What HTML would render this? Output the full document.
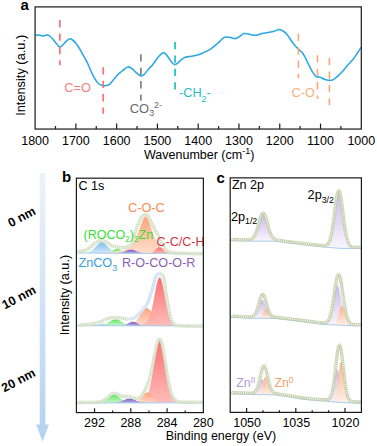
<!DOCTYPE html>
<html><head><meta charset="utf-8"><style>
html,body{margin:0;padding:0;background:#fff;}
svg{display:block;font-family:"Liberation Sans",sans-serif;}
</style></head><body>
<svg width="377" height="446" viewBox="0 0 377 446"><text x="20.6" y="10.3" font-size="15" font-weight="bold" font-family="Liberation Sans, sans-serif">a</text>
<path d="M35.8,35.4 C36.33,35.32 37.90,34.80 39.00,34.90 C40.10,35.00 41.50,35.85 42.40,36.00 C43.30,36.15 43.62,35.98 44.40,35.80 C45.18,35.62 46.20,34.87 47.10,34.90 C48.00,34.93 48.80,35.25 49.80,36.00 C50.80,36.75 51.98,38.13 53.10,39.40 C54.22,40.67 55.48,42.37 56.50,43.60 C57.52,44.83 58.30,46.43 59.20,46.80 C60.10,47.17 60.78,46.67 61.90,45.80 C63.02,44.93 64.67,42.75 65.90,41.60 C67.13,40.45 68.18,39.17 69.30,38.90 C70.42,38.63 71.37,39.10 72.60,40.00 C73.83,40.90 75.35,42.53 76.70,44.30 C78.05,46.07 79.63,48.80 80.70,50.60 C81.77,52.40 82.17,53.43 83.10,55.10 C84.03,56.77 85.25,58.55 86.30,60.60 C87.35,62.65 88.37,65.10 89.40,67.40 C90.43,69.70 91.45,72.30 92.50,74.40 C93.55,76.50 94.65,78.40 95.70,80.00 C96.75,81.60 97.63,83.07 98.80,84.00 C99.97,84.93 101.40,85.33 102.70,85.60 C104.00,85.87 105.42,85.85 106.60,85.60 C107.78,85.35 108.62,85.10 109.80,84.10 C110.98,83.10 112.40,81.13 113.70,79.60 C115.00,78.07 116.30,76.25 117.60,74.90 C118.90,73.55 120.32,72.48 121.50,71.50 C122.68,70.52 123.62,69.77 124.70,69.00 C125.78,68.23 126.77,66.97 128.00,66.90 C129.23,66.83 130.75,67.65 132.10,68.60 C133.45,69.55 134.65,71.38 136.10,72.60 C137.55,73.82 139.45,75.60 140.80,75.90 C142.15,76.20 142.97,75.48 144.20,74.40 C145.43,73.32 146.85,70.93 148.20,69.40 C149.55,67.87 150.78,67.05 152.30,65.20 C153.82,63.35 155.62,60.30 157.30,58.30 C158.98,56.30 161.05,53.98 162.40,53.20 C163.75,52.42 164.23,52.63 165.40,53.60 C166.57,54.57 168.30,57.52 169.40,59.00 C170.50,60.48 171.12,61.57 172.00,62.50 C172.88,63.43 173.68,64.55 174.70,64.60 C175.72,64.65 177.03,63.58 178.10,62.80 C179.17,62.02 179.92,60.82 181.10,59.90 C182.28,58.98 183.52,57.90 185.20,57.30 C186.88,56.70 189.18,56.67 191.20,56.30 C193.22,55.93 195.28,55.70 197.30,55.10 C199.32,54.50 201.28,53.57 203.30,52.70 C205.32,51.83 207.55,50.98 209.40,49.90 C211.25,48.82 212.72,47.58 214.40,46.20 C216.08,44.82 217.82,43.08 219.50,41.60 C221.18,40.12 222.82,38.02 224.50,37.30 C226.18,36.58 227.82,37.08 229.60,37.30 C231.38,37.52 233.65,38.67 235.20,38.60 C236.75,38.53 237.50,37.73 238.90,36.90 C240.30,36.07 242.05,34.10 243.60,33.60 C245.15,33.10 246.67,33.65 248.20,33.90 C249.73,34.15 251.25,34.90 252.80,35.10 C254.35,35.30 255.95,35.35 257.50,35.10 C259.05,34.85 260.40,34.02 262.10,33.60 C263.80,33.18 265.68,33.00 267.70,32.60 C269.72,32.20 272.35,31.70 274.20,31.20 C276.05,30.70 277.40,29.67 278.80,29.60 C280.20,29.53 281.35,30.13 282.60,30.80 C283.85,31.47 285.15,32.40 286.30,33.60 C287.45,34.80 288.30,36.32 289.50,38.00 C290.70,39.68 292.05,41.87 293.50,43.70 C294.95,45.53 296.60,47.33 298.20,49.00 C299.80,50.67 301.58,51.57 303.10,53.70 C304.62,55.83 305.88,59.03 307.30,61.80 C308.72,64.57 310.17,67.88 311.60,70.30 C313.03,72.72 314.48,75.13 315.90,76.30 C317.32,77.47 318.68,76.80 320.10,77.30 C321.52,77.80 322.98,78.80 324.40,79.30 C325.82,79.80 327.18,80.20 328.60,80.30 C330.02,80.40 331.48,80.50 332.90,79.90 C334.32,79.30 335.52,78.12 337.10,76.70 C338.68,75.28 340.62,73.35 342.40,71.40 C344.18,69.45 346.02,67.02 347.80,65.00 C349.58,62.98 351.52,61.25 353.10,59.30 C354.68,57.35 355.95,55.30 357.30,53.30 C358.65,51.30 360.55,48.30 361.20,47.30" fill="none" stroke="#2aa8e4" stroke-width="1.55" stroke-linejoin="round"/>
<line x1="59.85" y1="20.1" x2="59.85" y2="65.2" stroke="#ff7072" stroke-width="1.7" stroke-dasharray="7.3 6.1"/>
<line x1="103.2" y1="67.3" x2="103.2" y2="113.7" stroke="#ff7072" stroke-width="1.7" stroke-dasharray="7.3 6.1"/>
<line x1="140.9" y1="54.3" x2="140.9" y2="100.7" stroke="#828282" stroke-width="1.7" stroke-dasharray="7.3 6.1"/>
<line x1="175.05" y1="42.0" x2="175.05" y2="89.8" stroke="#1fbfc2" stroke-width="1.7" stroke-dasharray="7.3 6.1"/>
<line x1="298.4" y1="33.8" x2="298.4" y2="78.2" stroke="#ffa470" stroke-width="1.5" stroke-dasharray="7.3 6.1"/>
<line x1="317.5" y1="55.3" x2="317.5" y2="99.1" stroke="#ffa470" stroke-width="1.5" stroke-dasharray="7.3 6.1"/>
<line x1="329.4" y1="58.0" x2="329.4" y2="105.3" stroke="#ffa470" stroke-width="1.5" stroke-dasharray="7.3 6.1"/>
<text x="64.3" y="91.7" font-size="12.8" fill="#f47f7f" font-family="Liberation Sans, sans-serif">C=O</text>
<text x="129.8" y="112.7" font-size="12.9" fill="#6a6a6a" font-family="Liberation Sans, sans-serif">CO<tspan font-size="8.8" dy="3.4">3</tspan><tspan font-size="8.8" dy="-7.9">2-</tspan></text>
<text x="179.0" y="97.0" font-size="12.7" fill="#1fbfc2" font-family="Liberation Sans, sans-serif">-CH<tspan font-size="8.8" dy="4.6">2</tspan><tspan dy="-5">-</tspan></text>
<text x="291.5" y="97" font-size="12.7" fill="#f8b07c" font-family="Liberation Sans, sans-serif">C-O</text>
<rect x="35.1" y="6.9" width="326.2" height="122.15" fill="none" stroke="#1a1a1a" stroke-width="1.2"/>
<line x1="55.49" y1="129.05" x2="55.49" y2="126.05000000000001" stroke="#1a1a1a" stroke-width="1.2"/>
<line x1="75.88" y1="129.05" x2="75.88" y2="123.55000000000001" stroke="#1a1a1a" stroke-width="1.2"/>
<line x1="96.26" y1="129.05" x2="96.26" y2="126.05000000000001" stroke="#1a1a1a" stroke-width="1.2"/>
<line x1="116.65" y1="129.05" x2="116.65" y2="123.55000000000001" stroke="#1a1a1a" stroke-width="1.2"/>
<line x1="137.04" y1="129.05" x2="137.04" y2="126.05000000000001" stroke="#1a1a1a" stroke-width="1.2"/>
<line x1="157.43" y1="129.05" x2="157.43" y2="123.55000000000001" stroke="#1a1a1a" stroke-width="1.2"/>
<line x1="177.81" y1="129.05" x2="177.81" y2="126.05000000000001" stroke="#1a1a1a" stroke-width="1.2"/>
<line x1="198.20" y1="129.05" x2="198.20" y2="123.55000000000001" stroke="#1a1a1a" stroke-width="1.2"/>
<line x1="218.59" y1="129.05" x2="218.59" y2="126.05000000000001" stroke="#1a1a1a" stroke-width="1.2"/>
<line x1="238.97" y1="129.05" x2="238.97" y2="123.55000000000001" stroke="#1a1a1a" stroke-width="1.2"/>
<line x1="259.36" y1="129.05" x2="259.36" y2="126.05000000000001" stroke="#1a1a1a" stroke-width="1.2"/>
<line x1="279.75" y1="129.05" x2="279.75" y2="123.55000000000001" stroke="#1a1a1a" stroke-width="1.2"/>
<line x1="300.14" y1="129.05" x2="300.14" y2="126.05000000000001" stroke="#1a1a1a" stroke-width="1.2"/>
<line x1="320.53" y1="129.05" x2="320.53" y2="123.55000000000001" stroke="#1a1a1a" stroke-width="1.2"/>
<line x1="340.91" y1="129.05" x2="340.91" y2="126.05000000000001" stroke="#1a1a1a" stroke-width="1.2"/>
<text x="35.10" y="145.1" font-size="12.5" text-anchor="middle" font-family="Liberation Sans, sans-serif">1800</text>
<text x="75.88" y="145.1" font-size="12.5" text-anchor="middle" font-family="Liberation Sans, sans-serif">1700</text>
<text x="116.65" y="145.1" font-size="12.5" text-anchor="middle" font-family="Liberation Sans, sans-serif">1600</text>
<text x="157.43" y="145.1" font-size="12.5" text-anchor="middle" font-family="Liberation Sans, sans-serif">1500</text>
<text x="198.20" y="145.1" font-size="12.5" text-anchor="middle" font-family="Liberation Sans, sans-serif">1400</text>
<text x="238.97" y="145.1" font-size="12.5" text-anchor="middle" font-family="Liberation Sans, sans-serif">1300</text>
<text x="279.75" y="145.1" font-size="12.5" text-anchor="middle" font-family="Liberation Sans, sans-serif">1200</text>
<text x="320.53" y="145.1" font-size="12.5" text-anchor="middle" font-family="Liberation Sans, sans-serif">1100</text>
<text x="361.30" y="145.1" font-size="12.5" text-anchor="middle" font-family="Liberation Sans, sans-serif">1000</text>
<text x="199.2" y="158.6" font-size="12.5" text-anchor="middle" font-family="Liberation Sans, sans-serif">Wavenumber (cm<tspan font-size="9" dy="-4.6">-1</tspan><tspan dy="4.6">)</tspan></text>
<text transform="translate(24.8,75.3) rotate(-90)" font-size="12.8" text-anchor="middle" font-family="Liberation Sans, sans-serif">Intensity (a.u.)</text>
<defs><linearGradient id="ag" x1="0" y1="0" x2="0" y2="1"><stop offset="0" stop-color="#eef3fa"/><stop offset="1" stop-color="#b4d2ef"/></linearGradient>
<linearGradient id="gB" x1="0" y1="0" x2="0" y2="1"><stop offset="0" stop-color="#72b8ea"/><stop offset="1" stop-color="#cfe6f8"/></linearGradient>
<linearGradient id="gG" x1="0" y1="0" x2="0" y2="1"><stop offset="0" stop-color="#4fe64f"/><stop offset="1" stop-color="#c8f5c8"/></linearGradient>
<linearGradient id="gP" x1="0" y1="0" x2="0" y2="1"><stop offset="0" stop-color="#6e4cc0"/><stop offset="1" stop-color="#b8a8e8"/></linearGradient>
<linearGradient id="gO" x1="0" y1="0" x2="0" y2="1"><stop offset="0" stop-color="#ff9b6e"/><stop offset="1" stop-color="#ffdcc8"/></linearGradient>
<linearGradient id="gR" x1="0" y1="0" x2="0" y2="1"><stop offset="0" stop-color="#f96062"/><stop offset="1" stop-color="#ffb6b2"/></linearGradient>
<linearGradient id="gL" x1="0" y1="0" x2="0" y2="1"><stop offset="0" stop-color="#c3ace6"/><stop offset="1" stop-color="#f8f4fc"/></linearGradient>
<linearGradient id="gZ" x1="0" y1="0" x2="0" y2="1"><stop offset="0" stop-color="#ffa878"/><stop offset="1" stop-color="#fff0e6"/></linearGradient>
</defs>
<path d="M39.7,173 L45.4,173 L45.4,424.5 L49,424.5 L42.55,441.5 L36.1,424.5 L39.7,424.5 Z" fill="url(#ag)"/>
<text transform="translate(10.8,227.4) rotate(-28)" font-size="12.5" font-weight="bold" font-family="Liberation Sans, sans-serif">0 nm</text>
<text transform="translate(4.8,309.6) rotate(-28)" font-size="12.5" font-weight="bold" font-family="Liberation Sans, sans-serif">10 nm</text>
<text transform="translate(4.3,392.4) rotate(-28)" font-size="12.5" font-weight="bold" font-family="Liberation Sans, sans-serif">20 nm</text>
<text x="62.0" y="182.3" font-size="15" font-weight="bold" font-family="Liberation Sans, sans-serif">b</text>
<text x="78.5" y="190.0" font-size="12.6" font-family="Liberation Sans, sans-serif">C 1s</text>
<path d="M82.5,252.98 L83.0,252.97 L83.5,252.95 L84.0,252.93 L84.5,252.90 L85.0,252.86 L85.5,252.82 L86.0,252.76 L86.5,252.69 L87.0,252.60 L87.5,252.49 L88.0,252.37 L88.5,252.22 L89.0,252.05 L89.5,251.85 L90.0,251.62 L90.5,251.36 L91.0,251.07 L91.5,250.74 L92.0,250.38 L92.5,249.98 L93.0,249.55 L93.5,249.09 L94.0,248.60 L94.5,248.09 L95.0,247.56 L95.5,247.01 L96.0,246.46 L96.5,245.91 L97.0,245.37 L97.5,244.85 L98.0,244.36 L98.5,243.90 L99.0,243.49 L99.5,243.13 L100.0,242.84 L100.5,242.61 L101.0,242.45 L101.5,242.37 L102.0,242.36 L102.5,242.44 L103.0,242.59 L103.5,242.81 L104.0,243.10 L104.5,243.45 L105.0,243.85 L105.5,244.31 L106.0,244.80 L106.5,245.32 L107.0,245.87 L107.5,246.42 L108.0,246.98 L108.5,247.53 L109.0,248.07 L109.5,248.60 L110.0,249.10 L110.5,249.57 L111.0,250.01 L111.5,250.42 L112.0,250.80 L112.5,251.14 L113.0,251.45 L113.5,251.72 L114.0,251.96 L114.5,252.17 L115.0,252.36 L115.5,252.52 L116.0,252.65 L116.5,252.77 L117.0,252.86 L117.5,252.94 L118.0,253.01 L118.5,253.07 L119.0,253.11 L119.5,253.15 L120.0,253.18 L120.5,253.21 L121.0,253.23 L121.0,253.28 L120.5,253.28 L120.0,253.27 L119.5,253.27 L119.0,253.27 L118.5,253.26 L118.0,253.26 L117.5,253.26 L117.0,253.25 L116.5,253.25 L116.0,253.25 L115.5,253.24 L115.0,253.24 L114.5,253.24 L114.0,253.23 L113.5,253.23 L113.0,253.23 L112.5,253.23 L112.0,253.22 L111.5,253.22 L111.0,253.22 L110.5,253.21 L110.0,253.21 L109.5,253.21 L109.0,253.20 L108.5,253.20 L108.0,253.20 L107.5,253.19 L107.0,253.19 L106.5,253.19 L106.0,253.18 L105.5,253.18 L105.0,253.18 L104.5,253.17 L104.0,253.17 L103.5,253.17 L103.0,253.17 L102.5,253.16 L102.0,253.16 L101.5,253.16 L101.0,253.15 L100.5,253.15 L100.0,253.15 L99.5,253.14 L99.0,253.14 L98.5,253.14 L98.0,253.13 L97.5,253.13 L97.0,253.13 L96.5,253.12 L96.0,253.12 L95.5,253.12 L95.0,253.11 L94.5,253.11 L94.0,253.11 L93.5,253.10 L93.0,253.10 L92.5,253.10 L92.0,253.10 L91.5,253.09 L91.0,253.09 L90.5,253.09 L90.0,253.08 L89.5,253.08 L89.0,253.08 L88.5,253.07 L88.0,253.07 L87.5,253.07 L87.0,253.06 L86.5,253.06 L86.0,253.06 L85.5,253.05 L85.0,253.05 L84.5,253.05 L84.0,253.04 L83.5,253.04 L83.0,253.04 L82.5,253.03 Z" fill="url(#gB)" fill-opacity="0.9"/>
<path d="M104.0,253.15 L104.5,253.14 L105.0,253.13 L105.5,253.11 L106.0,253.08 L106.5,253.04 L107.0,252.99 L107.5,252.92 L108.0,252.83 L108.5,252.72 L109.0,252.58 L109.5,252.41 L110.0,252.21 L110.5,251.98 L111.0,251.72 L111.5,251.43 L112.0,251.12 L112.5,250.78 L113.0,250.44 L113.5,250.09 L114.0,249.76 L114.5,249.45 L115.0,249.18 L115.5,248.96 L116.0,248.79 L116.5,248.69 L117.0,248.65 L117.5,248.69 L118.0,248.80 L118.5,248.98 L119.0,249.21 L119.5,249.49 L120.0,249.80 L120.5,250.14 L121.0,250.49 L121.5,250.84 L122.0,251.18 L122.5,251.50 L123.0,251.80 L123.5,252.07 L124.0,252.30 L124.5,252.51 L125.0,252.68 L125.5,252.83 L126.0,252.95 L126.5,253.04 L127.0,253.12 L127.5,253.17 L128.0,253.22 L128.5,253.25 L129.0,253.28 L129.5,253.30 L130.0,253.31 L130.0,253.34 L129.5,253.33 L129.0,253.33 L128.5,253.33 L128.0,253.32 L127.5,253.32 L127.0,253.32 L126.5,253.31 L126.0,253.31 L125.5,253.31 L125.0,253.30 L124.5,253.30 L124.0,253.30 L123.5,253.30 L123.0,253.29 L122.5,253.29 L122.0,253.29 L121.5,253.28 L121.0,253.28 L120.5,253.28 L120.0,253.27 L119.5,253.27 L119.0,253.27 L118.5,253.26 L118.0,253.26 L117.5,253.26 L117.0,253.25 L116.5,253.25 L116.0,253.25 L115.5,253.24 L115.0,253.24 L114.5,253.24 L114.0,253.23 L113.5,253.23 L113.0,253.23 L112.5,253.23 L112.0,253.22 L111.5,253.22 L111.0,253.22 L110.5,253.21 L110.0,253.21 L109.5,253.21 L109.0,253.20 L108.5,253.20 L108.0,253.20 L107.5,253.19 L107.0,253.19 L106.5,253.19 L106.0,253.18 L105.5,253.18 L105.0,253.18 L104.5,253.17 L104.0,253.17 Z" fill="url(#gG)" fill-opacity="0.9"/>
<path d="M104.5,252.20 L105.0,252.18 L105.5,252.16 L106.0,252.14 L106.5,252.12 L107.0,252.09 L107.5,252.07 L108.0,252.04 L108.5,252.02 L109.0,251.99 L109.5,251.96 L110.0,251.93 L110.5,251.90 L111.0,251.86 L111.5,251.83 L112.0,251.79 L112.5,251.75 L113.0,251.71 L113.5,251.67 L114.0,251.63 L114.5,251.58 L115.0,251.53 L115.5,251.48 L116.0,251.43 L116.5,251.37 L117.0,251.32 L117.5,251.25 L118.0,251.19 L118.5,251.12 L119.0,251.05 L119.5,250.97 L120.0,250.89 L120.5,250.80 L121.0,250.71 L121.5,250.61 L122.0,250.50 L122.5,250.39 L123.0,250.27 L123.5,250.14 L124.0,249.99 L124.5,249.84 L125.0,249.67 L125.5,249.49 L126.0,249.30 L126.5,249.08 L127.0,248.85 L127.5,248.59 L128.0,248.31 L128.5,248.01 L129.0,247.67 L129.5,247.30 L130.0,246.90 L130.5,246.46 L131.0,245.97 L131.5,245.45 L132.0,244.87 L132.5,244.25 L133.0,243.57 L133.5,242.83 L134.0,242.03 L134.5,241.18 L135.0,240.25 L135.5,239.27 L136.0,238.21 L136.5,237.10 L137.0,235.91 L137.5,234.67 L138.0,233.36 L138.5,232.01 L139.0,230.60 L139.5,229.16 L140.0,227.70 L140.5,226.23 L141.0,224.77 L141.5,223.34 L142.0,221.98 L142.5,220.70 L143.0,219.55 L143.5,218.55 L144.0,217.73 L144.5,217.13 L145.0,216.76 L145.5,216.63 L146.0,216.76 L146.5,217.14 L147.0,217.75 L147.5,218.57 L148.0,219.58 L148.5,220.74 L149.0,222.02 L149.5,223.39 L150.0,224.83 L150.5,226.29 L151.0,227.77 L151.5,229.24 L152.0,230.69 L152.5,232.10 L153.0,233.46 L153.5,234.77 L154.0,236.02 L154.5,237.21 L155.0,238.34 L155.5,239.39 L156.0,240.39 L156.5,241.31 L157.0,242.18 L157.5,242.98 L158.0,243.72 L158.5,244.41 L159.0,245.04 L159.5,245.63 L160.0,246.16 L160.5,246.65 L161.0,247.10 L161.5,247.51 L162.0,247.88 L162.5,248.22 L163.0,248.54 L163.5,248.82 L164.0,249.08 L164.5,249.32 L165.0,249.55 L165.5,249.75 L166.0,249.93 L166.5,250.11 L167.0,250.27 L167.5,250.41 L168.0,250.55 L168.5,250.68 L169.0,250.80 L169.5,250.91 L170.0,251.02 L170.5,251.12 L171.0,251.21 L171.5,251.30 L172.0,251.38 L172.5,251.46 L173.0,251.54 L173.5,251.61 L174.0,251.68 L174.5,251.74 L175.0,251.81 L175.5,251.86 L176.0,251.92 L176.5,251.98 L177.0,252.03 L177.5,252.08 L178.0,252.13 L178.5,252.17 L179.0,252.22 L179.5,252.26 L180.0,252.30 L180.5,252.34 L181.0,252.38 L181.5,252.42 L182.0,252.45 L182.5,252.49 L183.0,252.52 L183.5,252.55 L184.0,252.58 L184.5,252.61 L185.0,252.64 L185.5,252.67 L186.0,252.70 L186.5,252.72 L186.5,253.70 L186.0,253.69 L185.5,253.69 L185.0,253.69 L184.5,253.68 L184.0,253.68 L183.5,253.68 L183.0,253.67 L182.5,253.67 L182.0,253.67 L181.5,253.66 L181.0,253.66 L180.5,253.66 L180.0,253.65 L179.5,253.65 L179.0,253.65 L178.5,253.64 L178.0,253.64 L177.5,253.64 L177.0,253.63 L176.5,253.63 L176.0,253.63 L175.5,253.63 L175.0,253.62 L174.5,253.62 L174.0,253.62 L173.5,253.61 L173.0,253.61 L172.5,253.61 L172.0,253.60 L171.5,253.60 L171.0,253.60 L170.5,253.59 L170.0,253.59 L169.5,253.59 L169.0,253.58 L168.5,253.58 L168.0,253.58 L167.5,253.57 L167.0,253.57 L166.5,253.57 L166.0,253.57 L165.5,253.56 L165.0,253.56 L164.5,253.56 L164.0,253.55 L163.5,253.55 L163.0,253.55 L162.5,253.54 L162.0,253.54 L161.5,253.54 L161.0,253.53 L160.5,253.53 L160.0,253.53 L159.5,253.52 L159.0,253.52 L158.5,253.52 L158.0,253.51 L157.5,253.51 L157.0,253.51 L156.5,253.50 L156.0,253.50 L155.5,253.50 L155.0,253.50 L154.5,253.49 L154.0,253.49 L153.5,253.49 L153.0,253.48 L152.5,253.48 L152.0,253.48 L151.5,253.47 L151.0,253.47 L150.5,253.47 L150.0,253.46 L149.5,253.46 L149.0,253.46 L148.5,253.45 L148.0,253.45 L147.5,253.45 L147.0,253.44 L146.5,253.44 L146.0,253.44 L145.5,253.43 L145.0,253.43 L144.5,253.43 L144.0,253.43 L143.5,253.42 L143.0,253.42 L142.5,253.42 L142.0,253.41 L141.5,253.41 L141.0,253.41 L140.5,253.40 L140.0,253.40 L139.5,253.40 L139.0,253.39 L138.5,253.39 L138.0,253.39 L137.5,253.38 L137.0,253.38 L136.5,253.38 L136.0,253.37 L135.5,253.37 L135.0,253.37 L134.5,253.37 L134.0,253.36 L133.5,253.36 L133.0,253.36 L132.5,253.35 L132.0,253.35 L131.5,253.35 L131.0,253.34 L130.5,253.34 L130.0,253.34 L129.5,253.33 L129.0,253.33 L128.5,253.33 L128.0,253.32 L127.5,253.32 L127.0,253.32 L126.5,253.31 L126.0,253.31 L125.5,253.31 L125.0,253.30 L124.5,253.30 L124.0,253.30 L123.5,253.30 L123.0,253.29 L122.5,253.29 L122.0,253.29 L121.5,253.28 L121.0,253.28 L120.5,253.28 L120.0,253.27 L119.5,253.27 L119.0,253.27 L118.5,253.26 L118.0,253.26 L117.5,253.26 L117.0,253.25 L116.5,253.25 L116.0,253.25 L115.5,253.24 L115.0,253.24 L114.5,253.24 L114.0,253.23 L113.5,253.23 L113.0,253.23 L112.5,253.23 L112.0,253.22 L111.5,253.22 L111.0,253.22 L110.5,253.21 L110.0,253.21 L109.5,253.21 L109.0,253.20 L108.5,253.20 L108.0,253.20 L107.5,253.19 L107.0,253.19 L106.5,253.19 L106.0,253.18 L105.5,253.18 L105.0,253.18 L104.5,253.17 Z" fill="url(#gO)" fill-opacity="0.9"/>
<path d="M147.0,253.41 L147.5,253.40 L148.0,253.38 L148.5,253.35 L149.0,253.31 L149.5,253.25 L150.0,253.17 L150.5,253.07 L151.0,252.93 L151.5,252.76 L152.0,252.55 L152.5,252.29 L153.0,251.98 L153.5,251.63 L154.0,251.23 L154.5,250.79 L155.0,250.32 L155.5,249.84 L156.0,249.35 L156.5,248.87 L157.0,248.43 L157.5,248.04 L158.0,247.72 L158.5,247.49 L159.0,247.35 L159.5,247.33 L160.0,247.40 L160.5,247.58 L161.0,247.86 L161.5,248.21 L162.0,248.63 L162.5,249.10 L163.0,249.59 L163.5,250.08 L164.0,250.57 L164.5,251.04 L165.0,251.47 L165.5,251.85 L166.0,252.19 L166.5,252.49 L167.0,252.73 L167.5,252.94 L168.0,253.10 L168.5,253.23 L169.0,253.33 L169.5,253.41 L170.0,253.46 L170.5,253.51 L171.0,253.54 L171.5,253.56 L171.5,253.60 L171.0,253.60 L170.5,253.59 L170.0,253.59 L169.5,253.59 L169.0,253.58 L168.5,253.58 L168.0,253.58 L167.5,253.57 L167.0,253.57 L166.5,253.57 L166.0,253.57 L165.5,253.56 L165.0,253.56 L164.5,253.56 L164.0,253.55 L163.5,253.55 L163.0,253.55 L162.5,253.54 L162.0,253.54 L161.5,253.54 L161.0,253.53 L160.5,253.53 L160.0,253.53 L159.5,253.52 L159.0,253.52 L158.5,253.52 L158.0,253.51 L157.5,253.51 L157.0,253.51 L156.5,253.50 L156.0,253.50 L155.5,253.50 L155.0,253.50 L154.5,253.49 L154.0,253.49 L153.5,253.49 L153.0,253.48 L152.5,253.48 L152.0,253.48 L151.5,253.47 L151.0,253.47 L150.5,253.47 L150.0,253.46 L149.5,253.46 L149.0,253.46 L148.5,253.45 L148.0,253.45 L147.5,253.45 L147.0,253.44 Z" fill="url(#gR)" fill-opacity="0.9"/>
<path d="M113.0,253.21 L113.5,253.21 L114.0,253.20 L114.5,253.20 L115.0,253.19 L115.5,253.17 L116.0,253.16 L116.5,253.14 L117.0,253.11 L117.5,253.08 L118.0,253.03 L118.5,252.98 L119.0,252.92 L119.5,252.85 L120.0,252.77 L120.5,252.68 L121.0,252.57 L121.5,252.45 L122.0,252.32 L122.5,252.17 L123.0,252.01 L123.5,251.84 L124.0,251.65 L124.5,251.46 L125.0,251.26 L125.5,251.06 L126.0,250.86 L126.5,250.67 L127.0,250.48 L127.5,250.30 L128.0,250.14 L128.5,249.99 L129.0,249.87 L129.5,249.77 L130.0,249.70 L130.5,249.65 L131.0,249.64 L131.5,249.66 L132.0,249.71 L132.5,249.79 L133.0,249.89 L133.5,250.02 L134.0,250.17 L134.5,250.34 L135.0,250.53 L135.5,250.72 L136.0,250.93 L136.5,251.13 L137.0,251.34 L137.5,251.54 L138.0,251.74 L138.5,251.93 L139.0,252.11 L139.5,252.28 L140.0,252.43 L140.5,252.57 L141.0,252.70 L141.5,252.81 L142.0,252.91 L142.5,253.00 L143.0,253.08 L143.5,253.14 L144.0,253.20 L144.5,253.25 L145.0,253.29 L145.5,253.32 L146.0,253.35 L146.5,253.37 L147.0,253.39 L147.5,253.41 L148.0,253.42 L148.5,253.43 L149.0,253.44 L149.0,253.46 L148.5,253.45 L148.0,253.45 L147.5,253.45 L147.0,253.44 L146.5,253.44 L146.0,253.44 L145.5,253.43 L145.0,253.43 L144.5,253.43 L144.0,253.43 L143.5,253.42 L143.0,253.42 L142.5,253.42 L142.0,253.41 L141.5,253.41 L141.0,253.41 L140.5,253.40 L140.0,253.40 L139.5,253.40 L139.0,253.39 L138.5,253.39 L138.0,253.39 L137.5,253.38 L137.0,253.38 L136.5,253.38 L136.0,253.37 L135.5,253.37 L135.0,253.37 L134.5,253.37 L134.0,253.36 L133.5,253.36 L133.0,253.36 L132.5,253.35 L132.0,253.35 L131.5,253.35 L131.0,253.34 L130.5,253.34 L130.0,253.34 L129.5,253.33 L129.0,253.33 L128.5,253.33 L128.0,253.32 L127.5,253.32 L127.0,253.32 L126.5,253.31 L126.0,253.31 L125.5,253.31 L125.0,253.30 L124.5,253.30 L124.0,253.30 L123.5,253.30 L123.0,253.29 L122.5,253.29 L122.0,253.29 L121.5,253.28 L121.0,253.28 L120.5,253.28 L120.0,253.27 L119.5,253.27 L119.0,253.27 L118.5,253.26 L118.0,253.26 L117.5,253.26 L117.0,253.25 L116.5,253.25 L116.0,253.25 L115.5,253.24 L115.0,253.24 L114.5,253.24 L114.0,253.23 L113.5,253.23 L113.0,253.23 Z" fill="url(#gP)" fill-opacity="0.9"/>
<path d="M77.0,253.00 L79.0,253.01 L81.0,253.03 L83.0,253.04 L85.0,253.05 L87.0,253.06 L89.0,253.08 L91.0,253.09 L93.0,253.10 L95.0,253.11 L97.0,253.13 L99.0,253.14 L101.0,253.15 L103.0,253.17 L105.0,253.18 L107.0,253.19 L109.0,253.20 L111.0,253.22 L113.0,253.23 L115.0,253.24 L117.0,253.25 L119.0,253.27 L121.0,253.28 L123.0,253.29 L125.0,253.30 L127.0,253.32 L129.0,253.33 L131.0,253.34 L133.0,253.36 L135.0,253.37 L137.0,253.38 L139.0,253.39 L141.0,253.41 L143.0,253.42 L145.0,253.43 L147.0,253.44 L149.0,253.46 L151.0,253.47 L153.0,253.48 L155.0,253.50 L157.0,253.51 L159.0,253.52 L161.0,253.53 L163.0,253.55 L165.0,253.56 L167.0,253.57 L169.0,253.58 L171.0,253.60 L173.0,253.61 L175.0,253.62 L177.0,253.63 L179.0,253.65 L181.0,253.66 L183.0,253.67 L185.0,253.69 L187.0,253.70 L189.0,253.71 L191.0,253.72 L193.0,253.74 L195.0,253.75 L197.0,253.76 L199.0,253.77 L201.0,253.79 L203.0,253.80" fill="none" stroke="#a8ccee" stroke-width="1"/>
<path d="M77.00,251.80 L77.20,251.77 L77.46,251.75 L77.75,251.72 L78.08,251.68 L78.44,251.64 L78.82,251.60 L79.22,251.55 L79.63,251.50 L80.05,251.43 L80.48,251.36 L80.89,251.29 L81.30,251.20 L81.71,251.10 L82.14,251.00 L82.59,250.89 L83.04,250.78 L83.50,250.65 L83.97,250.52 L84.43,250.39 L84.89,250.24 L85.34,250.09 L85.78,249.94 L86.20,249.77 L86.60,249.60 L86.98,249.42 L87.34,249.24 L87.68,249.05 L88.02,248.85 L88.34,248.64 L88.66,248.43 L88.98,248.21 L89.29,247.99 L89.61,247.75 L89.93,247.51 L90.26,247.26 L90.60,247.00 L90.95,246.73 L91.31,246.43 L91.67,246.12 L92.03,245.79 L92.40,245.46 L92.76,245.12 L93.13,244.79 L93.49,244.46 L93.85,244.15 L94.21,243.84 L94.56,243.56 L94.90,243.30 L95.23,243.06 L95.56,242.83 L95.89,242.60 L96.21,242.39 L96.52,242.19 L96.84,242.00 L97.15,241.82 L97.46,241.65 L97.77,241.50 L98.08,241.35 L98.39,241.22 L98.70,241.10 L99.01,240.99 L99.32,240.89 L99.62,240.81 L99.92,240.73 L100.22,240.66 L100.52,240.61 L100.82,240.57 L101.13,240.55 L101.44,240.54 L101.75,240.54 L102.07,240.56 L102.40,240.60 L102.74,240.66 L103.09,240.73 L103.45,240.83 L103.81,240.94 L104.18,241.06 L104.55,241.20 L104.92,241.35 L105.29,241.51 L105.65,241.67 L106.01,241.85 L106.36,242.02 L106.70,242.20 L107.03,242.39 L107.35,242.60 L107.67,242.83 L107.98,243.06 L108.29,243.31 L108.59,243.56 L108.90,243.80 L109.20,244.05 L109.50,244.28 L109.80,244.51 L110.10,244.71 L110.40,244.90 L110.70,245.07 L110.99,245.23 L111.28,245.37 L111.56,245.51 L111.84,245.64 L112.12,245.76 L112.41,245.88 L112.71,245.99 L113.01,246.10 L113.33,246.20 L113.65,246.30 L114.00,246.40 L114.37,246.50 L114.76,246.59 L115.17,246.68 L115.59,246.77 L116.02,246.85 L116.46,246.93 L116.89,247.01 L117.32,247.07 L117.74,247.14 L118.15,247.20 L118.54,247.25 L118.90,247.30 L119.24,247.34 L119.56,247.38 L119.87,247.41 L120.17,247.44 L120.45,247.46 L120.73,247.48 L121.01,247.49 L121.28,247.50 L121.55,247.50 L121.83,247.50 L122.11,247.50 L122.40,247.50 L122.70,247.50 L122.99,247.49 L123.29,247.48 L123.59,247.47 L123.89,247.46 L124.19,247.44 L124.49,247.41 L124.80,247.39 L125.10,247.35 L125.40,247.31 L125.70,247.26 L126.00,247.20 L126.30,247.14 L126.61,247.08 L126.92,247.01 L127.24,246.95 L127.55,246.88 L127.86,246.79 L128.17,246.70 L128.47,246.60 L128.77,246.48 L129.06,246.34 L129.34,246.18 L129.60,246.00 L129.85,245.80 L130.10,245.59 L130.34,245.37 L130.57,245.13 L130.79,244.88 L131.01,244.61 L131.22,244.32 L131.43,244.01 L131.63,243.69 L131.82,243.35 L132.01,242.98 L132.20,242.60 L132.38,242.19 L132.54,241.76 L132.69,241.31 L132.84,240.83 L132.98,240.34 L133.11,239.83 L133.25,239.31 L133.39,238.77 L133.53,238.21 L133.67,237.65 L133.83,237.08 L134.00,236.50 L134.18,235.90 L134.36,235.27 L134.55,234.62 L134.75,233.95 L134.95,233.27 L135.15,232.58 L135.36,231.89 L135.56,231.20 L135.77,230.53 L135.98,229.86 L136.19,229.22 L136.40,228.60 L136.61,228.00 L136.82,227.40 L137.04,226.81 L137.25,226.23 L137.47,225.66 L137.69,225.10 L137.91,224.55 L138.13,224.01 L138.35,223.49 L138.56,222.98 L138.78,222.48 L139.00,222.00 L139.22,221.53 L139.44,221.08 L139.65,220.64 L139.87,220.20 L140.09,219.79 L140.31,219.38 L140.53,218.99 L140.75,218.62 L140.96,218.26 L141.18,217.92 L141.39,217.60 L141.60,217.30 L141.81,217.02 L142.02,216.76 L142.23,216.52 L142.44,216.29 L142.64,216.09 L142.85,215.89 L143.05,215.72 L143.25,215.55 L143.45,215.40 L143.64,215.26 L143.82,215.12 L144.00,215.00 L144.17,214.88 L144.33,214.78 L144.49,214.69 L144.64,214.61 L144.78,214.54 L144.92,214.48 L145.07,214.44 L145.21,214.40 L145.35,214.38 L145.50,214.38 L145.64,214.38 L145.80,214.40 L145.96,214.42 L146.11,214.45 L146.27,214.48 L146.43,214.52 L146.59,214.57 L146.75,214.64 L146.91,214.73 L147.08,214.84 L147.25,214.98 L147.43,215.15 L147.61,215.35 L147.80,215.60 L148.00,215.89 L148.20,216.23 L148.40,216.61 L148.61,217.02 L148.83,217.46 L149.05,217.92 L149.27,218.40 L149.50,218.89 L149.72,219.38 L149.95,219.86 L150.17,220.34 L150.40,220.80 L150.63,221.26 L150.86,221.72 L151.10,222.20 L151.34,222.68 L151.58,223.16 L151.83,223.64 L152.07,224.12 L152.30,224.60 L152.54,225.07 L152.77,225.53 L152.99,225.97 L153.20,226.40 L153.40,226.81 L153.59,227.21 L153.77,227.59 L153.94,227.96 L154.11,228.32 L154.28,228.68 L154.45,229.04 L154.62,229.40 L154.80,229.76 L154.99,230.13 L155.19,230.51 L155.40,230.90 L155.63,231.30 L155.87,231.70 L156.12,232.10 L156.37,232.51 L156.64,232.92 L156.91,233.33 L157.18,233.75 L157.45,234.18 L157.72,234.62 L157.98,235.07 L158.25,235.53 L158.50,236.00 L158.75,236.49 L158.99,237.00 L159.24,237.53 L159.48,238.07 L159.72,238.63 L159.96,239.18 L160.19,239.74 L160.43,240.29 L160.67,240.84 L160.91,241.38 L161.16,241.90 L161.40,242.40 L161.65,242.89 L161.89,243.38 L162.14,243.87 L162.39,244.36 L162.63,244.83 L162.88,245.30 L163.13,245.76 L163.38,246.20 L163.63,246.63 L163.89,247.04 L164.14,247.43 L164.40,247.80 L164.66,248.15 L164.91,248.48 L165.17,248.79 L165.43,249.09 L165.68,249.37 L165.94,249.64 L166.21,249.89 L166.47,250.13 L166.75,250.36 L167.02,250.58 L167.31,250.80 L167.60,251.00 L167.90,251.19 L168.21,251.37 L168.54,251.54 L168.86,251.69 L169.20,251.83 L169.53,251.96 L169.87,252.09 L170.20,252.20 L170.54,252.31 L170.87,252.41 L171.19,252.51 L171.50,252.60 L171.77,252.69 L171.97,252.76 L172.13,252.82 L172.27,252.88 L172.40,252.93 L172.56,252.97 L172.75,253.01 L173.00,253.05 L173.33,253.09 L173.76,253.12 L174.31,253.16 L175.00,253.20 L175.85,253.24 L176.86,253.28 L177.99,253.32 L179.22,253.36 L180.54,253.39 L181.91,253.42 L183.31,253.46 L184.72,253.49 L186.12,253.52 L187.48,253.55 L188.78,253.57 L190.00,253.60 L191.19,253.62 L192.43,253.65 L193.70,253.67 L194.96,253.69 L196.22,253.71 L197.44,253.72 L198.61,253.74 L199.70,253.76 L200.71,253.77 L201.61,253.78 L202.38,253.79 L203.00,253.80" fill="none" stroke="#d8e6cc" stroke-width="2.6" stroke-linejoin="round" opacity="0.3"/>
<path d="M77.74,251.57a1.35,1.35 0 1,0 2.7,0a1.35,1.35 0 1,0 -2.7,0M79.81,251.23a1.35,1.35 0 1,0 2.7,0a1.35,1.35 0 1,0 -2.7,0M81.85,250.74a1.35,1.35 0 1,0 2.7,0a1.35,1.35 0 1,0 -2.7,0M83.86,250.14a1.35,1.35 0 1,0 2.7,0a1.35,1.35 0 1,0 -2.7,0M85.80,249.33a1.35,1.35 0 1,0 2.7,0a1.35,1.35 0 1,0 -2.7,0M87.59,248.24a1.35,1.35 0 1,0 2.7,0a1.35,1.35 0 1,0 -2.7,0M89.27,246.98a1.35,1.35 0 1,0 2.7,0a1.35,1.35 0 1,0 -2.7,0M90.87,245.62a1.35,1.35 0 1,0 2.7,0a1.35,1.35 0 1,0 -2.7,0M92.43,244.21a1.35,1.35 0 1,0 2.7,0a1.35,1.35 0 1,0 -2.7,0M94.08,242.92a1.35,1.35 0 1,0 2.7,0a1.35,1.35 0 1,0 -2.7,0M95.85,241.79a1.35,1.35 0 1,0 2.7,0a1.35,1.35 0 1,0 -2.7,0M97.77,240.96a1.35,1.35 0 1,0 2.7,0a1.35,1.35 0 1,0 -2.7,0M99.83,240.55a1.35,1.35 0 1,0 2.7,0a1.35,1.35 0 1,0 -2.7,0M101.91,240.78a1.35,1.35 0 1,0 2.7,0a1.35,1.35 0 1,0 -2.7,0M103.88,241.48a1.35,1.35 0 1,0 2.7,0a1.35,1.35 0 1,0 -2.7,0M105.75,242.44a1.35,1.35 0 1,0 2.7,0a1.35,1.35 0 1,0 -2.7,0M107.42,243.70a1.35,1.35 0 1,0 2.7,0a1.35,1.35 0 1,0 -2.7,0M109.12,244.94a1.35,1.35 0 1,0 2.7,0a1.35,1.35 0 1,0 -2.7,0M111.01,245.86a1.35,1.35 0 1,0 2.7,0a1.35,1.35 0 1,0 -2.7,0M113.00,246.49a1.35,1.35 0 1,0 2.7,0a1.35,1.35 0 1,0 -2.7,0M115.06,246.92a1.35,1.35 0 1,0 2.7,0a1.35,1.35 0 1,0 -2.7,0M117.13,247.24a1.35,1.35 0 1,0 2.7,0a1.35,1.35 0 1,0 -2.7,0M119.22,247.47a1.35,1.35 0 1,0 2.7,0a1.35,1.35 0 1,0 -2.7,0M121.32,247.50a1.35,1.35 0 1,0 2.7,0a1.35,1.35 0 1,0 -2.7,0M123.42,247.39a1.35,1.35 0 1,0 2.7,0a1.35,1.35 0 1,0 -2.7,0M125.49,247.03a1.35,1.35 0 1,0 2.7,0a1.35,1.35 0 1,0 -2.7,0M127.50,246.44a1.35,1.35 0 1,0 2.7,0a1.35,1.35 0 1,0 -2.7,0M129.16,245.19a1.35,1.35 0 1,0 2.7,0a1.35,1.35 0 1,0 -2.7,0M130.39,243.49a1.35,1.35 0 1,0 2.7,0a1.35,1.35 0 1,0 -2.7,0M131.25,241.58a1.35,1.35 0 1,0 2.7,0a1.35,1.35 0 1,0 -2.7,0M131.83,239.56a1.35,1.35 0 1,0 2.7,0a1.35,1.35 0 1,0 -2.7,0M132.36,237.53a1.35,1.35 0 1,0 2.7,0a1.35,1.35 0 1,0 -2.7,0M132.94,235.51a1.35,1.35 0 1,0 2.7,0a1.35,1.35 0 1,0 -2.7,0M133.53,233.49a1.35,1.35 0 1,0 2.7,0a1.35,1.35 0 1,0 -2.7,0M134.13,231.48a1.35,1.35 0 1,0 2.7,0a1.35,1.35 0 1,0 -2.7,0M134.76,229.48a1.35,1.35 0 1,0 2.7,0a1.35,1.35 0 1,0 -2.7,0M135.44,227.49a1.35,1.35 0 1,0 2.7,0a1.35,1.35 0 1,0 -2.7,0M136.17,225.52a1.35,1.35 0 1,0 2.7,0a1.35,1.35 0 1,0 -2.7,0M136.96,223.58a1.35,1.35 0 1,0 2.7,0a1.35,1.35 0 1,0 -2.7,0M137.81,221.66a1.35,1.35 0 1,0 2.7,0a1.35,1.35 0 1,0 -2.7,0M138.75,219.78a1.35,1.35 0 1,0 2.7,0a1.35,1.35 0 1,0 -2.7,0M139.80,217.96a1.35,1.35 0 1,0 2.7,0a1.35,1.35 0 1,0 -2.7,0M141.08,216.30a1.35,1.35 0 1,0 2.7,0a1.35,1.35 0 1,0 -2.7,0M142.70,214.97a1.35,1.35 0 1,0 2.7,0a1.35,1.35 0 1,0 -2.7,0M144.65,214.43a1.35,1.35 0 1,0 2.7,0a1.35,1.35 0 1,0 -2.7,0M146.38,215.51a1.35,1.35 0 1,0 2.7,0a1.35,1.35 0 1,0 -2.7,0M147.42,217.33a1.35,1.35 0 1,0 2.7,0a1.35,1.35 0 1,0 -2.7,0M148.30,219.23a1.35,1.35 0 1,0 2.7,0a1.35,1.35 0 1,0 -2.7,0M149.21,221.13a1.35,1.35 0 1,0 2.7,0a1.35,1.35 0 1,0 -2.7,0M150.15,223.00a1.35,1.35 0 1,0 2.7,0a1.35,1.35 0 1,0 -2.7,0M151.09,224.88a1.35,1.35 0 1,0 2.7,0a1.35,1.35 0 1,0 -2.7,0M152.03,226.76a1.35,1.35 0 1,0 2.7,0a1.35,1.35 0 1,0 -2.7,0M152.92,228.66a1.35,1.35 0 1,0 2.7,0a1.35,1.35 0 1,0 -2.7,0M153.86,230.54a1.35,1.35 0 1,0 2.7,0a1.35,1.35 0 1,0 -2.7,0M154.92,232.35a1.35,1.35 0 1,0 2.7,0a1.35,1.35 0 1,0 -2.7,0M156.06,234.12a1.35,1.35 0 1,0 2.7,0a1.35,1.35 0 1,0 -2.7,0M157.11,235.93a1.35,1.35 0 1,0 2.7,0a1.35,1.35 0 1,0 -2.7,0M158.02,237.83a1.35,1.35 0 1,0 2.7,0a1.35,1.35 0 1,0 -2.7,0M158.85,239.75a1.35,1.35 0 1,0 2.7,0a1.35,1.35 0 1,0 -2.7,0M159.70,241.67a1.35,1.35 0 1,0 2.7,0a1.35,1.35 0 1,0 -2.7,0M160.63,243.56a1.35,1.35 0 1,0 2.7,0a1.35,1.35 0 1,0 -2.7,0M161.60,245.42a1.35,1.35 0 1,0 2.7,0a1.35,1.35 0 1,0 -2.7,0M162.66,247.23a1.35,1.35 0 1,0 2.7,0a1.35,1.35 0 1,0 -2.7,0M163.92,248.91a1.35,1.35 0 1,0 2.7,0a1.35,1.35 0 1,0 -2.7,0M165.42,250.38a1.35,1.35 0 1,0 2.7,0a1.35,1.35 0 1,0 -2.7,0M167.17,251.53a1.35,1.35 0 1,0 2.7,0a1.35,1.35 0 1,0 -2.7,0M169.13,252.29a1.35,1.35 0 1,0 2.7,0a1.35,1.35 0 1,0 -2.7,0M171.12,252.95a1.35,1.35 0 1,0 2.7,0a1.35,1.35 0 1,0 -2.7,0M173.20,253.17a1.35,1.35 0 1,0 2.7,0a1.35,1.35 0 1,0 -2.7,0M175.30,253.27a1.35,1.35 0 1,0 2.7,0a1.35,1.35 0 1,0 -2.7,0M177.40,253.34a1.35,1.35 0 1,0 2.7,0a1.35,1.35 0 1,0 -2.7,0M179.50,253.40a1.35,1.35 0 1,0 2.7,0a1.35,1.35 0 1,0 -2.7,0M181.60,253.45a1.35,1.35 0 1,0 2.7,0a1.35,1.35 0 1,0 -2.7,0M183.70,253.50a1.35,1.35 0 1,0 2.7,0a1.35,1.35 0 1,0 -2.7,0M185.80,253.54a1.35,1.35 0 1,0 2.7,0a1.35,1.35 0 1,0 -2.7,0M187.90,253.58a1.35,1.35 0 1,0 2.7,0a1.35,1.35 0 1,0 -2.7,0M189.99,253.63a1.35,1.35 0 1,0 2.7,0a1.35,1.35 0 1,0 -2.7,0M192.09,253.66a1.35,1.35 0 1,0 2.7,0a1.35,1.35 0 1,0 -2.7,0M194.19,253.70a1.35,1.35 0 1,0 2.7,0a1.35,1.35 0 1,0 -2.7,0M196.29,253.73a1.35,1.35 0 1,0 2.7,0a1.35,1.35 0 1,0 -2.7,0M198.39,253.76a1.35,1.35 0 1,0 2.7,0a1.35,1.35 0 1,0 -2.7,0M200.49,253.78a1.35,1.35 0 1,0 2.7,0a1.35,1.35 0 1,0 -2.7,0" fill="#ffffff" fill-opacity="0.7" stroke="#c4d6b0" stroke-width="0.65" opacity="0.95"/>
<text x="83.6" y="238.6" font-size="12.5" fill="#38e038" font-family="Liberation Sans, sans-serif">(ROCO<tspan font-size="8.2" dy="3">2</tspan><tspan dy="-3">)</tspan><tspan font-size="8.2" dy="3">2</tspan><tspan dy="-3">Zn</tspan></text>
<text x="128.0" y="212.0" font-size="12.7" fill="#fb8a52" font-family="Liberation Sans, sans-serif">C-O-C</text>
<text x="156.6" y="245.7" font-size="12.5" fill="#cf3443" font-family="Liberation Sans, sans-serif">C-C/C-H</text>
<text x="78.4" y="267.4" font-size="12.7" fill="#3a9edc" font-family="Liberation Sans, sans-serif">ZnCO<tspan font-size="8.8" dy="3.3">3</tspan></text>
<text x="122.0" y="267.4" font-size="12.6" fill="#8a5cb4" font-family="Liberation Sans, sans-serif">R-O-CO-O-R</text>
<path d="M86.0,325.62 L86.5,325.62 L87.0,325.62 L87.5,325.62 L88.0,325.61 L88.5,325.61 L89.0,325.60 L89.5,325.59 L90.0,325.58 L90.5,325.56 L91.0,325.55 L91.5,325.53 L92.0,325.50 L92.5,325.47 L93.0,325.43 L93.5,325.39 L94.0,325.35 L94.5,325.30 L95.0,325.24 L95.5,325.17 L96.0,325.10 L96.5,325.03 L97.0,324.95 L97.5,324.87 L98.0,324.78 L98.5,324.70 L99.0,324.61 L99.5,324.53 L100.0,324.44 L100.5,324.37 L101.0,324.30 L101.5,324.23 L102.0,324.18 L102.5,324.14 L103.0,324.11 L103.5,324.09 L104.0,324.09 L104.5,324.09 L105.0,324.12 L105.5,324.15 L106.0,324.19 L106.5,324.25 L107.0,324.32 L107.5,324.39 L108.0,324.47 L108.5,324.56 L109.0,324.64 L109.5,324.73 L110.0,324.82 L110.5,324.91 L111.0,325.00 L111.5,325.08 L112.0,325.16 L112.5,325.23 L113.0,325.29 L113.5,325.36 L114.0,325.41 L114.5,325.46 L115.0,325.50 L115.5,325.54 L116.0,325.58 L116.5,325.60 L117.0,325.63 L117.5,325.65 L118.0,325.67 L118.5,325.68 L119.0,325.69 L119.5,325.70 L120.0,325.71 L120.5,325.72 L121.0,325.73 L121.5,325.73 L122.0,325.74 L122.0,325.74 L121.5,325.74 L121.0,325.74 L120.5,325.74 L120.0,325.74 L119.5,325.73 L119.0,325.73 L118.5,325.73 L118.0,325.73 L117.5,325.73 L117.0,325.73 L116.5,325.73 L116.0,325.72 L115.5,325.72 L115.0,325.72 L114.5,325.72 L114.0,325.72 L113.5,325.72 L113.0,325.71 L112.5,325.71 L112.0,325.71 L111.5,325.71 L111.0,325.71 L110.5,325.71 L110.0,325.70 L109.5,325.70 L109.0,325.70 L108.5,325.70 L108.0,325.70 L107.5,325.70 L107.0,325.70 L106.5,325.69 L106.0,325.69 L105.5,325.69 L105.0,325.69 L104.5,325.69 L104.0,325.69 L103.5,325.68 L103.0,325.68 L102.5,325.68 L102.0,325.68 L101.5,325.68 L101.0,325.68 L100.5,325.67 L100.0,325.67 L99.5,325.67 L99.0,325.67 L98.5,325.67 L98.0,325.67 L97.5,325.67 L97.0,325.66 L96.5,325.66 L96.0,325.66 L95.5,325.66 L95.0,325.66 L94.5,325.66 L94.0,325.65 L93.5,325.65 L93.0,325.65 L92.5,325.65 L92.0,325.65 L91.5,325.65 L91.0,325.64 L90.5,325.64 L90.0,325.64 L89.5,325.64 L89.0,325.64 L88.5,325.64 L88.0,325.63 L87.5,325.63 L87.0,325.63 L86.5,325.63 L86.0,325.63 Z" fill="url(#gB)" fill-opacity="0.9"/>
<path d="M95.0,325.63 L95.5,325.62 L96.0,325.61 L96.5,325.60 L97.0,325.58 L97.5,325.56 L98.0,325.53 L98.5,325.50 L99.0,325.47 L99.5,325.42 L100.0,325.37 L100.5,325.30 L101.0,325.23 L101.5,325.14 L102.0,325.05 L102.5,324.93 L103.0,324.80 L103.5,324.66 L104.0,324.50 L104.5,324.32 L105.0,324.12 L105.5,323.90 L106.0,323.67 L106.5,323.42 L107.0,323.16 L107.5,322.88 L108.0,322.60 L108.5,322.30 L109.0,322.00 L109.5,321.70 L110.0,321.40 L110.5,321.11 L111.0,320.83 L111.5,320.56 L112.0,320.31 L112.5,320.09 L113.0,319.89 L113.5,319.73 L114.0,319.59 L114.5,319.50 L115.0,319.44 L115.5,319.42 L116.0,319.44 L116.5,319.50 L117.0,319.60 L117.5,319.74 L118.0,319.91 L118.5,320.11 L119.0,320.33 L119.5,320.58 L120.0,320.86 L120.5,321.14 L121.0,321.44 L121.5,321.74 L122.0,322.04 L122.5,322.35 L123.0,322.64 L123.5,322.93 L124.0,323.21 L124.5,323.48 L125.0,323.73 L125.5,323.97 L126.0,324.18 L126.5,324.39 L127.0,324.57 L127.5,324.73 L128.0,324.88 L128.5,325.01 L129.0,325.13 L129.5,325.23 L130.0,325.32 L130.5,325.40 L131.0,325.47 L131.5,325.52 L132.0,325.57 L132.5,325.61 L133.0,325.64 L133.5,325.67 L134.0,325.70 L134.5,325.72 L135.0,325.73 L135.5,325.74 L136.0,325.76 L136.0,325.79 L135.5,325.79 L135.0,325.78 L134.5,325.78 L134.0,325.78 L133.5,325.78 L133.0,325.78 L132.5,325.78 L132.0,325.77 L131.5,325.77 L131.0,325.77 L130.5,325.77 L130.0,325.77 L129.5,325.77 L129.0,325.77 L128.5,325.76 L128.0,325.76 L127.5,325.76 L127.0,325.76 L126.5,325.76 L126.0,325.76 L125.5,325.75 L125.0,325.75 L124.5,325.75 L124.0,325.75 L123.5,325.75 L123.0,325.75 L122.5,325.74 L122.0,325.74 L121.5,325.74 L121.0,325.74 L120.5,325.74 L120.0,325.74 L119.5,325.73 L119.0,325.73 L118.5,325.73 L118.0,325.73 L117.5,325.73 L117.0,325.73 L116.5,325.73 L116.0,325.72 L115.5,325.72 L115.0,325.72 L114.5,325.72 L114.0,325.72 L113.5,325.72 L113.0,325.71 L112.5,325.71 L112.0,325.71 L111.5,325.71 L111.0,325.71 L110.5,325.71 L110.0,325.70 L109.5,325.70 L109.0,325.70 L108.5,325.70 L108.0,325.70 L107.5,325.70 L107.0,325.70 L106.5,325.69 L106.0,325.69 L105.5,325.69 L105.0,325.69 L104.5,325.69 L104.0,325.69 L103.5,325.68 L103.0,325.68 L102.5,325.68 L102.0,325.68 L101.5,325.68 L101.0,325.68 L100.5,325.67 L100.0,325.67 L99.5,325.67 L99.0,325.67 L98.5,325.67 L98.0,325.67 L97.5,325.67 L97.0,325.66 L96.5,325.66 L96.0,325.66 L95.5,325.66 L95.0,325.66 Z" fill="url(#gG)" fill-opacity="0.9"/>
<path d="M125.5,325.68 L126.0,325.66 L126.5,325.63 L127.0,325.60 L127.5,325.55 L128.0,325.50 L128.5,325.44 L129.0,325.36 L129.5,325.27 L130.0,325.15 L130.5,325.02 L131.0,324.86 L131.5,324.67 L132.0,324.46 L132.5,324.20 L133.0,323.92 L133.5,323.59 L134.0,323.22 L134.5,322.80 L135.0,322.34 L135.5,321.83 L136.0,321.27 L136.5,320.66 L137.0,320.01 L137.5,319.31 L138.0,318.58 L138.5,317.80 L139.0,317.00 L139.5,316.18 L140.0,315.34 L140.5,314.50 L141.0,313.66 L141.5,312.85 L142.0,312.06 L142.5,311.31 L143.0,310.61 L143.5,309.98 L144.0,309.42 L144.5,308.95 L145.0,308.56 L145.5,308.28 L146.0,308.10 L146.5,308.02 L147.0,308.06 L147.5,308.20 L148.0,308.45 L148.5,308.79 L149.0,309.24 L149.5,309.77 L150.0,310.37 L150.5,311.05 L151.0,311.78 L151.5,312.56 L152.0,313.37 L152.5,314.20 L153.0,315.05 L153.5,315.89 L154.0,316.72 L154.5,317.54 L155.0,318.33 L155.5,319.08 L156.0,319.80 L156.5,320.47 L157.0,321.10 L157.5,321.68 L158.0,322.21 L158.5,322.70 L159.0,323.14 L159.5,323.53 L160.0,323.88 L160.5,324.18 L161.0,324.45 L161.5,324.68 L162.0,324.89 L162.5,325.06 L163.0,325.21 L163.5,325.33 L164.0,325.43 L164.5,325.52 L165.0,325.59 L165.5,325.65 L166.0,325.70 L166.5,325.74 L167.0,325.78 L167.5,325.80 L167.5,325.89 L167.0,325.89 L166.5,325.88 L166.0,325.88 L165.5,325.88 L165.0,325.88 L164.5,325.88 L164.0,325.88 L163.5,325.87 L163.0,325.87 L162.5,325.87 L162.0,325.87 L161.5,325.87 L161.0,325.87 L160.5,325.87 L160.0,325.86 L159.5,325.86 L159.0,325.86 L158.5,325.86 L158.0,325.86 L157.5,325.86 L157.0,325.85 L156.5,325.85 L156.0,325.85 L155.5,325.85 L155.0,325.85 L154.5,325.85 L154.0,325.84 L153.5,325.84 L153.0,325.84 L152.5,325.84 L152.0,325.84 L151.5,325.84 L151.0,325.83 L150.5,325.83 L150.0,325.83 L149.5,325.83 L149.0,325.83 L148.5,325.83 L148.0,325.83 L147.5,325.82 L147.0,325.82 L146.5,325.82 L146.0,325.82 L145.5,325.82 L145.0,325.82 L144.5,325.81 L144.0,325.81 L143.5,325.81 L143.0,325.81 L142.5,325.81 L142.0,325.81 L141.5,325.80 L141.0,325.80 L140.5,325.80 L140.0,325.80 L139.5,325.80 L139.0,325.80 L138.5,325.80 L138.0,325.79 L137.5,325.79 L137.0,325.79 L136.5,325.79 L136.0,325.79 L135.5,325.79 L135.0,325.78 L134.5,325.78 L134.0,325.78 L133.5,325.78 L133.0,325.78 L132.5,325.78 L132.0,325.77 L131.5,325.77 L131.0,325.77 L130.5,325.77 L130.0,325.77 L129.5,325.77 L129.0,325.77 L128.5,325.76 L128.0,325.76 L127.5,325.76 L127.0,325.76 L126.5,325.76 L126.0,325.76 L125.5,325.75 Z" fill="url(#gO)" fill-opacity="0.9"/>
<path d="M128.0,325.40 L128.5,325.39 L129.0,325.38 L129.5,325.37 L130.0,325.36 L130.5,325.34 L131.0,325.33 L131.5,325.32 L132.0,325.30 L132.5,325.29 L133.0,325.27 L133.5,325.25 L134.0,325.24 L134.5,325.22 L135.0,325.20 L135.5,325.17 L136.0,325.15 L136.5,325.13 L137.0,325.10 L137.5,325.07 L138.0,325.04 L138.5,325.00 L139.0,324.96 L139.5,324.92 L140.0,324.87 L140.5,324.81 L141.0,324.74 L141.5,324.66 L142.0,324.57 L142.5,324.45 L143.0,324.32 L143.5,324.16 L144.0,323.96 L144.5,323.73 L145.0,323.44 L145.5,323.10 L146.0,322.69 L146.5,322.20 L147.0,321.61 L147.5,320.92 L148.0,320.11 L148.5,319.17 L149.0,318.08 L149.5,316.84 L150.0,315.43 L150.5,313.85 L151.0,312.09 L151.5,310.16 L152.0,308.05 L152.5,305.79 L153.0,303.39 L153.5,300.88 L154.0,298.27 L154.5,295.61 L155.0,292.94 L155.5,290.31 L156.0,287.77 L156.5,285.37 L157.0,283.19 L157.5,281.27 L158.0,279.68 L158.5,278.48 L159.0,277.70 L159.5,277.37 L160.0,277.51 L160.5,278.12 L161.0,279.16 L161.5,280.61 L162.0,282.40 L162.5,284.49 L163.0,286.81 L163.5,289.30 L164.0,291.91 L164.5,294.57 L165.0,297.24 L165.5,299.88 L166.0,302.44 L166.5,304.89 L167.0,307.22 L167.5,309.38 L168.0,311.39 L168.5,313.22 L169.0,314.88 L169.5,316.36 L170.0,317.67 L170.5,318.82 L171.0,319.82 L171.5,320.69 L172.0,321.43 L172.5,322.06 L173.0,322.59 L173.5,323.03 L174.0,323.41 L174.5,323.72 L175.0,323.97 L175.5,324.19 L176.0,324.36 L176.5,324.51 L177.0,324.63 L177.5,324.74 L178.0,324.83 L178.5,324.90 L179.0,324.97 L179.5,325.02 L180.0,325.07 L180.5,325.12 L181.0,325.16 L181.5,325.20 L182.0,325.23 L182.5,325.26 L183.0,325.29 L183.5,325.32 L184.0,325.34 L184.5,325.37 L185.0,325.39 L185.5,325.41 L186.0,325.43 L186.5,325.45 L187.0,325.47 L187.5,325.49 L188.0,325.51 L188.5,325.52 L189.0,325.54 L189.5,325.55 L190.0,325.57 L190.5,325.58 L191.0,325.59 L191.0,325.96 L190.5,325.96 L190.0,325.96 L189.5,325.96 L189.0,325.96 L188.5,325.95 L188.0,325.95 L187.5,325.95 L187.0,325.95 L186.5,325.95 L186.0,325.95 L185.5,325.94 L185.0,325.94 L184.5,325.94 L184.0,325.94 L183.5,325.94 L183.0,325.94 L182.5,325.93 L182.0,325.93 L181.5,325.93 L181.0,325.93 L180.5,325.93 L180.0,325.93 L179.5,325.93 L179.0,325.92 L178.5,325.92 L178.0,325.92 L177.5,325.92 L177.0,325.92 L176.5,325.92 L176.0,325.91 L175.5,325.91 L175.0,325.91 L174.5,325.91 L174.0,325.91 L173.5,325.91 L173.0,325.90 L172.5,325.90 L172.0,325.90 L171.5,325.90 L171.0,325.90 L170.5,325.90 L170.0,325.90 L169.5,325.89 L169.0,325.89 L168.5,325.89 L168.0,325.89 L167.5,325.89 L167.0,325.89 L166.5,325.88 L166.0,325.88 L165.5,325.88 L165.0,325.88 L164.5,325.88 L164.0,325.88 L163.5,325.87 L163.0,325.87 L162.5,325.87 L162.0,325.87 L161.5,325.87 L161.0,325.87 L160.5,325.87 L160.0,325.86 L159.5,325.86 L159.0,325.86 L158.5,325.86 L158.0,325.86 L157.5,325.86 L157.0,325.85 L156.5,325.85 L156.0,325.85 L155.5,325.85 L155.0,325.85 L154.5,325.85 L154.0,325.84 L153.5,325.84 L153.0,325.84 L152.5,325.84 L152.0,325.84 L151.5,325.84 L151.0,325.83 L150.5,325.83 L150.0,325.83 L149.5,325.83 L149.0,325.83 L148.5,325.83 L148.0,325.83 L147.5,325.82 L147.0,325.82 L146.5,325.82 L146.0,325.82 L145.5,325.82 L145.0,325.82 L144.5,325.81 L144.0,325.81 L143.5,325.81 L143.0,325.81 L142.5,325.81 L142.0,325.81 L141.5,325.80 L141.0,325.80 L140.5,325.80 L140.0,325.80 L139.5,325.80 L139.0,325.80 L138.5,325.80 L138.0,325.79 L137.5,325.79 L137.0,325.79 L136.5,325.79 L136.0,325.79 L135.5,325.79 L135.0,325.78 L134.5,325.78 L134.0,325.78 L133.5,325.78 L133.0,325.78 L132.5,325.78 L132.0,325.77 L131.5,325.77 L131.0,325.77 L130.5,325.77 L130.0,325.77 L129.5,325.77 L129.0,325.77 L128.5,325.76 L128.0,325.76 Z" fill="url(#gR)" fill-opacity="0.9"/>
<path d="M118.5,325.71 L119.0,325.70 L119.5,325.69 L120.0,325.67 L120.5,325.65 L121.0,325.63 L121.5,325.59 L122.0,325.54 L122.5,325.48 L123.0,325.41 L123.5,325.32 L124.0,325.21 L124.5,325.08 L125.0,324.93 L125.5,324.76 L126.0,324.56 L126.5,324.35 L127.0,324.11 L127.5,323.87 L128.0,323.60 L128.5,323.34 L129.0,323.07 L129.5,322.81 L130.0,322.57 L130.5,322.34 L131.0,322.15 L131.5,321.99 L132.0,321.87 L132.5,321.80 L133.0,321.78 L133.5,321.80 L134.0,321.88 L134.5,322.00 L135.0,322.16 L135.5,322.36 L136.0,322.58 L136.5,322.83 L137.0,323.10 L137.5,323.37 L138.0,323.64 L138.5,323.90 L139.0,324.15 L139.5,324.39 L140.0,324.61 L140.5,324.80 L141.0,324.98 L141.5,325.13 L142.0,325.27 L142.5,325.38 L143.0,325.47 L143.5,325.55 L144.0,325.61 L144.5,325.66 L145.0,325.70 L145.5,325.73 L146.0,325.76 L146.5,325.78 L147.0,325.79 L147.5,325.80 L147.5,325.82 L147.0,325.82 L146.5,325.82 L146.0,325.82 L145.5,325.82 L145.0,325.82 L144.5,325.81 L144.0,325.81 L143.5,325.81 L143.0,325.81 L142.5,325.81 L142.0,325.81 L141.5,325.80 L141.0,325.80 L140.5,325.80 L140.0,325.80 L139.5,325.80 L139.0,325.80 L138.5,325.80 L138.0,325.79 L137.5,325.79 L137.0,325.79 L136.5,325.79 L136.0,325.79 L135.5,325.79 L135.0,325.78 L134.5,325.78 L134.0,325.78 L133.5,325.78 L133.0,325.78 L132.5,325.78 L132.0,325.77 L131.5,325.77 L131.0,325.77 L130.5,325.77 L130.0,325.77 L129.5,325.77 L129.0,325.77 L128.5,325.76 L128.0,325.76 L127.5,325.76 L127.0,325.76 L126.5,325.76 L126.0,325.76 L125.5,325.75 L125.0,325.75 L124.5,325.75 L124.0,325.75 L123.5,325.75 L123.0,325.75 L122.5,325.74 L122.0,325.74 L121.5,325.74 L121.0,325.74 L120.5,325.74 L120.0,325.74 L119.5,325.73 L119.0,325.73 L118.5,325.73 Z" fill="url(#gP)" fill-opacity="0.9"/>
<path d="M77.0,325.60 L79.0,325.61 L81.0,325.61 L83.0,325.62 L85.0,325.63 L87.0,325.63 L89.0,325.64 L91.0,325.64 L93.0,325.65 L95.0,325.66 L97.0,325.66 L99.0,325.67 L101.0,325.68 L103.0,325.68 L105.0,325.69 L107.0,325.70 L109.0,325.70 L111.0,325.71 L113.0,325.71 L115.0,325.72 L117.0,325.73 L119.0,325.73 L121.0,325.74 L123.0,325.75 L125.0,325.75 L127.0,325.76 L129.0,325.77 L131.0,325.77 L133.0,325.78 L135.0,325.78 L137.0,325.79 L139.0,325.80 L141.0,325.80 L143.0,325.81 L145.0,325.82 L147.0,325.82 L149.0,325.83 L151.0,325.83 L153.0,325.84 L155.0,325.85 L157.0,325.85 L159.0,325.86 L161.0,325.87 L163.0,325.87 L165.0,325.88 L167.0,325.89 L169.0,325.89 L171.0,325.90 L173.0,325.90 L175.0,325.91 L177.0,325.92 L179.0,325.92 L181.0,325.93 L183.0,325.94 L185.0,325.94 L187.0,325.95 L189.0,325.96 L191.0,325.96 L193.0,325.97 L195.0,325.97 L197.0,325.98 L199.0,325.99 L201.0,325.99 L203.0,326.00" fill="none" stroke="#a8ccee" stroke-width="1"/>
<path d="M77.70,325.20 L78.11,325.17 L78.62,325.14 L79.23,325.10 L79.90,325.06 L80.64,325.02 L81.42,324.97 L82.23,324.92 L83.05,324.86 L83.88,324.80 L84.68,324.74 L85.46,324.67 L86.20,324.60 L86.91,324.53 L87.64,324.46 L88.36,324.38 L89.10,324.31 L89.83,324.23 L90.56,324.14 L91.28,324.05 L91.99,323.96 L92.69,323.86 L93.38,323.75 L94.05,323.63 L94.70,323.50 L95.33,323.36 L95.94,323.22 L96.54,323.06 L97.13,322.90 L97.70,322.73 L98.26,322.56 L98.82,322.38 L99.36,322.19 L99.90,322.00 L100.44,321.80 L100.97,321.60 L101.50,321.40 L102.02,321.19 L102.53,320.95 L103.04,320.71 L103.53,320.45 L104.02,320.19 L104.50,319.93 L104.98,319.67 L105.46,319.43 L105.94,319.19 L106.42,318.97 L106.91,318.77 L107.40,318.60 L107.89,318.45 L108.39,318.31 L108.88,318.19 L109.37,318.08 L109.86,317.98 L110.35,317.90 L110.85,317.83 L111.34,317.76 L111.85,317.71 L112.36,317.66 L112.88,317.63 L113.40,317.60 L113.93,317.58 L114.48,317.58 L115.02,317.59 L115.58,317.61 L116.14,317.64 L116.70,317.67 L117.27,317.72 L117.83,317.77 L118.40,317.82 L118.97,317.88 L119.54,317.94 L120.10,318.00 L120.67,318.07 L121.24,318.15 L121.81,318.25 L122.39,318.35 L122.97,318.46 L123.54,318.56 L124.12,318.67 L124.69,318.76 L125.25,318.85 L125.81,318.92 L126.36,318.97 L126.90,319.00 L127.44,319.01 L127.97,319.01 L128.51,319.00" fill="none" stroke="#d8e6cc" stroke-width="2.6" stroke-linejoin="round" opacity="0.3"/>
<path d="M78.45,325.07a1.35,1.35 0 1,0 2.7,0a1.35,1.35 0 1,0 -2.7,0M80.54,324.94a1.35,1.35 0 1,0 2.7,0a1.35,1.35 0 1,0 -2.7,0M82.64,324.79a1.35,1.35 0 1,0 2.7,0a1.35,1.35 0 1,0 -2.7,0M84.73,324.61a1.35,1.35 0 1,0 2.7,0a1.35,1.35 0 1,0 -2.7,0M86.82,324.40a1.35,1.35 0 1,0 2.7,0a1.35,1.35 0 1,0 -2.7,0M88.91,324.18a1.35,1.35 0 1,0 2.7,0a1.35,1.35 0 1,0 -2.7,0M90.99,323.91a1.35,1.35 0 1,0 2.7,0a1.35,1.35 0 1,0 -2.7,0M93.06,323.56a1.35,1.35 0 1,0 2.7,0a1.35,1.35 0 1,0 -2.7,0M95.10,323.08a1.35,1.35 0 1,0 2.7,0a1.35,1.35 0 1,0 -2.7,0M97.12,322.49a1.35,1.35 0 1,0 2.7,0a1.35,1.35 0 1,0 -2.7,0M99.10,321.80a1.35,1.35 0 1,0 2.7,0a1.35,1.35 0 1,0 -2.7,0M101.05,321.01a1.35,1.35 0 1,0 2.7,0a1.35,1.35 0 1,0 -2.7,0M102.92,320.06a1.35,1.35 0 1,0 2.7,0a1.35,1.35 0 1,0 -2.7,0M104.79,319.10a1.35,1.35 0 1,0 2.7,0a1.35,1.35 0 1,0 -2.7,0M106.76,318.39a1.35,1.35 0 1,0 2.7,0a1.35,1.35 0 1,0 -2.7,0M108.81,317.93a1.35,1.35 0 1,0 2.7,0a1.35,1.35 0 1,0 -2.7,0M110.89,317.68a1.35,1.35 0 1,0 2.7,0a1.35,1.35 0 1,0 -2.7,0M112.99,317.58a1.35,1.35 0 1,0 2.7,0a1.35,1.35 0 1,0 -2.7,0M115.09,317.66a1.35,1.35 0 1,0 2.7,0a1.35,1.35 0 1,0 -2.7,0M117.18,317.84a1.35,1.35 0 1,0 2.7,0a1.35,1.35 0 1,0 -2.7,0M119.27,318.06a1.35,1.35 0 1,0 2.7,0a1.35,1.35 0 1,0 -2.7,0M121.34,318.40a1.35,1.35 0 1,0 2.7,0a1.35,1.35 0 1,0 -2.7,0M123.41,318.77a1.35,1.35 0 1,0 2.7,0a1.35,1.35 0 1,0 -2.7,0M125.49,319.00a1.35,1.35 0 1,0 2.7,0a1.35,1.35 0 1,0 -2.7,0" fill="#ffffff" fill-opacity="0.7" stroke="#c4d6b0" stroke-width="0.65" opacity="0.95"/>
<path d="M128.51,319.00 L129.05,318.98 L129.58,318.94 L130.10,318.90 L130.61,318.84 L131.11,318.78 L131.59,318.70 L132.05,318.61 L132.49,318.51 L132.90,318.40 L133.28,318.28 L133.64,318.14 L133.98,317.99 L134.29,317.82 L134.59,317.65 L134.87,317.46 L135.14,317.27 L135.41,317.07 L135.68,316.86 L135.95,316.64 L136.22,316.42 L136.50,316.20 L136.79,315.97 L137.07,315.72 L137.36,315.45 L137.64,315.18 L137.92,314.90 L138.20,314.62 L138.48,314.33 L138.75,314.05 L139.02,313.77 L139.28,313.50 L139.54,313.25 L139.80,313.00 L140.05,312.77 L140.30,312.56 L140.54,312.35 L140.78,312.16 L141.02,311.96 L141.25,311.77 L141.48,311.58 L141.71,311.39 L141.93,311.19 L142.16,310.97 L142.38,310.74 L142.60,310.50 L142.82,310.24 L143.03,309.96 L143.25,309.68 L143.46,309.38 L143.66,309.07 L143.87,308.76 L144.07,308.45 L144.28,308.13 L144.48,307.82 L144.69,307.51 L144.89,307.20 L145.10,306.90 L145.31,306.61 L145.53,306.33 L145.74,306.05 L145.96,305.77 L146.18,305.50 L146.40,305.22 L146.62,304.95 L146.83,304.66 L147.03,304.36 L147.23,304.06 L147.42,303.74 L147.60,303.40 L147.77,303.05 L147.93,302.69 L148.08,302.32 L148.22,301.95 L148.35,301.56 L148.49,301.17 L148.62,300.77 L148.75,300.35 L148.88,299.93 L149.01,299.50 L149.15,299.05 L149.30,298.60 L149.45,298.13 L149.61,297.64 L149.76,297.13 L149.92,296.61 L150.08,296.08 L150.24,295.54 L150.41,295.00 L150.57,294.46 L150.73,293.93 L150.89,293.40 L151.04,292.89 L151.20,292.40 L151.35,291.94 L151.50,291.51 L151.64,291.10 L151.78,290.71 L151.92,290.33 L152.06,289.94 L152.20,289.54 L152.34,289.11 L152.50,288.65 L152.65,288.16 L152.82,287.61 L153.00,287.00 L153.18,286.31 L153.37,285.53 L153.56,284.67 L153.75,283.77 L153.95,282.84 L154.15,281.89 L154.36,280.95 L154.59,280.03 L154.82,279.16 L155.06,278.35 L155.32,277.62 L155.60,277.00 L155.89,276.45 L156.21,275.93 L156.54,275.46 L156.89,275.02 L157.25,274.63 L157.62,274.29 L157.99,273.99 L158.36,273.76 L158.73,273.57 L159.10,273.45 L159.46,273.39 L159.80,273.40 L160.14,273.47" fill="none" stroke="#d6e4f6" stroke-width="2.6" stroke-linejoin="round" opacity="0.3"/>
<path d="M129.26,318.84a1.35,1.35 0 1,0 2.7,0a1.35,1.35 0 1,0 -2.7,0M131.32,318.46a1.35,1.35 0 1,0 2.7,0a1.35,1.35 0 1,0 -2.7,0M133.24,317.64a1.35,1.35 0 1,0 2.7,0a1.35,1.35 0 1,0 -2.7,0M134.92,316.38a1.35,1.35 0 1,0 2.7,0a1.35,1.35 0 1,0 -2.7,0M136.49,314.99a1.35,1.35 0 1,0 2.7,0a1.35,1.35 0 1,0 -2.7,0M137.95,313.48a1.35,1.35 0 1,0 2.7,0a1.35,1.35 0 1,0 -2.7,0M139.52,312.08a1.35,1.35 0 1,0 2.7,0a1.35,1.35 0 1,0 -2.7,0M141.08,310.69a1.35,1.35 0 1,0 2.7,0a1.35,1.35 0 1,0 -2.7,0M142.35,309.01a1.35,1.35 0 1,0 2.7,0a1.35,1.35 0 1,0 -2.7,0M143.50,307.26a1.35,1.35 0 1,0 2.7,0a1.35,1.35 0 1,0 -2.7,0M144.77,305.58a1.35,1.35 0 1,0 2.7,0a1.35,1.35 0 1,0 -2.7,0M145.99,303.88a1.35,1.35 0 1,0 2.7,0a1.35,1.35 0 1,0 -2.7,0M146.86,301.97a1.35,1.35 0 1,0 2.7,0a1.35,1.35 0 1,0 -2.7,0M147.52,299.97a1.35,1.35 0 1,0 2.7,0a1.35,1.35 0 1,0 -2.7,0M148.15,297.97a1.35,1.35 0 1,0 2.7,0a1.35,1.35 0 1,0 -2.7,0M148.77,295.96a1.35,1.35 0 1,0 2.7,0a1.35,1.35 0 1,0 -2.7,0M149.37,293.95a1.35,1.35 0 1,0 2.7,0a1.35,1.35 0 1,0 -2.7,0M150.00,291.95a1.35,1.35 0 1,0 2.7,0a1.35,1.35 0 1,0 -2.7,0M150.69,289.97a1.35,1.35 0 1,0 2.7,0a1.35,1.35 0 1,0 -2.7,0M151.36,287.98a1.35,1.35 0 1,0 2.7,0a1.35,1.35 0 1,0 -2.7,0M151.92,285.95a1.35,1.35 0 1,0 2.7,0a1.35,1.35 0 1,0 -2.7,0M152.37,283.90a1.35,1.35 0 1,0 2.7,0a1.35,1.35 0 1,0 -2.7,0M152.81,281.85a1.35,1.35 0 1,0 2.7,0a1.35,1.35 0 1,0 -2.7,0M153.30,279.81a1.35,1.35 0 1,0 2.7,0a1.35,1.35 0 1,0 -2.7,0M153.91,277.80a1.35,1.35 0 1,0 2.7,0a1.35,1.35 0 1,0 -2.7,0M154.86,275.93a1.35,1.35 0 1,0 2.7,0a1.35,1.35 0 1,0 -2.7,0M156.22,274.34a1.35,1.35 0 1,0 2.7,0a1.35,1.35 0 1,0 -2.7,0M158.06,273.40a1.35,1.35 0 1,0 2.7,0a1.35,1.35 0 1,0 -2.7,0" fill="#ffffff" fill-opacity="0.7" stroke="#bcd2ee" stroke-width="0.65" opacity="0.95"/>
<path d="M160.14,273.47 L160.49,273.58 L160.84,273.75 L161.19,273.98 L161.54,274.26 L161.88,274.60 L162.22,275.00 L162.54,275.47 L162.86,276.00 L163.16,276.59 L163.44,277.26 L163.70,278.00 L163.94,278.84 L164.15,279.78 L164.34,280.83 L164.52,281.95 L164.68,283.14 L164.84,284.38 L164.99,285.66 L165.14,286.95 L165.29,288.24 L165.45,289.53 L165.62,290.79 L165.80,292.00 L165.99,293.20 L166.19,294.42 L166.40,295.65 L166.61,296.89 L166.82,298.13 L167.03,299.38 L167.25,300.61 L167.46,301.83 L167.67,303.04 L167.88,304.22 L168.09,305.38 L168.30,306.50 L168.50,307.61 L168.70,308.72 L168.89,309.82 L169.08,310.92 L169.27,312.00 L169.46,313.05 L169.65,314.07 L169.84,315.06 L170.05,316.00 L170.25,316.89 L170.47,317.73 L170.70,318.50 L170.93,319.21 L171.15,319.86 L171.38,320.46 L171.60,321.02 L171.83,321.53 L172.07,322.00 L172.32,322.43 L172.59,322.84 L172.88,323.21 L173.19,323.56 L173.53,323.89 L173.90,324.20 L174.25,324.48 L174.55,324.72 L174.83,324.92 L175.09,325.08 L175.38,325.22 L175.71,325.33 L176.11,325.43 L176.61,325.51 L177.22,325.58 L177.97,325.65 L178.89,325.72 L180.00,325.80 L181.40,325.88 L183.12,325.94 L185.10,325.99 L187.27,326.04 L189.55,326.07 L191.88,326.10 L194.19,326.12 L196.41,326.14 L198.47,326.16 L200.30,326.17 L201.83,326.18 L203.00,326.20" fill="none" stroke="#d8e6cc" stroke-width="2.6" stroke-linejoin="round" opacity="0.3"/>
<path d="M160.53,274.60a1.35,1.35 0 1,0 2.7,0a1.35,1.35 0 1,0 -2.7,0M161.68,276.34a1.35,1.35 0 1,0 2.7,0a1.35,1.35 0 1,0 -2.7,0M162.44,278.30a1.35,1.35 0 1,0 2.7,0a1.35,1.35 0 1,0 -2.7,0M162.90,280.35a1.35,1.35 0 1,0 2.7,0a1.35,1.35 0 1,0 -2.7,0M163.23,282.42a1.35,1.35 0 1,0 2.7,0a1.35,1.35 0 1,0 -2.7,0M163.50,284.50a1.35,1.35 0 1,0 2.7,0a1.35,1.35 0 1,0 -2.7,0M163.75,286.59a1.35,1.35 0 1,0 2.7,0a1.35,1.35 0 1,0 -2.7,0M163.99,288.67a1.35,1.35 0 1,0 2.7,0a1.35,1.35 0 1,0 -2.7,0M164.26,290.76a1.35,1.35 0 1,0 2.7,0a1.35,1.35 0 1,0 -2.7,0M164.59,292.83a1.35,1.35 0 1,0 2.7,0a1.35,1.35 0 1,0 -2.7,0M164.93,294.90a1.35,1.35 0 1,0 2.7,0a1.35,1.35 0 1,0 -2.7,0M165.27,296.97a1.35,1.35 0 1,0 2.7,0a1.35,1.35 0 1,0 -2.7,0M165.62,299.05a1.35,1.35 0 1,0 2.7,0a1.35,1.35 0 1,0 -2.7,0M165.98,301.11a1.35,1.35 0 1,0 2.7,0a1.35,1.35 0 1,0 -2.7,0M166.35,303.18a1.35,1.35 0 1,0 2.7,0a1.35,1.35 0 1,0 -2.7,0M166.72,305.25a1.35,1.35 0 1,0 2.7,0a1.35,1.35 0 1,0 -2.7,0M167.10,307.31a1.35,1.35 0 1,0 2.7,0a1.35,1.35 0 1,0 -2.7,0M167.46,309.38a1.35,1.35 0 1,0 2.7,0a1.35,1.35 0 1,0 -2.7,0M167.82,311.45a1.35,1.35 0 1,0 2.7,0a1.35,1.35 0 1,0 -2.7,0M168.19,313.52a1.35,1.35 0 1,0 2.7,0a1.35,1.35 0 1,0 -2.7,0M168.61,315.58a1.35,1.35 0 1,0 2.7,0a1.35,1.35 0 1,0 -2.7,0M169.09,317.62a1.35,1.35 0 1,0 2.7,0a1.35,1.35 0 1,0 -2.7,0M169.72,319.62a1.35,1.35 0 1,0 2.7,0a1.35,1.35 0 1,0 -2.7,0M170.50,321.57a1.35,1.35 0 1,0 2.7,0a1.35,1.35 0 1,0 -2.7,0M171.64,323.33a1.35,1.35 0 1,0 2.7,0a1.35,1.35 0 1,0 -2.7,0M173.21,324.72a1.35,1.35 0 1,0 2.7,0a1.35,1.35 0 1,0 -2.7,0M175.13,325.49a1.35,1.35 0 1,0 2.7,0a1.35,1.35 0 1,0 -2.7,0M177.22,325.70a1.35,1.35 0 1,0 2.7,0a1.35,1.35 0 1,0 -2.7,0M179.31,325.84a1.35,1.35 0 1,0 2.7,0a1.35,1.35 0 1,0 -2.7,0M181.41,325.93a1.35,1.35 0 1,0 2.7,0a1.35,1.35 0 1,0 -2.7,0M183.51,325.99a1.35,1.35 0 1,0 2.7,0a1.35,1.35 0 1,0 -2.7,0M185.61,326.03a1.35,1.35 0 1,0 2.7,0a1.35,1.35 0 1,0 -2.7,0M187.71,326.06a1.35,1.35 0 1,0 2.7,0a1.35,1.35 0 1,0 -2.7,0M189.81,326.09a1.35,1.35 0 1,0 2.7,0a1.35,1.35 0 1,0 -2.7,0M191.91,326.11a1.35,1.35 0 1,0 2.7,0a1.35,1.35 0 1,0 -2.7,0M194.01,326.13a1.35,1.35 0 1,0 2.7,0a1.35,1.35 0 1,0 -2.7,0M196.11,326.15a1.35,1.35 0 1,0 2.7,0a1.35,1.35 0 1,0 -2.7,0M198.21,326.16a1.35,1.35 0 1,0 2.7,0a1.35,1.35 0 1,0 -2.7,0M200.31,326.18a1.35,1.35 0 1,0 2.7,0a1.35,1.35 0 1,0 -2.7,0" fill="#ffffff" fill-opacity="0.7" stroke="#c4d6b0" stroke-width="0.65" opacity="0.95"/>
<path d="M95.0,402.93 L95.5,402.92 L96.0,402.90 L96.5,402.88 L97.0,402.86 L97.5,402.82 L98.0,402.78 L98.5,402.73 L99.0,402.67 L99.5,402.60 L100.0,402.51 L100.5,402.41 L101.0,402.29 L101.5,402.15 L102.0,401.98 L102.5,401.80 L103.0,401.58 L103.5,401.35 L104.0,401.08 L104.5,400.79 L105.0,400.47 L105.5,400.12 L106.0,399.75 L106.5,399.36 L107.0,398.95 L107.5,398.52 L108.0,398.09 L108.5,397.66 L109.0,397.23 L109.5,396.81 L110.0,396.40 L110.5,396.03 L111.0,395.69 L111.5,395.38 L112.0,395.12 L112.5,394.92 L113.0,394.77 L113.5,394.67 L114.0,394.64 L114.5,394.67 L115.0,394.76 L115.5,394.91 L116.0,395.12 L116.5,395.37 L117.0,395.68 L117.5,396.02 L118.0,396.39 L118.5,396.79 L119.0,397.21 L119.5,397.64 L120.0,398.07 L120.5,398.50 L121.0,398.92 L121.5,399.33 L122.0,399.72 L122.5,400.09 L123.0,400.44 L123.5,400.76 L124.0,401.05 L124.5,401.31 L125.0,401.55 L125.5,401.76 L126.0,401.95 L126.5,402.11 L127.0,402.25 L127.5,402.37 L128.0,402.47 L128.5,402.55 L129.0,402.62 L129.5,402.68 L130.0,402.73 L130.5,402.77 L131.0,402.80 L131.5,402.83 L132.0,402.85 L132.5,402.86 L133.0,402.87 L133.0,402.91 L132.5,402.91 L132.0,402.91 L131.5,402.91 L131.0,402.91 L130.5,402.92 L130.0,402.92 L129.5,402.92 L129.0,402.92 L128.5,402.92 L128.0,402.92 L127.5,402.92 L127.0,402.92 L126.5,402.92 L126.0,402.92 L125.5,402.92 L125.0,402.92 L124.5,402.92 L124.0,402.93 L123.5,402.93 L123.0,402.93 L122.5,402.93 L122.0,402.93 L121.5,402.93 L121.0,402.93 L120.5,402.93 L120.0,402.93 L119.5,402.93 L119.0,402.93 L118.5,402.93 L118.0,402.93 L117.5,402.94 L117.0,402.94 L116.5,402.94 L116.0,402.94 L115.5,402.94 L115.0,402.94 L114.5,402.94 L114.0,402.94 L113.5,402.94 L113.0,402.94 L112.5,402.94 L112.0,402.94 L111.5,402.95 L111.0,402.95 L110.5,402.95 L110.0,402.95 L109.5,402.95 L109.0,402.95 L108.5,402.95 L108.0,402.95 L107.5,402.95 L107.0,402.95 L106.5,402.95 L106.0,402.95 L105.5,402.95 L105.0,402.96 L104.5,402.96 L104.0,402.96 L103.5,402.96 L103.0,402.96 L102.5,402.96 L102.0,402.96 L101.5,402.96 L101.0,402.96 L100.5,402.96 L100.0,402.96 L99.5,402.96 L99.0,402.97 L98.5,402.97 L98.0,402.97 L97.5,402.97 L97.0,402.97 L96.5,402.97 L96.0,402.97 L95.5,402.97 L95.0,402.97 Z" fill="url(#gG)" fill-opacity="0.9"/>
<path d="M125.0,402.69 L125.5,402.68 L126.0,402.68 L126.5,402.67 L127.0,402.66 L127.5,402.65 L128.0,402.64 L128.5,402.63 L129.0,402.62 L129.5,402.61 L130.0,402.60 L130.5,402.59 L131.0,402.58 L131.5,402.57 L132.0,402.55 L132.5,402.54 L133.0,402.52 L133.5,402.51 L134.0,402.49 L134.5,402.47 L135.0,402.46 L135.5,402.43 L136.0,402.41 L136.5,402.38 L137.0,402.36 L137.5,402.32 L138.0,402.28 L138.5,402.24 L139.0,402.18 L139.5,402.12 L140.0,402.04 L140.5,401.95 L141.0,401.83 L141.5,401.69 L142.0,401.52 L142.5,401.31 L143.0,401.06 L143.5,400.75 L144.0,400.39 L144.5,399.94 L145.0,399.41 L145.5,398.79 L146.0,398.05 L146.5,397.18 L147.0,396.18 L147.5,395.02 L148.0,393.70 L148.5,392.19 L149.0,390.50 L149.5,388.62 L150.0,386.54 L150.5,384.26 L151.0,381.80 L151.5,379.15 L152.0,376.34 L152.5,373.38 L153.0,370.31 L153.5,367.16 L154.0,363.97 L154.5,360.79 L155.0,357.65 L155.5,354.62 L156.0,351.75 L156.5,349.10 L157.0,346.72 L157.5,344.67 L158.0,342.99 L158.5,341.73 L159.0,340.92 L159.5,340.58 L160.0,340.72 L160.5,341.34 L161.0,342.43 L161.5,343.94 L162.0,345.85 L162.5,348.10 L163.0,350.65 L163.5,353.44 L164.0,356.41 L164.5,359.51 L165.0,362.68 L165.5,365.87 L166.0,369.04 L166.5,372.14 L167.0,375.15 L167.5,378.02 L168.0,380.73 L168.5,383.27 L169.0,385.62 L169.5,387.78 L170.0,389.74 L170.5,391.51 L171.0,393.08 L171.5,394.47 L172.0,395.70 L172.5,396.76 L173.0,397.68 L173.5,398.46 L174.0,399.13 L174.5,399.70 L175.0,400.17 L175.5,400.56 L176.0,400.89 L176.5,401.16 L177.0,401.39 L177.5,401.57 L178.0,401.72 L178.5,401.84 L179.0,401.94 L179.5,402.03 L180.0,402.09 L180.5,402.15 L181.0,402.20 L181.5,402.24 L182.0,402.27 L182.5,402.30 L183.0,402.33 L183.5,402.35 L184.0,402.37 L184.5,402.39 L185.0,402.40 L185.5,402.42 L186.0,402.43 L186.5,402.45 L187.0,402.46 L187.5,402.47 L188.0,402.48 L188.5,402.49 L189.0,402.50 L189.5,402.51 L190.0,402.52 L190.5,402.53 L191.0,402.54 L191.5,402.55 L192.0,402.55 L192.5,402.56 L193.0,402.57 L193.5,402.57 L194.0,402.58 L194.0,402.81 L193.5,402.82 L193.0,402.82 L192.5,402.82 L192.0,402.82 L191.5,402.82 L191.0,402.82 L190.5,402.82 L190.0,402.82 L189.5,402.82 L189.0,402.82 L188.5,402.82 L188.0,402.82 L187.5,402.82 L187.0,402.83 L186.5,402.83 L186.0,402.83 L185.5,402.83 L185.0,402.83 L184.5,402.83 L184.0,402.83 L183.5,402.83 L183.0,402.83 L182.5,402.83 L182.0,402.83 L181.5,402.83 L181.0,402.83 L180.5,402.84 L180.0,402.84 L179.5,402.84 L179.0,402.84 L178.5,402.84 L178.0,402.84 L177.5,402.84 L177.0,402.84 L176.5,402.84 L176.0,402.84 L175.5,402.84 L175.0,402.84 L174.5,402.85 L174.0,402.85 L173.5,402.85 L173.0,402.85 L172.5,402.85 L172.0,402.85 L171.5,402.85 L171.0,402.85 L170.5,402.85 L170.0,402.85 L169.5,402.85 L169.0,402.85 L168.5,402.85 L168.0,402.86 L167.5,402.86 L167.0,402.86 L166.5,402.86 L166.0,402.86 L165.5,402.86 L165.0,402.86 L164.5,402.86 L164.0,402.86 L163.5,402.86 L163.0,402.86 L162.5,402.86 L162.0,402.87 L161.5,402.87 L161.0,402.87 L160.5,402.87 L160.0,402.87 L159.5,402.87 L159.0,402.87 L158.5,402.87 L158.0,402.87 L157.5,402.87 L157.0,402.87 L156.5,402.87 L156.0,402.87 L155.5,402.88 L155.0,402.88 L154.5,402.88 L154.0,402.88 L153.5,402.88 L153.0,402.88 L152.5,402.88 L152.0,402.88 L151.5,402.88 L151.0,402.88 L150.5,402.88 L150.0,402.88 L149.5,402.88 L149.0,402.89 L148.5,402.89 L148.0,402.89 L147.5,402.89 L147.0,402.89 L146.5,402.89 L146.0,402.89 L145.5,402.89 L145.0,402.89 L144.5,402.89 L144.0,402.89 L143.5,402.89 L143.0,402.90 L142.5,402.90 L142.0,402.90 L141.5,402.90 L141.0,402.90 L140.5,402.90 L140.0,402.90 L139.5,402.90 L139.0,402.90 L138.5,402.90 L138.0,402.90 L137.5,402.90 L137.0,402.90 L136.5,402.91 L136.0,402.91 L135.5,402.91 L135.0,402.91 L134.5,402.91 L134.0,402.91 L133.5,402.91 L133.0,402.91 L132.5,402.91 L132.0,402.91 L131.5,402.91 L131.0,402.91 L130.5,402.92 L130.0,402.92 L129.5,402.92 L129.0,402.92 L128.5,402.92 L128.0,402.92 L127.5,402.92 L127.0,402.92 L126.5,402.92 L126.0,402.92 L125.5,402.92 L125.0,402.92 Z" fill="url(#gR)" fill-opacity="0.9"/>
<path d="M131.5,402.86 L132.0,402.84 L132.5,402.82 L133.0,402.78 L133.5,402.73 L134.0,402.67 L134.5,402.59 L135.0,402.49 L135.5,402.37 L136.0,402.22 L136.5,402.03 L137.0,401.81 L137.5,401.54 L138.0,401.23 L138.5,400.87 L139.0,400.46 L139.5,400.00 L140.0,399.49 L140.5,398.94 L141.0,398.34 L141.5,397.71 L142.0,397.06 L142.5,396.39 L143.0,395.73 L143.5,395.09 L144.0,394.49 L144.5,393.93 L145.0,393.44 L145.5,393.03 L146.0,392.71 L146.5,392.50 L147.0,392.40 L147.5,392.41 L148.0,392.53 L148.5,392.76 L149.0,393.10 L149.5,393.52 L150.0,394.03 L150.5,394.59 L151.0,395.21 L151.5,395.85 L152.0,396.51 L152.5,397.17 L153.0,397.82 L153.5,398.44 L154.0,399.03 L154.5,399.57 L155.0,400.07 L155.5,400.52 L156.0,400.92 L156.5,401.27 L157.0,401.57 L157.5,401.82 L158.0,402.04 L158.5,402.21 L159.0,402.36 L159.5,402.48 L160.0,402.57 L160.5,402.64 L161.0,402.70 L161.5,402.74 L162.0,402.77 L162.5,402.80 L163.0,402.82 L163.0,402.86 L162.5,402.86 L162.0,402.87 L161.5,402.87 L161.0,402.87 L160.5,402.87 L160.0,402.87 L159.5,402.87 L159.0,402.87 L158.5,402.87 L158.0,402.87 L157.5,402.87 L157.0,402.87 L156.5,402.87 L156.0,402.87 L155.5,402.88 L155.0,402.88 L154.5,402.88 L154.0,402.88 L153.5,402.88 L153.0,402.88 L152.5,402.88 L152.0,402.88 L151.5,402.88 L151.0,402.88 L150.5,402.88 L150.0,402.88 L149.5,402.88 L149.0,402.89 L148.5,402.89 L148.0,402.89 L147.5,402.89 L147.0,402.89 L146.5,402.89 L146.0,402.89 L145.5,402.89 L145.0,402.89 L144.5,402.89 L144.0,402.89 L143.5,402.89 L143.0,402.90 L142.5,402.90 L142.0,402.90 L141.5,402.90 L141.0,402.90 L140.5,402.90 L140.0,402.90 L139.5,402.90 L139.0,402.90 L138.5,402.90 L138.0,402.90 L137.5,402.90 L137.0,402.90 L136.5,402.91 L136.0,402.91 L135.5,402.91 L135.0,402.91 L134.5,402.91 L134.0,402.91 L133.5,402.91 L133.0,402.91 L132.5,402.91 L132.0,402.91 L131.5,402.91 Z" fill="url(#gO)" fill-opacity="0.9"/>
<path d="M110.0,402.93 L110.5,402.92 L111.0,402.91 L111.5,402.90 L112.0,402.88 L112.5,402.87 L113.0,402.84 L113.5,402.82 L114.0,402.79 L114.5,402.75 L115.0,402.71 L115.5,402.66 L116.0,402.60 L116.5,402.53 L117.0,402.45 L117.5,402.35 L118.0,402.25 L118.5,402.13 L119.0,402.00 L119.5,401.86 L120.0,401.70 L120.5,401.53 L121.0,401.35 L121.5,401.16 L122.0,400.96 L122.5,400.75 L123.0,400.54 L123.5,400.32 L124.0,400.10 L124.5,399.89 L125.0,399.68 L125.5,399.48 L126.0,399.29 L126.5,399.13 L127.0,398.98 L127.5,398.85 L128.0,398.75 L128.5,398.68 L129.0,398.63 L129.5,398.62 L130.0,398.63 L130.5,398.67 L131.0,398.75 L131.5,398.85 L132.0,398.97 L132.5,399.12 L133.0,399.28 L133.5,399.47 L134.0,399.66 L134.5,399.87 L135.0,400.08 L135.5,400.30 L136.0,400.52 L136.5,400.73 L137.0,400.94 L137.5,401.14 L138.0,401.33 L138.5,401.51 L139.0,401.67 L139.5,401.83 L140.0,401.97 L140.5,402.10 L141.0,402.21 L141.5,402.32 L142.0,402.41 L142.5,402.48 L143.0,402.55 L143.5,402.61 L144.0,402.66 L144.5,402.70 L145.0,402.74 L145.5,402.77 L146.0,402.79 L146.5,402.81 L147.0,402.83 L147.5,402.84 L148.0,402.85 L148.5,402.86 L149.0,402.86 L149.0,402.89 L148.5,402.89 L148.0,402.89 L147.5,402.89 L147.0,402.89 L146.5,402.89 L146.0,402.89 L145.5,402.89 L145.0,402.89 L144.5,402.89 L144.0,402.89 L143.5,402.89 L143.0,402.90 L142.5,402.90 L142.0,402.90 L141.5,402.90 L141.0,402.90 L140.5,402.90 L140.0,402.90 L139.5,402.90 L139.0,402.90 L138.5,402.90 L138.0,402.90 L137.5,402.90 L137.0,402.90 L136.5,402.91 L136.0,402.91 L135.5,402.91 L135.0,402.91 L134.5,402.91 L134.0,402.91 L133.5,402.91 L133.0,402.91 L132.5,402.91 L132.0,402.91 L131.5,402.91 L131.0,402.91 L130.5,402.92 L130.0,402.92 L129.5,402.92 L129.0,402.92 L128.5,402.92 L128.0,402.92 L127.5,402.92 L127.0,402.92 L126.5,402.92 L126.0,402.92 L125.5,402.92 L125.0,402.92 L124.5,402.92 L124.0,402.93 L123.5,402.93 L123.0,402.93 L122.5,402.93 L122.0,402.93 L121.5,402.93 L121.0,402.93 L120.5,402.93 L120.0,402.93 L119.5,402.93 L119.0,402.93 L118.5,402.93 L118.0,402.93 L117.5,402.94 L117.0,402.94 L116.5,402.94 L116.0,402.94 L115.5,402.94 L115.0,402.94 L114.5,402.94 L114.0,402.94 L113.5,402.94 L113.0,402.94 L112.5,402.94 L112.0,402.94 L111.5,402.95 L111.0,402.95 L110.5,402.95 L110.0,402.95 Z" fill="url(#gP)" fill-opacity="0.9"/>
<path d="M77.0,403.00 L79.0,403.00 L81.0,402.99 L83.0,402.99 L85.0,402.99 L87.0,402.98 L89.0,402.98 L91.0,402.98 L93.0,402.97 L95.0,402.97 L97.0,402.97 L99.0,402.97 L101.0,402.96 L103.0,402.96 L105.0,402.96 L107.0,402.95 L109.0,402.95 L111.0,402.95 L113.0,402.94 L115.0,402.94 L117.0,402.94 L119.0,402.93 L121.0,402.93 L123.0,402.93 L125.0,402.92 L127.0,402.92 L129.0,402.92 L131.0,402.91 L133.0,402.91 L135.0,402.91 L137.0,402.90 L139.0,402.90 L141.0,402.90 L143.0,402.90 L145.0,402.89 L147.0,402.89 L149.0,402.89 L151.0,402.88 L153.0,402.88 L155.0,402.88 L157.0,402.87 L159.0,402.87 L161.0,402.87 L163.0,402.86 L165.0,402.86 L167.0,402.86 L169.0,402.85 L171.0,402.85 L173.0,402.85 L175.0,402.84 L177.0,402.84 L179.0,402.84 L181.0,402.83 L183.0,402.83 L185.0,402.83 L187.0,402.83 L189.0,402.82 L191.0,402.82 L193.0,402.82 L195.0,402.81 L197.0,402.81 L199.0,402.81 L201.0,402.80 L203.0,402.80" fill="none" stroke="#a8ccee" stroke-width="1"/>
<path d="M77.00,402.40 L77.50,402.40 L78.00,402.40 L78.50,402.40 L79.00,402.40 L79.50,402.40 L80.00,402.40 L80.50,402.39 L81.00,402.39 L81.50,402.39 L82.00,402.39 L82.50,402.39 L83.00,402.39 L83.50,402.39 L84.00,402.39 L84.50,402.39 L85.00,402.39 L85.50,402.39 L86.00,402.39 L86.50,402.38 L87.00,402.38 L87.50,402.38 L88.00,402.38 L88.50,402.38 L89.00,402.38 L89.50,402.38 L90.00,402.38 L90.50,402.37 L91.00,402.37 L91.50,402.37 L92.00,402.37 L92.50,402.36 L93.00,402.36 L93.50,402.35 L94.00,402.34 L94.50,402.33 L95.00,402.31 L95.50,402.29 L96.00,402.27 L96.50,402.24 L97.00,402.21 L97.50,402.17 L98.00,402.12 L98.50,402.05 L99.00,401.98 L99.50,401.89 L100.00,401.79 L100.50,401.66 L101.00,401.52 L101.50,401.36 L102.00,401.17 L102.50,400.96 L103.00,400.72 L103.50,400.45 L104.00,400.16 L104.50,399.84 L105.00,399.50 L105.50,399.13 L106.00,398.73 L106.50,398.32 L107.00,397.89 L107.50,397.45 L108.00,397.00 L108.50,396.55 L109.00,396.11 L109.50,395.68 L110.00,395.26 L110.50,394.88 L111.00,394.52 L111.50,394.20 L112.00,393.92 L112.50,393.69 L113.00,393.51 L113.50,393.39 L114.00,393.31 L114.50,393.29 L115.00,393.32 L115.50,393.40 L116.00,393.53 L116.50,393.69 L117.00,393.89 L117.50,394.11 L118.00,394.36 L118.50,394.61 L119.00,394.88 L119.50,395.14 L120.00,395.39 L120.50,395.62 L121.00,395.84 L121.50,396.04 L122.00,396.21 L122.50,396.35 L123.00,396.47 L123.50,396.56 L124.00,396.62 L124.50,396.66 L125.00,396.69 L125.50,396.70 L126.00,396.70 L126.50,396.69 L127.00,396.68 L127.50,396.68 L128.00,396.69 L128.50,396.70 L129.00,396.74 L129.50,396.79 L130.00,396.86 L130.50,396.95 L131.00,397.06 L131.50,397.19 L132.00,397.33 L132.50,397.49 L133.00,397.66 L133.50,397.83 L134.00,398.00 L134.50,398.16 L135.00,398.31 L135.50,398.43 L136.00,398.53 L136.50,398.59 L137.00,398.61 L137.50,398.57 L138.00,398.48 L138.50,398.33 L139.00,398.11 L139.50,397.82 L140.00,397.46 L140.50,397.03 L141.00,396.52 L141.50,395.95 L142.00,395.30 L142.50,394.59 L143.00,393.82 L143.50,392.99 L144.00,392.12 L144.50,391.19 L145.00,390.21 L145.50,389.19 L146.00,388.12 L146.50,386.99 L147.00,385.80 L147.50,384.55 L148.00,383.21 L148.50,381.78 L149.00,380.24 L149.50,378.59 L150.00,376.81 L150.50,374.90 L151.00,372.85 L151.50,370.65 L152.00,368.33 L152.50,365.89 L153.00,363.34 L153.50,360.73 L154.00,358.07 L154.50,355.40 L155.00,352.78 L155.50,350.25 L156.00,347.86 L156.50,345.66 L157.00,343.70 L157.50,342.03 L158.00,340.68 L158.50,339.70 L159.00,339.12 L159.50,338.94 L160.00,339.19 L160.50,339.87 L161.00,340.96 L161.50,342.45 L162.00,344.31 L162.50,346.51 L163.00,348.99 L163.50,351.73 L164.00,354.67 L164.50,357.75 L165.00,360.93 L165.50,364.16 L166.00,367.38 L166.50,370.56 L167.00,373.65 L167.50,376.63 L168.00,379.46 L168.50,382.12 L169.00,384.60 L169.50,386.89 L170.00,388.97 L170.50,390.85 L171.00,392.54 L171.50,394.04 L172.00,395.35 L172.50,396.50 L173.00,397.48 L173.50,398.33 L174.00,399.05 L174.50,399.66 L175.00,400.16 L175.50,400.58 L176.00,400.92 L176.50,401.20 L177.00,401.43 L177.50,401.61 L178.00,401.75 L178.50,401.87 L179.00,401.96 L179.50,402.02 L180.00,402.08 L180.50,402.12 L181.00,402.15 L181.50,402.17 L182.00,402.19 L182.50,402.20 L183.00,402.21 L183.50,402.21 L184.00,402.22 L184.50,402.22 L185.00,402.22 L185.50,402.22 L186.00,402.22 L186.50,402.22 L187.00,402.22 L187.50,402.22 L188.00,402.22 L188.50,402.22 L189.00,402.22 L189.50,402.22 L190.00,402.22 L190.50,402.22 L191.00,402.22 L191.50,402.22 L192.00,402.22 L192.50,402.22 L193.00,402.22 L193.50,402.22 L194.00,402.21 L194.50,402.21 L195.00,402.21 L195.50,402.21 L196.00,402.21 L196.50,402.21 L197.00,402.21 L197.50,402.21 L198.00,402.21 L198.50,402.21 L199.00,402.21 L199.50,402.21 L200.00,402.20 L200.50,402.20 L201.00,402.20 L201.50,402.20 L202.00,402.20 L202.50,402.20 L203.00,402.20" fill="none" stroke="#d8e6cc" stroke-width="2.6" stroke-linejoin="round" opacity="0.3"/>
<path d="M77.75,402.40a1.35,1.35 0 1,0 2.7,0a1.35,1.35 0 1,0 -2.7,0M79.85,402.39a1.35,1.35 0 1,0 2.7,0a1.35,1.35 0 1,0 -2.7,0M81.95,402.39a1.35,1.35 0 1,0 2.7,0a1.35,1.35 0 1,0 -2.7,0M84.05,402.39a1.35,1.35 0 1,0 2.7,0a1.35,1.35 0 1,0 -2.7,0M86.15,402.38a1.35,1.35 0 1,0 2.7,0a1.35,1.35 0 1,0 -2.7,0M88.25,402.38a1.35,1.35 0 1,0 2.7,0a1.35,1.35 0 1,0 -2.7,0M90.35,402.37a1.35,1.35 0 1,0 2.7,0a1.35,1.35 0 1,0 -2.7,0M92.45,402.34a1.35,1.35 0 1,0 2.7,0a1.35,1.35 0 1,0 -2.7,0M94.55,402.28a1.35,1.35 0 1,0 2.7,0a1.35,1.35 0 1,0 -2.7,0M96.64,402.12a1.35,1.35 0 1,0 2.7,0a1.35,1.35 0 1,0 -2.7,0M98.71,401.77a1.35,1.35 0 1,0 2.7,0a1.35,1.35 0 1,0 -2.7,0M100.71,401.14a1.35,1.35 0 1,0 2.7,0a1.35,1.35 0 1,0 -2.7,0M102.59,400.20a1.35,1.35 0 1,0 2.7,0a1.35,1.35 0 1,0 -2.7,0M104.31,399.00a1.35,1.35 0 1,0 2.7,0a1.35,1.35 0 1,0 -2.7,0M105.92,397.65a1.35,1.35 0 1,0 2.7,0a1.35,1.35 0 1,0 -2.7,0M107.49,396.25a1.35,1.35 0 1,0 2.7,0a1.35,1.35 0 1,0 -2.7,0M109.10,394.91a1.35,1.35 0 1,0 2.7,0a1.35,1.35 0 1,0 -2.7,0M110.89,393.81a1.35,1.35 0 1,0 2.7,0a1.35,1.35 0 1,0 -2.7,0M112.91,393.30a1.35,1.35 0 1,0 2.7,0a1.35,1.35 0 1,0 -2.7,0M114.97,393.63a1.35,1.35 0 1,0 2.7,0a1.35,1.35 0 1,0 -2.7,0M116.89,394.48a1.35,1.35 0 1,0 2.7,0a1.35,1.35 0 1,0 -2.7,0M118.76,395.44a1.35,1.35 0 1,0 2.7,0a1.35,1.35 0 1,0 -2.7,0M120.70,396.22a1.35,1.35 0 1,0 2.7,0a1.35,1.35 0 1,0 -2.7,0M122.76,396.63a1.35,1.35 0 1,0 2.7,0a1.35,1.35 0 1,0 -2.7,0M124.85,396.69a1.35,1.35 0 1,0 2.7,0a1.35,1.35 0 1,0 -2.7,0M126.95,396.70a1.35,1.35 0 1,0 2.7,0a1.35,1.35 0 1,0 -2.7,0M129.04,396.93a1.35,1.35 0 1,0 2.7,0a1.35,1.35 0 1,0 -2.7,0M131.07,397.47a1.35,1.35 0 1,0 2.7,0a1.35,1.35 0 1,0 -2.7,0M133.06,398.13a1.35,1.35 0 1,0 2.7,0a1.35,1.35 0 1,0 -2.7,0M135.11,398.58a1.35,1.35 0 1,0 2.7,0a1.35,1.35 0 1,0 -2.7,0M137.17,398.32a1.35,1.35 0 1,0 2.7,0a1.35,1.35 0 1,0 -2.7,0M138.94,397.21a1.35,1.35 0 1,0 2.7,0a1.35,1.35 0 1,0 -2.7,0M140.36,395.67a1.35,1.35 0 1,0 2.7,0a1.35,1.35 0 1,0 -2.7,0M141.56,393.95a1.35,1.35 0 1,0 2.7,0a1.35,1.35 0 1,0 -2.7,0M142.63,392.14a1.35,1.35 0 1,0 2.7,0a1.35,1.35 0 1,0 -2.7,0M143.61,390.29a1.35,1.35 0 1,0 2.7,0a1.35,1.35 0 1,0 -2.7,0M144.52,388.39a1.35,1.35 0 1,0 2.7,0a1.35,1.35 0 1,0 -2.7,0M145.37,386.47a1.35,1.35 0 1,0 2.7,0a1.35,1.35 0 1,0 -2.7,0M146.16,384.53a1.35,1.35 0 1,0 2.7,0a1.35,1.35 0 1,0 -2.7,0M146.88,382.55a1.35,1.35 0 1,0 2.7,0a1.35,1.35 0 1,0 -2.7,0M147.55,380.56a1.35,1.35 0 1,0 2.7,0a1.35,1.35 0 1,0 -2.7,0M148.16,378.55a1.35,1.35 0 1,0 2.7,0a1.35,1.35 0 1,0 -2.7,0M148.72,376.53a1.35,1.35 0 1,0 2.7,0a1.35,1.35 0 1,0 -2.7,0M149.25,374.50a1.35,1.35 0 1,0 2.7,0a1.35,1.35 0 1,0 -2.7,0M149.74,372.46a1.35,1.35 0 1,0 2.7,0a1.35,1.35 0 1,0 -2.7,0M150.20,370.41a1.35,1.35 0 1,0 2.7,0a1.35,1.35 0 1,0 -2.7,0M150.64,368.36a1.35,1.35 0 1,0 2.7,0a1.35,1.35 0 1,0 -2.7,0M151.07,366.30a1.35,1.35 0 1,0 2.7,0a1.35,1.35 0 1,0 -2.7,0M151.47,364.24a1.35,1.35 0 1,0 2.7,0a1.35,1.35 0 1,0 -2.7,0M151.87,362.18a1.35,1.35 0 1,0 2.7,0a1.35,1.35 0 1,0 -2.7,0M152.27,360.11a1.35,1.35 0 1,0 2.7,0a1.35,1.35 0 1,0 -2.7,0M152.65,358.05a1.35,1.35 0 1,0 2.7,0a1.35,1.35 0 1,0 -2.7,0M153.04,355.99a1.35,1.35 0 1,0 2.7,0a1.35,1.35 0 1,0 -2.7,0M153.43,353.92a1.35,1.35 0 1,0 2.7,0a1.35,1.35 0 1,0 -2.7,0M153.83,351.86a1.35,1.35 0 1,0 2.7,0a1.35,1.35 0 1,0 -2.7,0M154.24,349.80a1.35,1.35 0 1,0 2.7,0a1.35,1.35 0 1,0 -2.7,0M154.68,347.75a1.35,1.35 0 1,0 2.7,0a1.35,1.35 0 1,0 -2.7,0M155.14,345.70a1.35,1.35 0 1,0 2.7,0a1.35,1.35 0 1,0 -2.7,0M155.66,343.66a1.35,1.35 0 1,0 2.7,0a1.35,1.35 0 1,0 -2.7,0M156.29,341.66a1.35,1.35 0 1,0 2.7,0a1.35,1.35 0 1,0 -2.7,0M157.13,339.74a1.35,1.35 0 1,0 2.7,0a1.35,1.35 0 1,0 -2.7,0M158.77,339.35a1.35,1.35 0 1,0 2.7,0a1.35,1.35 0 1,0 -2.7,0M159.73,341.20a1.35,1.35 0 1,0 2.7,0a1.35,1.35 0 1,0 -2.7,0M160.35,343.21a1.35,1.35 0 1,0 2.7,0a1.35,1.35 0 1,0 -2.7,0M160.86,345.25a1.35,1.35 0 1,0 2.7,0a1.35,1.35 0 1,0 -2.7,0M161.31,347.30a1.35,1.35 0 1,0 2.7,0a1.35,1.35 0 1,0 -2.7,0M161.72,349.36a1.35,1.35 0 1,0 2.7,0a1.35,1.35 0 1,0 -2.7,0M162.09,351.42a1.35,1.35 0 1,0 2.7,0a1.35,1.35 0 1,0 -2.7,0M162.45,353.49a1.35,1.35 0 1,0 2.7,0a1.35,1.35 0 1,0 -2.7,0M162.80,355.56a1.35,1.35 0 1,0 2.7,0a1.35,1.35 0 1,0 -2.7,0M163.13,357.64a1.35,1.35 0 1,0 2.7,0a1.35,1.35 0 1,0 -2.7,0M163.46,359.71a1.35,1.35 0 1,0 2.7,0a1.35,1.35 0 1,0 -2.7,0M163.78,361.79a1.35,1.35 0 1,0 2.7,0a1.35,1.35 0 1,0 -2.7,0M164.10,363.86a1.35,1.35 0 1,0 2.7,0a1.35,1.35 0 1,0 -2.7,0M164.43,365.94a1.35,1.35 0 1,0 2.7,0a1.35,1.35 0 1,0 -2.7,0M164.75,368.01a1.35,1.35 0 1,0 2.7,0a1.35,1.35 0 1,0 -2.7,0M165.08,370.09a1.35,1.35 0 1,0 2.7,0a1.35,1.35 0 1,0 -2.7,0M165.41,372.16a1.35,1.35 0 1,0 2.7,0a1.35,1.35 0 1,0 -2.7,0M165.75,374.23a1.35,1.35 0 1,0 2.7,0a1.35,1.35 0 1,0 -2.7,0M166.10,376.30a1.35,1.35 0 1,0 2.7,0a1.35,1.35 0 1,0 -2.7,0M166.46,378.37a1.35,1.35 0 1,0 2.7,0a1.35,1.35 0 1,0 -2.7,0M166.83,380.44a1.35,1.35 0 1,0 2.7,0a1.35,1.35 0 1,0 -2.7,0M167.23,382.50a1.35,1.35 0 1,0 2.7,0a1.35,1.35 0 1,0 -2.7,0M167.64,384.56a1.35,1.35 0 1,0 2.7,0a1.35,1.35 0 1,0 -2.7,0M168.09,386.61a1.35,1.35 0 1,0 2.7,0a1.35,1.35 0 1,0 -2.7,0M168.57,388.65a1.35,1.35 0 1,0 2.7,0a1.35,1.35 0 1,0 -2.7,0M169.11,390.69a1.35,1.35 0 1,0 2.7,0a1.35,1.35 0 1,0 -2.7,0M169.70,392.70a1.35,1.35 0 1,0 2.7,0a1.35,1.35 0 1,0 -2.7,0M170.40,394.68a1.35,1.35 0 1,0 2.7,0a1.35,1.35 0 1,0 -2.7,0M171.21,396.62a1.35,1.35 0 1,0 2.7,0a1.35,1.35 0 1,0 -2.7,0M172.23,398.45a1.35,1.35 0 1,0 2.7,0a1.35,1.35 0 1,0 -2.7,0M173.56,400.07a1.35,1.35 0 1,0 2.7,0a1.35,1.35 0 1,0 -2.7,0M175.28,401.26a1.35,1.35 0 1,0 2.7,0a1.35,1.35 0 1,0 -2.7,0M177.27,401.89a1.35,1.35 0 1,0 2.7,0a1.35,1.35 0 1,0 -2.7,0M179.36,402.13a1.35,1.35 0 1,0 2.7,0a1.35,1.35 0 1,0 -2.7,0M181.46,402.20a1.35,1.35 0 1,0 2.7,0a1.35,1.35 0 1,0 -2.7,0M183.56,402.22a1.35,1.35 0 1,0 2.7,0a1.35,1.35 0 1,0 -2.7,0M185.66,402.22a1.35,1.35 0 1,0 2.7,0a1.35,1.35 0 1,0 -2.7,0M187.76,402.22a1.35,1.35 0 1,0 2.7,0a1.35,1.35 0 1,0 -2.7,0M189.86,402.22a1.35,1.35 0 1,0 2.7,0a1.35,1.35 0 1,0 -2.7,0M191.96,402.22a1.35,1.35 0 1,0 2.7,0a1.35,1.35 0 1,0 -2.7,0M194.06,402.21a1.35,1.35 0 1,0 2.7,0a1.35,1.35 0 1,0 -2.7,0M196.16,402.21a1.35,1.35 0 1,0 2.7,0a1.35,1.35 0 1,0 -2.7,0M198.26,402.21a1.35,1.35 0 1,0 2.7,0a1.35,1.35 0 1,0 -2.7,0M200.36,402.20a1.35,1.35 0 1,0 2.7,0a1.35,1.35 0 1,0 -2.7,0" fill="#ffffff" fill-opacity="0.7" stroke="#c4d6b0" stroke-width="0.65" opacity="0.95"/>
<rect x="76.4" y="178.2" width="126.96000000000001" height="234.40000000000003" fill="none" stroke="#1a1a1a" stroke-width="1.2"/>
<line x1="94.54" y1="412.6" x2="94.54" y2="408.3" stroke="#1a1a1a" stroke-width="1.2"/>
<line x1="112.67" y1="412.6" x2="112.67" y2="410.40000000000003" stroke="#1a1a1a" stroke-width="1.2"/>
<line x1="130.81" y1="412.6" x2="130.81" y2="408.3" stroke="#1a1a1a" stroke-width="1.2"/>
<line x1="148.95" y1="412.6" x2="148.95" y2="410.40000000000003" stroke="#1a1a1a" stroke-width="1.2"/>
<line x1="167.09" y1="412.6" x2="167.09" y2="408.3" stroke="#1a1a1a" stroke-width="1.2"/>
<line x1="185.22" y1="412.6" x2="185.22" y2="410.40000000000003" stroke="#1a1a1a" stroke-width="1.2"/>
<text x="94.54" y="426.9" font-size="12.5" text-anchor="middle" font-family="Liberation Sans, sans-serif">292</text>
<text x="130.81" y="426.9" font-size="12.5" text-anchor="middle" font-family="Liberation Sans, sans-serif">288</text>
<text x="167.09" y="426.9" font-size="12.5" text-anchor="middle" font-family="Liberation Sans, sans-serif">284</text>
<text x="203.36" y="426.9" font-size="12.5" text-anchor="middle" font-family="Liberation Sans, sans-serif">280</text>
<text transform="translate(69.3,295.05) rotate(-90)" font-size="12.7" text-anchor="middle" font-family="Liberation Sans, sans-serif">Intensity (a.u.)</text>
<text x="216.6" y="183.3" font-size="15" font-weight="bold" font-family="Liberation Sans, sans-serif">c</text>
<text x="231.9" y="189.3" font-size="12.6" font-family="Liberation Sans, sans-serif">Zn 2p</text>
<path d="M250.4,240.96 L250.9,240.90 L251.4,240.81 L251.9,240.69 L252.4,240.51 L252.9,240.27 L253.4,239.94 L253.9,239.51 L254.4,238.96 L254.9,238.26 L255.4,237.40 L255.9,236.36 L256.4,235.12 L256.9,233.68 L257.4,232.06 L257.9,230.26 L258.4,228.33 L258.9,226.30 L259.4,224.24 L259.9,222.20 L260.4,220.27 L260.9,218.51 L261.4,217.01 L261.9,215.83 L262.4,215.03 L262.9,214.63 L263.4,214.68 L263.9,215.15 L264.4,216.04 L264.9,217.29 L265.4,218.85 L265.9,220.64 L266.4,222.60 L266.9,224.65 L267.4,226.72 L267.9,228.73 L268.4,230.64 L268.9,232.40 L269.4,233.98 L269.9,235.38 L270.4,236.59 L270.9,237.60 L271.4,238.44 L271.9,239.11 L272.4,239.65 L272.9,240.07 L273.4,240.39 L273.9,240.63 L274.4,240.80 L274.9,240.93 L275.4,241.02 L275.9,241.08 L275.9,241.20 L275.4,241.20 L274.9,241.20 L274.4,241.20 L273.9,241.20 L273.4,241.20 L272.9,241.20 L272.4,241.20 L271.9,241.20 L271.4,241.20 L270.9,241.20 L270.4,241.20 L269.9,241.20 L269.4,241.20 L268.9,241.20 L268.4,241.20 L267.9,241.20 L267.4,241.20 L266.9,241.20 L266.4,241.20 L265.9,241.20 L265.4,241.20 L264.9,241.20 L264.4,241.20 L263.9,241.20 L263.4,241.20 L262.9,241.20 L262.4,241.20 L261.9,241.20 L261.4,241.20 L260.9,241.20 L260.4,241.20 L259.9,241.20 L259.4,241.20 L258.9,241.20 L258.4,241.20 L257.9,241.20 L257.4,241.20 L256.9,241.20 L256.4,241.20 L255.9,241.20 L255.4,241.19 L254.9,241.18 L254.4,241.17 L253.9,241.16 L253.4,241.15 L252.9,241.14 L252.4,241.13 L251.9,241.12 L251.4,241.11 L250.9,241.10 L250.4,241.09 Z" fill="url(#gL)" fill-opacity="0.85"/>
<path d="M326.9,246.95 L327.4,246.83 L327.9,246.63 L328.4,246.33 L328.9,245.89 L329.4,245.28 L329.9,244.45 L330.4,243.35 L330.9,241.93 L331.4,240.14 L331.9,237.95 L332.4,235.31 L332.9,232.22 L333.4,228.70 L333.9,224.78 L334.4,220.55 L334.9,216.11 L335.4,211.62 L335.9,207.22 L336.4,203.12 L336.9,199.49 L337.4,196.51 L337.9,194.34 L338.4,193.08 L338.9,192.82 L339.4,193.57 L339.9,195.29 L340.4,197.86 L340.9,201.17 L341.4,205.06 L341.9,209.35 L342.4,213.85 L342.9,218.39 L343.4,222.81 L343.9,226.97 L344.4,230.79 L344.9,234.19 L345.4,237.14 L345.9,239.65 L346.4,241.73 L346.9,243.41 L347.4,244.75 L347.9,245.78 L348.4,246.56 L348.9,247.15 L349.4,247.57 L349.9,247.88 L350.4,248.09 L350.9,248.24 L350.9,248.50 L350.4,248.50 L349.9,248.49 L349.4,248.49 L348.9,248.48 L348.4,248.48 L347.9,248.48 L347.4,248.47 L346.9,248.47 L346.4,248.46 L345.9,248.46 L345.4,248.45 L344.9,248.45 L344.4,248.44 L343.9,248.44 L343.4,248.43 L342.9,248.43 L342.4,248.42 L341.9,248.42 L341.4,248.41 L340.9,248.41 L340.4,248.40 L339.9,248.39 L339.4,248.35 L338.9,248.30 L338.4,248.26 L337.9,248.22 L337.4,248.17 L336.9,248.13 L336.4,248.09 L335.9,248.04 L335.4,248.00 L334.9,247.96 L334.4,247.91 L333.9,247.87 L333.4,247.83 L332.9,247.78 L332.4,247.74 L331.9,247.70 L331.4,247.65 L330.9,247.61 L330.4,247.57 L329.9,247.52 L329.4,247.48 L328.9,247.44 L328.4,247.39 L327.9,247.35 L327.4,247.31 L326.9,247.26 Z" fill="url(#gL)" fill-opacity="0.85"/>
<path d="M230.9,240.70 L232.9,240.74 L234.9,240.78 L236.9,240.82 L238.9,240.86 L240.9,240.90 L242.9,240.94 L244.9,240.98 L246.9,241.02 L248.9,241.06 L250.9,241.10 L252.9,241.14 L254.9,241.18 L256.9,241.20 L258.9,241.20 L260.9,241.20 L262.9,241.20 L264.9,241.20 L266.9,241.20 L268.9,241.20 L270.9,241.20 L272.9,241.20 L274.9,241.20 L276.9,241.32 L278.9,241.59 L280.9,241.86 L282.9,242.14 L284.9,242.41 L286.9,242.68 L288.9,242.95 L290.9,243.21 L292.9,243.45 L294.9,243.69 L296.9,243.93 L298.9,244.17 L300.9,244.41 L302.9,244.65 L304.9,244.89 L306.9,245.13 L308.9,245.37 L310.9,245.60 L312.9,245.81 L314.9,246.02 L316.9,246.24 L318.9,246.45 L320.9,246.66 L322.9,246.88 L324.9,247.09 L326.9,247.26 L328.9,247.44 L330.9,247.61 L332.9,247.78 L334.9,247.96 L336.9,248.13 L338.9,248.30 L340.9,248.41 L342.9,248.43 L344.9,248.45 L346.9,248.47 L348.9,248.48 L350.9,248.50 L352.9,248.52 L354.9,248.54 L356.9,248.56 L358.9,248.58 L360.9,248.60" fill="none" stroke="#a8ccee" stroke-width="1"/>
<path d="M230.90,239.50 L231.40,239.51 L231.90,239.52 L232.40,239.53 L232.90,239.54 L233.40,239.55 L233.90,239.56 L234.40,239.57 L234.90,239.58 L235.40,239.59 L235.90,239.60 L236.40,239.61 L236.90,239.62 L237.40,239.63 L237.90,239.64 L238.40,239.65 L238.90,239.66 L239.40,239.67 L239.90,239.68 L240.40,239.69 L240.90,239.70 L241.40,239.71 L241.90,239.72 L242.40,239.73 L242.90,239.74 L243.40,239.75 L243.90,239.76 L244.40,239.77 L244.90,239.77 L245.40,239.78 L245.90,239.79 L246.40,239.79 L246.90,239.79 L247.40,239.78 L247.90,239.77 L248.40,239.75 L248.90,239.71 L249.40,239.66 L249.90,239.58 L250.40,239.47 L250.90,239.32 L251.40,239.12 L251.90,238.86 L252.40,238.53 L252.90,238.11 L253.40,237.58 L253.90,236.94 L254.40,236.16 L254.90,235.24 L255.40,234.17 L255.90,232.95 L256.40,231.56 L256.90,230.03 L257.40,228.38 L257.90,226.62 L258.40,224.80 L258.90,222.94 L259.40,221.11 L259.90,219.35 L260.40,217.72 L260.90,216.26 L261.40,215.03 L261.90,214.08 L262.40,213.44 L262.90,213.13 L263.40,213.16 L263.90,213.54 L264.40,214.25 L264.90,215.26 L265.40,216.54 L265.90,218.03 L266.40,219.69 L266.90,221.47 L267.40,223.31 L267.90,225.16 L268.40,226.98 L268.90,228.72 L269.40,230.35 L269.90,231.85 L270.40,233.21 L270.90,234.41 L271.40,235.46 L271.90,236.36 L272.40,237.12 L272.90,237.75 L273.40,238.26 L273.90,238.68 L274.40,239.01 L274.90,239.26 L275.40,239.46 L275.90,239.61 L276.40,239.78 L276.90,239.93 L277.40,240.05 L277.90,240.16 L278.40,240.26 L278.90,240.35 L279.40,240.43 L279.90,240.51 L280.40,240.59 L280.90,240.66 L281.40,240.73 L281.90,240.80 L282.40,240.87 L282.90,240.94 L283.40,241.00 L283.90,241.07 L284.40,241.14 L284.90,241.21 L285.40,241.28 L285.90,241.34 L286.40,241.41 L286.90,241.48 L287.40,241.55 L287.90,241.61 L288.40,241.68 L288.90,241.75 L289.40,241.82 L289.90,241.89 L290.40,241.95 L290.90,242.01 L291.40,242.07 L291.90,242.13 L292.40,242.19 L292.90,242.25 L293.40,242.31 L293.90,242.37 L294.40,242.43 L294.90,242.49 L295.40,242.55 L295.90,242.61 L296.40,242.67 L296.90,242.73 L297.40,242.79 L297.90,242.85 L298.40,242.91 L298.90,242.97 L299.40,243.03 L299.90,243.09 L300.40,243.15 L300.90,243.21 L301.40,243.27 L301.90,243.33 L302.40,243.39 L302.90,243.45 L303.40,243.51 L303.90,243.57 L304.40,243.63 L304.90,243.69 L305.40,243.75 L305.90,243.81 L306.40,243.87 L306.90,243.93 L307.40,243.99 L307.90,244.05 L308.40,244.11 L308.90,244.17 L309.40,244.23 L309.90,244.29 L310.40,244.34 L310.90,244.40 L311.40,244.45 L311.90,244.50 L312.40,244.56 L312.90,244.61 L313.40,244.66 L313.90,244.72 L314.40,244.77 L314.90,244.82 L315.40,244.88 L315.90,244.93 L316.40,244.98 L316.90,245.04 L317.40,245.09 L317.90,245.14 L318.40,245.20 L318.90,245.25 L319.40,245.30 L319.90,245.35 L320.40,245.41 L320.90,245.46 L321.40,245.51 L321.90,245.55 L322.40,245.60 L322.90,245.63 L323.40,245.66 L323.90,245.68 L324.40,245.68 L324.90,245.65 L325.40,245.59 L325.90,245.47 L326.40,245.30 L326.90,245.04 L327.40,244.69 L327.90,244.20 L328.40,243.56 L328.90,242.72 L329.40,241.66 L329.90,240.33 L330.40,238.71 L330.90,236.76 L331.40,234.47 L331.90,231.82 L332.40,228.82 L332.90,225.48 L333.40,221.86 L333.90,218.01 L334.40,214.02 L334.90,209.98 L335.40,206.02 L335.90,202.25 L336.40,198.81 L336.90,195.84 L337.40,193.43 L337.90,191.70 L338.40,190.72 L338.90,190.52 L339.40,191.12 L339.90,192.50 L340.40,194.57 L340.90,197.26 L341.40,200.48 L341.90,204.11 L342.40,208.02 L342.90,212.08 L343.40,216.16 L343.90,220.16 L344.40,223.97 L344.90,227.53 L345.40,230.79 L345.90,233.70 L346.40,236.25 L346.90,238.45 L347.40,240.31 L347.90,241.86 L348.40,243.13 L348.90,244.14 L349.40,244.95 L349.90,245.57 L350.40,246.05 L350.90,246.41 L351.40,246.68 L351.90,246.88 L352.40,247.02 L352.90,247.12 L353.40,247.19 L353.90,247.24 L354.40,247.28 L354.90,247.31 L355.40,247.32 L355.90,247.34 L356.40,247.35 L356.90,247.36 L357.40,247.36 L357.90,247.37 L358.40,247.37 L358.90,247.38 L359.40,247.38 L359.90,247.39 L360.40,247.39 L360.90,247.40" fill="none" stroke="#cdd8b8" stroke-width="2.6" stroke-linejoin="round" opacity="0.3"/>
<path d="M231.65,239.54a1.35,1.35 0 1,0 2.7,0a1.35,1.35 0 1,0 -2.7,0M233.75,239.58a1.35,1.35 0 1,0 2.7,0a1.35,1.35 0 1,0 -2.7,0M235.85,239.63a1.35,1.35 0 1,0 2.7,0a1.35,1.35 0 1,0 -2.7,0M237.95,239.67a1.35,1.35 0 1,0 2.7,0a1.35,1.35 0 1,0 -2.7,0M240.05,239.71a1.35,1.35 0 1,0 2.7,0a1.35,1.35 0 1,0 -2.7,0M242.15,239.75a1.35,1.35 0 1,0 2.7,0a1.35,1.35 0 1,0 -2.7,0M244.25,239.78a1.35,1.35 0 1,0 2.7,0a1.35,1.35 0 1,0 -2.7,0M246.35,239.77a1.35,1.35 0 1,0 2.7,0a1.35,1.35 0 1,0 -2.7,0M248.44,239.60a1.35,1.35 0 1,0 2.7,0a1.35,1.35 0 1,0 -2.7,0M250.42,238.93a1.35,1.35 0 1,0 2.7,0a1.35,1.35 0 1,0 -2.7,0M252.03,237.60a1.35,1.35 0 1,0 2.7,0a1.35,1.35 0 1,0 -2.7,0M253.21,235.87a1.35,1.35 0 1,0 2.7,0a1.35,1.35 0 1,0 -2.7,0M254.13,233.98a1.35,1.35 0 1,0 2.7,0a1.35,1.35 0 1,0 -2.7,0M254.88,232.02a1.35,1.35 0 1,0 2.7,0a1.35,1.35 0 1,0 -2.7,0M255.55,230.03a1.35,1.35 0 1,0 2.7,0a1.35,1.35 0 1,0 -2.7,0M256.15,228.02a1.35,1.35 0 1,0 2.7,0a1.35,1.35 0 1,0 -2.7,0M256.72,226.00a1.35,1.35 0 1,0 2.7,0a1.35,1.35 0 1,0 -2.7,0M257.27,223.97a1.35,1.35 0 1,0 2.7,0a1.35,1.35 0 1,0 -2.7,0M257.82,221.95a1.35,1.35 0 1,0 2.7,0a1.35,1.35 0 1,0 -2.7,0M258.39,219.92a1.35,1.35 0 1,0 2.7,0a1.35,1.35 0 1,0 -2.7,0M258.99,217.91a1.35,1.35 0 1,0 2.7,0a1.35,1.35 0 1,0 -2.7,0M259.68,215.93a1.35,1.35 0 1,0 2.7,0a1.35,1.35 0 1,0 -2.7,0M260.58,214.04a1.35,1.35 0 1,0 2.7,0a1.35,1.35 0 1,0 -2.7,0M262.25,213.31a1.35,1.35 0 1,0 2.7,0a1.35,1.35 0 1,0 -2.7,0M263.43,215.02a1.35,1.35 0 1,0 2.7,0a1.35,1.35 0 1,0 -2.7,0M264.20,216.97a1.35,1.35 0 1,0 2.7,0a1.35,1.35 0 1,0 -2.7,0M264.83,218.97a1.35,1.35 0 1,0 2.7,0a1.35,1.35 0 1,0 -2.7,0M265.41,220.99a1.35,1.35 0 1,0 2.7,0a1.35,1.35 0 1,0 -2.7,0M265.97,223.01a1.35,1.35 0 1,0 2.7,0a1.35,1.35 0 1,0 -2.7,0M266.52,225.04a1.35,1.35 0 1,0 2.7,0a1.35,1.35 0 1,0 -2.7,0M267.08,227.07a1.35,1.35 0 1,0 2.7,0a1.35,1.35 0 1,0 -2.7,0M267.66,229.08a1.35,1.35 0 1,0 2.7,0a1.35,1.35 0 1,0 -2.7,0M268.29,231.08a1.35,1.35 0 1,0 2.7,0a1.35,1.35 0 1,0 -2.7,0M269.00,233.06a1.35,1.35 0 1,0 2.7,0a1.35,1.35 0 1,0 -2.7,0M269.83,234.99a1.35,1.35 0 1,0 2.7,0a1.35,1.35 0 1,0 -2.7,0M270.85,236.82a1.35,1.35 0 1,0 2.7,0a1.35,1.35 0 1,0 -2.7,0M272.22,238.40a1.35,1.35 0 1,0 2.7,0a1.35,1.35 0 1,0 -2.7,0M274.03,239.45a1.35,1.35 0 1,0 2.7,0a1.35,1.35 0 1,0 -2.7,0M276.04,240.05a1.35,1.35 0 1,0 2.7,0a1.35,1.35 0 1,0 -2.7,0M278.10,240.44a1.35,1.35 0 1,0 2.7,0a1.35,1.35 0 1,0 -2.7,0M280.18,240.75a1.35,1.35 0 1,0 2.7,0a1.35,1.35 0 1,0 -2.7,0M282.26,241.03a1.35,1.35 0 1,0 2.7,0a1.35,1.35 0 1,0 -2.7,0M284.34,241.32a1.35,1.35 0 1,0 2.7,0a1.35,1.35 0 1,0 -2.7,0M286.42,241.60a1.35,1.35 0 1,0 2.7,0a1.35,1.35 0 1,0 -2.7,0M288.50,241.88a1.35,1.35 0 1,0 2.7,0a1.35,1.35 0 1,0 -2.7,0M290.59,242.13a1.35,1.35 0 1,0 2.7,0a1.35,1.35 0 1,0 -2.7,0M292.67,242.38a1.35,1.35 0 1,0 2.7,0a1.35,1.35 0 1,0 -2.7,0M294.76,242.63a1.35,1.35 0 1,0 2.7,0a1.35,1.35 0 1,0 -2.7,0M296.84,242.88a1.35,1.35 0 1,0 2.7,0a1.35,1.35 0 1,0 -2.7,0M298.93,243.13a1.35,1.35 0 1,0 2.7,0a1.35,1.35 0 1,0 -2.7,0M301.01,243.38a1.35,1.35 0 1,0 2.7,0a1.35,1.35 0 1,0 -2.7,0M303.10,243.63a1.35,1.35 0 1,0 2.7,0a1.35,1.35 0 1,0 -2.7,0M305.18,243.88a1.35,1.35 0 1,0 2.7,0a1.35,1.35 0 1,0 -2.7,0M307.27,244.13a1.35,1.35 0 1,0 2.7,0a1.35,1.35 0 1,0 -2.7,0M309.35,244.37a1.35,1.35 0 1,0 2.7,0a1.35,1.35 0 1,0 -2.7,0M311.44,244.60a1.35,1.35 0 1,0 2.7,0a1.35,1.35 0 1,0 -2.7,0M313.53,244.82a1.35,1.35 0 1,0 2.7,0a1.35,1.35 0 1,0 -2.7,0M315.62,245.04a1.35,1.35 0 1,0 2.7,0a1.35,1.35 0 1,0 -2.7,0M317.71,245.27a1.35,1.35 0 1,0 2.7,0a1.35,1.35 0 1,0 -2.7,0M319.79,245.48a1.35,1.35 0 1,0 2.7,0a1.35,1.35 0 1,0 -2.7,0M321.89,245.65a1.35,1.35 0 1,0 2.7,0a1.35,1.35 0 1,0 -2.7,0M323.98,245.59a1.35,1.35 0 1,0 2.7,0a1.35,1.35 0 1,0 -2.7,0M325.90,244.79a1.35,1.35 0 1,0 2.7,0a1.35,1.35 0 1,0 -2.7,0M327.26,243.21a1.35,1.35 0 1,0 2.7,0a1.35,1.35 0 1,0 -2.7,0M328.17,241.33a1.35,1.35 0 1,0 2.7,0a1.35,1.35 0 1,0 -2.7,0M328.85,239.34a1.35,1.35 0 1,0 2.7,0a1.35,1.35 0 1,0 -2.7,0M329.41,237.32a1.35,1.35 0 1,0 2.7,0a1.35,1.35 0 1,0 -2.7,0M329.88,235.27a1.35,1.35 0 1,0 2.7,0a1.35,1.35 0 1,0 -2.7,0M330.29,233.21a1.35,1.35 0 1,0 2.7,0a1.35,1.35 0 1,0 -2.7,0M330.66,231.14a1.35,1.35 0 1,0 2.7,0a1.35,1.35 0 1,0 -2.7,0M331.01,229.07a1.35,1.35 0 1,0 2.7,0a1.35,1.35 0 1,0 -2.7,0M331.32,227.00a1.35,1.35 0 1,0 2.7,0a1.35,1.35 0 1,0 -2.7,0M331.63,224.92a1.35,1.35 0 1,0 2.7,0a1.35,1.35 0 1,0 -2.7,0M331.92,222.84a1.35,1.35 0 1,0 2.7,0a1.35,1.35 0 1,0 -2.7,0M332.19,220.76a1.35,1.35 0 1,0 2.7,0a1.35,1.35 0 1,0 -2.7,0M332.46,218.67a1.35,1.35 0 1,0 2.7,0a1.35,1.35 0 1,0 -2.7,0M332.73,216.59a1.35,1.35 0 1,0 2.7,0a1.35,1.35 0 1,0 -2.7,0M332.99,214.51a1.35,1.35 0 1,0 2.7,0a1.35,1.35 0 1,0 -2.7,0M333.25,212.42a1.35,1.35 0 1,0 2.7,0a1.35,1.35 0 1,0 -2.7,0M333.51,210.34a1.35,1.35 0 1,0 2.7,0a1.35,1.35 0 1,0 -2.7,0M333.77,208.26a1.35,1.35 0 1,0 2.7,0a1.35,1.35 0 1,0 -2.7,0M334.03,206.17a1.35,1.35 0 1,0 2.7,0a1.35,1.35 0 1,0 -2.7,0M334.31,204.09a1.35,1.35 0 1,0 2.7,0a1.35,1.35 0 1,0 -2.7,0M334.59,202.01a1.35,1.35 0 1,0 2.7,0a1.35,1.35 0 1,0 -2.7,0M334.89,199.93a1.35,1.35 0 1,0 2.7,0a1.35,1.35 0 1,0 -2.7,0M335.21,197.86a1.35,1.35 0 1,0 2.7,0a1.35,1.35 0 1,0 -2.7,0M335.56,195.79a1.35,1.35 0 1,0 2.7,0a1.35,1.35 0 1,0 -2.7,0M335.99,193.73a1.35,1.35 0 1,0 2.7,0a1.35,1.35 0 1,0 -2.7,0M336.55,191.71a1.35,1.35 0 1,0 2.7,0a1.35,1.35 0 1,0 -2.7,0M337.84,190.87a1.35,1.35 0 1,0 2.7,0a1.35,1.35 0 1,0 -2.7,0M338.62,192.80a1.35,1.35 0 1,0 2.7,0a1.35,1.35 0 1,0 -2.7,0M339.10,194.84a1.35,1.35 0 1,0 2.7,0a1.35,1.35 0 1,0 -2.7,0M339.48,196.91a1.35,1.35 0 1,0 2.7,0a1.35,1.35 0 1,0 -2.7,0M339.82,198.98a1.35,1.35 0 1,0 2.7,0a1.35,1.35 0 1,0 -2.7,0M340.13,201.06a1.35,1.35 0 1,0 2.7,0a1.35,1.35 0 1,0 -2.7,0M340.42,203.14a1.35,1.35 0 1,0 2.7,0a1.35,1.35 0 1,0 -2.7,0M340.69,205.22a1.35,1.35 0 1,0 2.7,0a1.35,1.35 0 1,0 -2.7,0M340.96,207.30a1.35,1.35 0 1,0 2.7,0a1.35,1.35 0 1,0 -2.7,0M341.22,209.39a1.35,1.35 0 1,0 2.7,0a1.35,1.35 0 1,0 -2.7,0M341.47,211.47a1.35,1.35 0 1,0 2.7,0a1.35,1.35 0 1,0 -2.7,0M341.73,213.55a1.35,1.35 0 1,0 2.7,0a1.35,1.35 0 1,0 -2.7,0M341.99,215.64a1.35,1.35 0 1,0 2.7,0a1.35,1.35 0 1,0 -2.7,0M342.25,217.72a1.35,1.35 0 1,0 2.7,0a1.35,1.35 0 1,0 -2.7,0M342.51,219.81a1.35,1.35 0 1,0 2.7,0a1.35,1.35 0 1,0 -2.7,0M342.78,221.89a1.35,1.35 0 1,0 2.7,0a1.35,1.35 0 1,0 -2.7,0M343.05,223.97a1.35,1.35 0 1,0 2.7,0a1.35,1.35 0 1,0 -2.7,0M343.34,226.05a1.35,1.35 0 1,0 2.7,0a1.35,1.35 0 1,0 -2.7,0M343.64,228.13a1.35,1.35 0 1,0 2.7,0a1.35,1.35 0 1,0 -2.7,0M343.96,230.20a1.35,1.35 0 1,0 2.7,0a1.35,1.35 0 1,0 -2.7,0M344.31,232.28a1.35,1.35 0 1,0 2.7,0a1.35,1.35 0 1,0 -2.7,0M344.68,234.34a1.35,1.35 0 1,0 2.7,0a1.35,1.35 0 1,0 -2.7,0M345.08,236.40a1.35,1.35 0 1,0 2.7,0a1.35,1.35 0 1,0 -2.7,0M345.55,238.45a1.35,1.35 0 1,0 2.7,0a1.35,1.35 0 1,0 -2.7,0M346.10,240.48a1.35,1.35 0 1,0 2.7,0a1.35,1.35 0 1,0 -2.7,0M346.79,242.46a1.35,1.35 0 1,0 2.7,0a1.35,1.35 0 1,0 -2.7,0M347.68,244.36a1.35,1.35 0 1,0 2.7,0a1.35,1.35 0 1,0 -2.7,0M348.99,245.99a1.35,1.35 0 1,0 2.7,0a1.35,1.35 0 1,0 -2.7,0M350.83,246.96a1.35,1.35 0 1,0 2.7,0a1.35,1.35 0 1,0 -2.7,0M352.90,247.27a1.35,1.35 0 1,0 2.7,0a1.35,1.35 0 1,0 -2.7,0M355.00,247.35a1.35,1.35 0 1,0 2.7,0a1.35,1.35 0 1,0 -2.7,0M357.10,247.37a1.35,1.35 0 1,0 2.7,0a1.35,1.35 0 1,0 -2.7,0M359.20,247.40a1.35,1.35 0 1,0 2.7,0a1.35,1.35 0 1,0 -2.7,0" fill="#ffffff" fill-opacity="0.7" stroke="#b4c295" stroke-width="0.65" opacity="0.95"/>
<path d="M250.9,318.09 L251.4,318.05 L251.9,317.97 L252.4,317.85 L252.9,317.68 L253.4,317.44 L253.9,317.12 L254.4,316.70 L254.9,316.15 L255.4,315.45 L255.9,314.60 L256.4,313.58 L256.9,312.39 L257.4,311.05 L257.9,309.58 L258.4,308.03 L258.9,306.43 L259.4,304.87 L259.9,303.40 L260.4,302.10 L260.9,301.05 L261.4,300.30 L261.9,299.90 L262.4,299.87 L262.9,300.21 L263.4,300.90 L263.9,301.91 L264.4,303.18 L264.9,304.63 L265.4,306.19 L265.9,307.80 L266.4,309.38 L266.9,310.88 L267.4,312.26 L267.9,313.49 L268.4,314.56 L268.9,315.45 L269.4,316.19 L269.9,316.78 L270.4,317.24 L270.9,317.60 L271.4,317.86 L271.9,318.05 L272.4,318.19 L272.9,318.29 L273.4,318.36 L273.4,318.47 L272.9,318.46 L272.4,318.46 L271.9,318.45 L271.4,318.44 L270.9,318.44 L270.4,318.43 L269.9,318.43 L269.4,318.42 L268.9,318.41 L268.4,318.41 L267.9,318.40 L267.4,318.40 L266.9,318.39 L266.4,318.38 L265.9,318.38 L265.4,318.37 L264.9,318.37 L264.4,318.36 L263.9,318.35 L263.4,318.35 L262.9,318.34 L262.4,318.34 L261.9,318.33 L261.4,318.32 L260.9,318.32 L260.4,318.31 L259.9,318.31 L259.4,318.30 L258.9,318.29 L258.4,318.29 L257.9,318.28 L257.4,318.28 L256.9,318.27 L256.4,318.26 L255.9,318.26 L255.4,318.25 L254.9,318.25 L254.4,318.24 L253.9,318.23 L253.4,318.23 L252.9,318.22 L252.4,318.22 L251.9,318.21 L251.4,318.20 L250.9,318.20 Z" fill="url(#gL)" fill-opacity="0.85"/>
<path d="M257.4,318.22 L257.9,318.18 L258.4,318.11 L258.9,318.01 L259.4,317.84 L259.9,317.61 L260.4,317.28 L260.9,316.84 L261.4,316.27 L261.9,315.57 L262.4,314.74 L262.9,313.80 L263.4,312.79 L263.9,311.78 L264.4,310.81 L264.9,309.98 L265.4,309.35 L265.9,308.98 L266.4,308.89 L266.9,309.11 L267.4,309.60 L267.9,310.33 L268.4,311.24 L268.9,312.24 L269.4,313.27 L269.9,314.27 L270.4,315.18 L270.9,315.97 L271.4,316.64 L271.9,317.17 L272.4,317.57 L272.9,317.87 L273.4,318.09 L273.9,318.24 L274.4,318.34 L274.9,318.40 L275.4,318.44 L275.4,318.49 L274.9,318.49 L274.4,318.48 L273.9,318.47 L273.4,318.47 L272.9,318.46 L272.4,318.46 L271.9,318.45 L271.4,318.44 L270.9,318.44 L270.4,318.43 L269.9,318.43 L269.4,318.42 L268.9,318.41 L268.4,318.41 L267.9,318.40 L267.4,318.40 L266.9,318.39 L266.4,318.38 L265.9,318.38 L265.4,318.37 L264.9,318.37 L264.4,318.36 L263.9,318.35 L263.4,318.35 L262.9,318.34 L262.4,318.34 L261.9,318.33 L261.4,318.32 L260.9,318.32 L260.4,318.31 L259.9,318.31 L259.4,318.30 L258.9,318.29 L258.4,318.29 L257.9,318.28 L257.4,318.28 Z" fill="url(#gZ)" fill-opacity="0.85"/>
<path d="M325.4,324.14 L325.9,324.05 L326.4,323.90 L326.9,323.68 L327.4,323.36 L327.9,322.92 L328.4,322.33 L328.9,321.55 L329.4,320.56 L329.9,319.31 L330.4,317.78 L330.9,315.95 L331.4,313.82 L331.9,311.38 L332.4,308.67 L332.9,305.74 L333.4,302.65 L333.9,299.51 L334.4,296.40 L334.9,293.47 L335.4,290.82 L335.9,288.59 L336.4,286.87 L336.9,285.75 L337.4,285.29 L337.9,285.52 L338.4,286.43 L338.9,287.96 L339.4,290.05 L339.9,292.60 L340.4,295.48 L340.9,298.58 L341.4,301.77 L341.9,304.94 L342.4,307.99 L342.9,310.84 L343.4,313.44 L343.9,315.75 L344.4,317.76 L344.9,319.46 L345.4,320.88 L345.9,322.03 L346.4,322.95 L346.9,323.67 L347.4,324.22 L347.9,324.64 L348.4,324.95 L348.9,325.19 L349.4,325.36 L349.9,325.48 L349.9,325.68 L349.4,325.65 L348.9,325.63 L348.4,325.60 L347.9,325.58 L347.4,325.56 L346.9,325.53 L346.4,325.51 L345.9,325.49 L345.4,325.46 L344.9,325.44 L344.4,325.41 L343.9,325.39 L343.4,325.37 L342.9,325.34 L342.4,325.32 L341.9,325.30 L341.4,325.27 L340.9,325.25 L340.4,325.22 L339.9,325.20 L339.4,325.18 L338.9,325.15 L338.4,325.13 L337.9,325.10 L337.4,325.08 L336.9,325.06 L336.4,325.03 L335.9,325.01 L335.4,324.99 L334.9,324.96 L334.4,324.94 L333.9,324.91 L333.4,324.89 L332.9,324.87 L332.4,324.84 L331.9,324.82 L331.4,324.79 L330.9,324.76 L330.4,324.73 L329.9,324.69 L329.4,324.66 L328.9,324.63 L328.4,324.59 L327.9,324.56 L327.4,324.53 L326.9,324.49 L326.4,324.46 L325.9,324.43 L325.4,324.39 Z" fill="url(#gL)" fill-opacity="0.85"/>
<path d="M332.4,324.71 L332.9,324.65 L333.4,324.54 L333.9,324.36 L334.4,324.09 L334.9,323.69 L335.4,323.13 L335.9,322.38 L336.4,321.42 L336.9,320.22 L337.4,318.78 L337.9,317.13 L338.4,315.31 L338.9,313.39 L339.4,311.47 L339.9,309.67 L340.4,308.10 L340.9,306.90 L341.4,306.14 L341.9,305.90 L342.4,306.19 L342.9,306.99 L343.4,308.25 L343.9,309.86 L344.4,311.71 L344.9,313.67 L345.4,315.64 L345.9,317.51 L346.4,319.21 L346.9,320.70 L347.4,321.94 L347.9,322.96 L348.4,323.75 L348.9,324.35 L349.4,324.80 L349.9,325.12 L350.4,325.35 L350.9,325.51 L351.4,325.62 L351.4,325.75 L350.9,325.72 L350.4,325.70 L349.9,325.68 L349.4,325.65 L348.9,325.63 L348.4,325.60 L347.9,325.58 L347.4,325.56 L346.9,325.53 L346.4,325.51 L345.9,325.49 L345.4,325.46 L344.9,325.44 L344.4,325.41 L343.9,325.39 L343.4,325.37 L342.9,325.34 L342.4,325.32 L341.9,325.30 L341.4,325.27 L340.9,325.25 L340.4,325.22 L339.9,325.20 L339.4,325.18 L338.9,325.15 L338.4,325.13 L337.9,325.10 L337.4,325.08 L336.9,325.06 L336.4,325.03 L335.9,325.01 L335.4,324.99 L334.9,324.96 L334.4,324.94 L333.9,324.91 L333.4,324.89 L332.9,324.87 L332.4,324.84 Z" fill="url(#gZ)" fill-opacity="0.85"/>
<path d="M230.9,317.30 L232.9,317.39 L234.9,317.48 L236.9,317.57 L238.9,317.66 L240.9,317.75 L242.9,317.84 L244.9,317.93 L246.9,318.02 L248.9,318.11 L250.9,318.20 L252.9,318.22 L254.9,318.25 L256.9,318.27 L258.9,318.29 L260.9,318.32 L262.9,318.34 L264.9,318.37 L266.9,318.39 L268.9,318.41 L270.9,318.44 L272.9,318.46 L274.9,318.49 L276.9,318.61 L278.9,318.84 L280.9,319.07 L282.9,319.31 L284.9,319.54 L286.9,319.77 L288.9,320.00 L290.9,320.24 L292.9,320.47 L294.9,320.70 L296.9,320.94 L298.9,321.17 L300.9,321.42 L302.9,321.69 L304.9,321.95 L306.9,322.22 L308.9,322.49 L310.9,322.75 L312.9,323.02 L314.9,323.29 L316.9,323.55 L318.9,323.82 L320.9,324.09 L322.9,324.23 L324.9,324.36 L326.9,324.49 L328.9,324.63 L330.9,324.76 L332.9,324.87 L334.9,324.96 L336.9,325.06 L338.9,325.15 L340.9,325.25 L342.9,325.34 L344.9,325.44 L346.9,325.53 L348.9,325.63 L350.9,325.72 L352.9,325.80 L354.9,325.80 L356.9,325.80 L358.9,325.80 L360.9,325.80" fill="none" stroke="#a8ccee" stroke-width="1"/>
<path d="M230.90,316.10 L231.40,316.12 L231.90,316.14 L232.40,316.17 L232.90,316.19 L233.40,316.21 L233.90,316.23 L234.40,316.26 L234.90,316.28 L235.40,316.30 L235.90,316.32 L236.40,316.35 L236.90,316.37 L237.40,316.39 L237.90,316.41 L238.40,316.44 L238.90,316.46 L239.40,316.48 L239.90,316.50 L240.40,316.53 L240.90,316.55 L241.40,316.57 L241.90,316.59 L242.40,316.61 L242.90,316.64 L243.40,316.66 L243.90,316.68 L244.40,316.70 L244.90,316.73 L245.40,316.75 L245.90,316.77 L246.40,316.79 L246.90,316.81 L247.40,316.83 L247.90,316.85 L248.40,316.87 L248.90,316.88 L249.40,316.89 L249.90,316.89 L250.40,316.88 L250.90,316.85 L251.40,316.79 L251.90,316.69 L252.40,316.54 L252.90,316.33 L253.40,316.05 L253.90,315.68 L254.40,315.18 L254.90,314.55 L255.40,313.77 L255.90,312.81 L256.40,311.67 L256.90,310.34 L257.40,308.83 L257.90,307.17 L258.40,305.38 L258.90,303.52 L259.40,301.65 L259.90,299.83 L260.40,298.15 L260.90,296.69 L261.40,295.50 L261.90,294.66 L262.40,294.21 L262.90,294.18 L263.40,294.56 L263.90,295.33 L264.40,296.46 L264.90,297.89 L265.40,299.55 L265.90,301.36 L266.40,303.23 L266.90,305.11 L267.40,306.93 L267.90,308.64 L268.40,310.19 L268.90,311.57 L269.40,312.76 L269.90,313.76 L270.40,314.59 L270.90,315.27 L271.40,315.80 L271.90,316.21 L272.40,316.52 L272.90,316.75 L273.40,316.92 L273.90,317.04 L274.40,317.13 L274.90,317.19 L275.40,317.23 L275.90,317.26 L276.40,317.32 L276.90,317.39 L277.40,317.45 L277.90,317.52 L278.40,317.58 L278.90,317.64 L279.40,317.70 L279.90,317.75 L280.40,317.81 L280.90,317.87 L281.40,317.93 L281.90,317.99 L282.40,318.05 L282.90,318.10 L283.40,318.16 L283.90,318.22 L284.40,318.28 L284.90,318.34 L285.40,318.40 L285.90,318.45 L286.40,318.51 L286.90,318.57 L287.40,318.63 L287.90,318.69 L288.40,318.75 L288.90,318.80 L289.40,318.86 L289.90,318.92 L290.40,318.98 L290.90,319.04 L291.40,319.10 L291.90,319.15 L292.40,319.21 L292.90,319.27 L293.40,319.33 L293.90,319.39 L294.40,319.45 L294.90,319.50 L295.40,319.56 L295.90,319.62 L296.40,319.68 L296.90,319.74 L297.40,319.80 L297.90,319.86 L298.40,319.91 L298.90,319.97 L299.40,320.03 L299.90,320.09 L300.40,320.15 L300.90,320.22 L301.40,320.29 L301.90,320.35 L302.40,320.42 L302.90,320.49 L303.40,320.55 L303.90,320.62 L304.40,320.69 L304.90,320.75 L305.40,320.82 L305.90,320.89 L306.40,320.95 L306.90,321.02 L307.40,321.09 L307.90,321.15 L308.40,321.22 L308.90,321.29 L309.40,321.35 L309.90,321.42 L310.40,321.49 L310.90,321.55 L311.40,321.62 L311.90,321.69 L312.40,321.75 L312.90,321.82 L313.40,321.89 L313.90,321.95 L314.40,322.02 L314.90,322.09 L315.40,322.15 L315.90,322.22 L316.40,322.29 L316.90,322.35 L317.40,322.42 L317.90,322.49 L318.40,322.55 L318.90,322.62 L319.40,322.68 L319.90,322.75 L320.40,322.81 L320.90,322.88 L321.40,322.91 L321.90,322.93 L322.40,322.95 L322.90,322.96 L323.40,322.96 L323.90,322.95 L324.40,322.91 L324.90,322.85 L325.40,322.75 L325.90,322.60 L326.40,322.38 L326.90,322.07 L327.40,321.66 L327.90,321.12 L328.40,320.42 L328.90,319.54 L329.40,318.44 L329.90,317.10 L330.40,315.49 L330.90,313.60 L331.40,311.41 L331.90,308.92 L332.40,306.14 L332.90,303.11 L333.40,299.86 L333.90,296.48 L334.40,293.02 L334.90,289.58 L335.40,286.26 L335.90,283.17 L336.40,280.41 L336.90,278.08 L337.40,276.27 L337.90,275.06 L338.40,274.48 L338.90,274.57 L339.40,275.33 L339.90,276.71 L340.40,278.68 L340.90,281.15 L341.40,284.03 L341.90,287.22 L342.40,290.62 L342.90,294.12 L343.40,297.62 L343.90,301.03 L344.40,304.28 L344.90,307.31 L345.40,310.09 L345.90,312.57 L346.40,314.76 L346.90,316.65 L347.40,318.26 L347.90,319.61 L348.40,320.72 L348.90,321.62 L349.40,322.34 L349.90,322.91 L350.40,323.35 L350.90,323.70 L351.40,323.96 L351.90,324.16 L352.40,324.31 L352.90,324.40 L353.40,324.47 L353.90,324.51 L354.40,324.54 L354.90,324.56 L355.40,324.58 L355.90,324.58 L356.40,324.59 L356.90,324.59 L357.40,324.60 L357.90,324.60 L358.40,324.60 L358.90,324.60 L359.40,324.60 L359.90,324.60 L360.40,324.60 L360.90,324.60" fill="none" stroke="#cdd8b8" stroke-width="2.6" stroke-linejoin="round" opacity="0.3"/>
<path d="M231.65,316.19a1.35,1.35 0 1,0 2.7,0a1.35,1.35 0 1,0 -2.7,0M233.75,316.29a1.35,1.35 0 1,0 2.7,0a1.35,1.35 0 1,0 -2.7,0M235.84,316.38a1.35,1.35 0 1,0 2.7,0a1.35,1.35 0 1,0 -2.7,0M237.94,316.48a1.35,1.35 0 1,0 2.7,0a1.35,1.35 0 1,0 -2.7,0M240.04,316.57a1.35,1.35 0 1,0 2.7,0a1.35,1.35 0 1,0 -2.7,0M242.14,316.66a1.35,1.35 0 1,0 2.7,0a1.35,1.35 0 1,0 -2.7,0M244.24,316.76a1.35,1.35 0 1,0 2.7,0a1.35,1.35 0 1,0 -2.7,0M246.33,316.85a1.35,1.35 0 1,0 2.7,0a1.35,1.35 0 1,0 -2.7,0M248.43,316.89a1.35,1.35 0 1,0 2.7,0a1.35,1.35 0 1,0 -2.7,0M250.52,316.69a1.35,1.35 0 1,0 2.7,0a1.35,1.35 0 1,0 -2.7,0M252.39,315.79a1.35,1.35 0 1,0 2.7,0a1.35,1.35 0 1,0 -2.7,0M253.77,314.22a1.35,1.35 0 1,0 2.7,0a1.35,1.35 0 1,0 -2.7,0M254.75,312.36a1.35,1.35 0 1,0 2.7,0a1.35,1.35 0 1,0 -2.7,0M255.52,310.41a1.35,1.35 0 1,0 2.7,0a1.35,1.35 0 1,0 -2.7,0M256.17,308.42a1.35,1.35 0 1,0 2.7,0a1.35,1.35 0 1,0 -2.7,0M256.76,306.40a1.35,1.35 0 1,0 2.7,0a1.35,1.35 0 1,0 -2.7,0M257.32,304.38a1.35,1.35 0 1,0 2.7,0a1.35,1.35 0 1,0 -2.7,0M257.86,302.35a1.35,1.35 0 1,0 2.7,0a1.35,1.35 0 1,0 -2.7,0M258.42,300.32a1.35,1.35 0 1,0 2.7,0a1.35,1.35 0 1,0 -2.7,0M259.00,298.31a1.35,1.35 0 1,0 2.7,0a1.35,1.35 0 1,0 -2.7,0M259.70,296.33a1.35,1.35 0 1,0 2.7,0a1.35,1.35 0 1,0 -2.7,0M260.72,294.51a1.35,1.35 0 1,0 2.7,0a1.35,1.35 0 1,0 -2.7,0M262.33,295.00a1.35,1.35 0 1,0 2.7,0a1.35,1.35 0 1,0 -2.7,0M263.20,296.90a1.35,1.35 0 1,0 2.7,0a1.35,1.35 0 1,0 -2.7,0M263.85,298.90a1.35,1.35 0 1,0 2.7,0a1.35,1.35 0 1,0 -2.7,0M264.43,300.92a1.35,1.35 0 1,0 2.7,0a1.35,1.35 0 1,0 -2.7,0M264.97,302.95a1.35,1.35 0 1,0 2.7,0a1.35,1.35 0 1,0 -2.7,0M265.51,304.98a1.35,1.35 0 1,0 2.7,0a1.35,1.35 0 1,0 -2.7,0M266.07,307.00a1.35,1.35 0 1,0 2.7,0a1.35,1.35 0 1,0 -2.7,0M266.67,309.01a1.35,1.35 0 1,0 2.7,0a1.35,1.35 0 1,0 -2.7,0M267.35,311.00a1.35,1.35 0 1,0 2.7,0a1.35,1.35 0 1,0 -2.7,0M268.14,312.94a1.35,1.35 0 1,0 2.7,0a1.35,1.35 0 1,0 -2.7,0M269.18,314.77a1.35,1.35 0 1,0 2.7,0a1.35,1.35 0 1,0 -2.7,0M270.64,316.26a1.35,1.35 0 1,0 2.7,0a1.35,1.35 0 1,0 -2.7,0M272.57,317.04a1.35,1.35 0 1,0 2.7,0a1.35,1.35 0 1,0 -2.7,0M274.66,317.27a1.35,1.35 0 1,0 2.7,0a1.35,1.35 0 1,0 -2.7,0M276.74,317.54a1.35,1.35 0 1,0 2.7,0a1.35,1.35 0 1,0 -2.7,0M278.82,317.79a1.35,1.35 0 1,0 2.7,0a1.35,1.35 0 1,0 -2.7,0M280.91,318.03a1.35,1.35 0 1,0 2.7,0a1.35,1.35 0 1,0 -2.7,0M283.00,318.27a1.35,1.35 0 1,0 2.7,0a1.35,1.35 0 1,0 -2.7,0M285.08,318.52a1.35,1.35 0 1,0 2.7,0a1.35,1.35 0 1,0 -2.7,0M287.17,318.76a1.35,1.35 0 1,0 2.7,0a1.35,1.35 0 1,0 -2.7,0M289.25,319.00a1.35,1.35 0 1,0 2.7,0a1.35,1.35 0 1,0 -2.7,0M291.34,319.25a1.35,1.35 0 1,0 2.7,0a1.35,1.35 0 1,0 -2.7,0M293.43,319.49a1.35,1.35 0 1,0 2.7,0a1.35,1.35 0 1,0 -2.7,0M295.51,319.73a1.35,1.35 0 1,0 2.7,0a1.35,1.35 0 1,0 -2.7,0M297.60,319.98a1.35,1.35 0 1,0 2.7,0a1.35,1.35 0 1,0 -2.7,0M299.68,320.24a1.35,1.35 0 1,0 2.7,0a1.35,1.35 0 1,0 -2.7,0M301.76,320.52a1.35,1.35 0 1,0 2.7,0a1.35,1.35 0 1,0 -2.7,0M303.84,320.79a1.35,1.35 0 1,0 2.7,0a1.35,1.35 0 1,0 -2.7,0M305.93,321.07a1.35,1.35 0 1,0 2.7,0a1.35,1.35 0 1,0 -2.7,0M308.01,321.35a1.35,1.35 0 1,0 2.7,0a1.35,1.35 0 1,0 -2.7,0M310.09,321.63a1.35,1.35 0 1,0 2.7,0a1.35,1.35 0 1,0 -2.7,0M312.17,321.90a1.35,1.35 0 1,0 2.7,0a1.35,1.35 0 1,0 -2.7,0M314.25,322.18a1.35,1.35 0 1,0 2.7,0a1.35,1.35 0 1,0 -2.7,0M316.33,322.46a1.35,1.35 0 1,0 2.7,0a1.35,1.35 0 1,0 -2.7,0M318.42,322.73a1.35,1.35 0 1,0 2.7,0a1.35,1.35 0 1,0 -2.7,0M320.50,322.93a1.35,1.35 0 1,0 2.7,0a1.35,1.35 0 1,0 -2.7,0M322.60,322.95a1.35,1.35 0 1,0 2.7,0a1.35,1.35 0 1,0 -2.7,0M324.66,322.55a1.35,1.35 0 1,0 2.7,0a1.35,1.35 0 1,0 -2.7,0M326.35,321.34a1.35,1.35 0 1,0 2.7,0a1.35,1.35 0 1,0 -2.7,0M327.51,319.60a1.35,1.35 0 1,0 2.7,0a1.35,1.35 0 1,0 -2.7,0M328.34,317.67a1.35,1.35 0 1,0 2.7,0a1.35,1.35 0 1,0 -2.7,0M328.99,315.68a1.35,1.35 0 1,0 2.7,0a1.35,1.35 0 1,0 -2.7,0M329.54,313.65a1.35,1.35 0 1,0 2.7,0a1.35,1.35 0 1,0 -2.7,0M330.01,311.60a1.35,1.35 0 1,0 2.7,0a1.35,1.35 0 1,0 -2.7,0M330.42,309.54a1.35,1.35 0 1,0 2.7,0a1.35,1.35 0 1,0 -2.7,0M330.81,307.48a1.35,1.35 0 1,0 2.7,0a1.35,1.35 0 1,0 -2.7,0M331.17,305.41a1.35,1.35 0 1,0 2.7,0a1.35,1.35 0 1,0 -2.7,0M331.51,303.34a1.35,1.35 0 1,0 2.7,0a1.35,1.35 0 1,0 -2.7,0M331.83,301.26a1.35,1.35 0 1,0 2.7,0a1.35,1.35 0 1,0 -2.7,0M332.15,299.19a1.35,1.35 0 1,0 2.7,0a1.35,1.35 0 1,0 -2.7,0M332.46,297.11a1.35,1.35 0 1,0 2.7,0a1.35,1.35 0 1,0 -2.7,0M332.76,295.03a1.35,1.35 0 1,0 2.7,0a1.35,1.35 0 1,0 -2.7,0M333.06,292.95a1.35,1.35 0 1,0 2.7,0a1.35,1.35 0 1,0 -2.7,0M333.36,290.88a1.35,1.35 0 1,0 2.7,0a1.35,1.35 0 1,0 -2.7,0M333.67,288.80a1.35,1.35 0 1,0 2.7,0a1.35,1.35 0 1,0 -2.7,0M333.98,286.72a1.35,1.35 0 1,0 2.7,0a1.35,1.35 0 1,0 -2.7,0M334.31,284.65a1.35,1.35 0 1,0 2.7,0a1.35,1.35 0 1,0 -2.7,0M334.66,282.58a1.35,1.35 0 1,0 2.7,0a1.35,1.35 0 1,0 -2.7,0M335.03,280.51a1.35,1.35 0 1,0 2.7,0a1.35,1.35 0 1,0 -2.7,0M335.47,278.46a1.35,1.35 0 1,0 2.7,0a1.35,1.35 0 1,0 -2.7,0M336.01,276.43a1.35,1.35 0 1,0 2.7,0a1.35,1.35 0 1,0 -2.7,0M336.96,274.59a1.35,1.35 0 1,0 2.7,0a1.35,1.35 0 1,0 -2.7,0M338.24,275.84a1.35,1.35 0 1,0 2.7,0a1.35,1.35 0 1,0 -2.7,0M338.84,277.85a1.35,1.35 0 1,0 2.7,0a1.35,1.35 0 1,0 -2.7,0M339.30,279.90a1.35,1.35 0 1,0 2.7,0a1.35,1.35 0 1,0 -2.7,0M339.69,281.96a1.35,1.35 0 1,0 2.7,0a1.35,1.35 0 1,0 -2.7,0M340.05,284.03a1.35,1.35 0 1,0 2.7,0a1.35,1.35 0 1,0 -2.7,0M340.38,286.11a1.35,1.35 0 1,0 2.7,0a1.35,1.35 0 1,0 -2.7,0M340.69,288.18a1.35,1.35 0 1,0 2.7,0a1.35,1.35 0 1,0 -2.7,0M341.00,290.26a1.35,1.35 0 1,0 2.7,0a1.35,1.35 0 1,0 -2.7,0M341.30,292.34a1.35,1.35 0 1,0 2.7,0a1.35,1.35 0 1,0 -2.7,0M341.59,294.42a1.35,1.35 0 1,0 2.7,0a1.35,1.35 0 1,0 -2.7,0M341.89,296.50a1.35,1.35 0 1,0 2.7,0a1.35,1.35 0 1,0 -2.7,0M342.19,298.58a1.35,1.35 0 1,0 2.7,0a1.35,1.35 0 1,0 -2.7,0M342.49,300.65a1.35,1.35 0 1,0 2.7,0a1.35,1.35 0 1,0 -2.7,0M342.81,302.73a1.35,1.35 0 1,0 2.7,0a1.35,1.35 0 1,0 -2.7,0M343.14,304.80a1.35,1.35 0 1,0 2.7,0a1.35,1.35 0 1,0 -2.7,0M343.48,306.88a1.35,1.35 0 1,0 2.7,0a1.35,1.35 0 1,0 -2.7,0M343.84,308.94a1.35,1.35 0 1,0 2.7,0a1.35,1.35 0 1,0 -2.7,0M344.24,311.01a1.35,1.35 0 1,0 2.7,0a1.35,1.35 0 1,0 -2.7,0M344.66,313.06a1.35,1.35 0 1,0 2.7,0a1.35,1.35 0 1,0 -2.7,0M345.14,315.11a1.35,1.35 0 1,0 2.7,0a1.35,1.35 0 1,0 -2.7,0M345.70,317.13a1.35,1.35 0 1,0 2.7,0a1.35,1.35 0 1,0 -2.7,0M346.37,319.12a1.35,1.35 0 1,0 2.7,0a1.35,1.35 0 1,0 -2.7,0M347.23,321.04a1.35,1.35 0 1,0 2.7,0a1.35,1.35 0 1,0 -2.7,0M348.42,322.76a1.35,1.35 0 1,0 2.7,0a1.35,1.35 0 1,0 -2.7,0M350.10,323.98a1.35,1.35 0 1,0 2.7,0a1.35,1.35 0 1,0 -2.7,0M352.13,324.48a1.35,1.35 0 1,0 2.7,0a1.35,1.35 0 1,0 -2.7,0M354.23,324.58a1.35,1.35 0 1,0 2.7,0a1.35,1.35 0 1,0 -2.7,0M356.33,324.60a1.35,1.35 0 1,0 2.7,0a1.35,1.35 0 1,0 -2.7,0M358.43,324.60a1.35,1.35 0 1,0 2.7,0a1.35,1.35 0 1,0 -2.7,0" fill="#ffffff" fill-opacity="0.7" stroke="#b4c295" stroke-width="0.65" opacity="0.95"/>
<path d="M252.4,394.37 L252.9,394.33 L253.4,394.26 L253.9,394.14 L254.4,393.96 L254.9,393.69 L255.4,393.32 L255.9,392.80 L256.4,392.13 L256.9,391.28 L257.4,390.23 L257.9,389.00 L258.4,387.61 L258.9,386.11 L259.4,384.55 L259.9,383.04 L260.4,381.65 L260.9,380.50 L261.4,379.66 L261.9,379.21 L262.4,379.17 L262.9,379.56 L263.4,380.35 L263.9,381.47 L264.4,382.83 L264.9,384.35 L265.4,385.92 L265.9,387.46 L266.4,388.90 L266.9,390.18 L267.4,391.28 L267.9,392.19 L268.4,392.92 L268.9,393.48 L269.4,393.90 L269.9,394.21 L270.4,394.42 L270.9,394.57 L271.4,394.67 L271.9,394.74 L271.9,394.82 L271.4,394.81 L270.9,394.80 L270.4,394.79 L269.9,394.78 L269.4,394.77 L268.9,394.76 L268.4,394.75 L267.9,394.74 L267.4,394.73 L266.9,394.72 L266.4,394.72 L265.9,394.71 L265.4,394.70 L264.9,394.69 L264.4,394.68 L263.9,394.67 L263.4,394.66 L262.9,394.65 L262.4,394.64 L261.9,394.63 L261.4,394.62 L260.9,394.61 L260.4,394.60 L259.9,394.59 L259.4,394.58 L258.9,394.57 L258.4,394.56 L257.9,394.55 L257.4,394.54 L256.9,394.53 L256.4,394.52 L255.9,394.51 L255.4,394.50 L254.9,394.49 L254.4,394.48 L253.9,394.47 L253.4,394.47 L252.9,394.46 L252.4,394.45 Z" fill="url(#gL)" fill-opacity="0.85"/>
<path d="M256.4,394.42 L256.9,394.36 L257.4,394.24 L257.9,394.06 L258.4,393.78 L258.9,393.38 L259.4,392.80 L259.9,392.02 L260.4,391.01 L260.9,389.74 L261.4,388.24 L261.9,386.53 L262.4,384.67 L262.9,382.77 L263.4,380.94 L263.9,379.33 L264.4,378.07 L264.9,377.27 L265.4,377.00 L265.9,377.29 L266.4,378.11 L266.9,379.39 L267.4,381.02 L267.9,382.86 L268.4,384.78 L268.9,386.66 L269.4,388.39 L269.9,389.92 L270.4,391.20 L270.9,392.23 L271.4,393.03 L271.9,393.63 L272.4,394.05 L272.9,394.35 L273.4,394.55 L273.9,394.68 L274.4,394.77 L274.4,394.87 L273.9,394.86 L273.4,394.85 L272.9,394.84 L272.4,394.83 L271.9,394.82 L271.4,394.81 L270.9,394.80 L270.4,394.79 L269.9,394.78 L269.4,394.77 L268.9,394.76 L268.4,394.75 L267.9,394.74 L267.4,394.73 L266.9,394.72 L266.4,394.72 L265.9,394.71 L265.4,394.70 L264.9,394.69 L264.4,394.68 L263.9,394.67 L263.4,394.66 L262.9,394.65 L262.4,394.64 L261.9,394.63 L261.4,394.62 L260.9,394.61 L260.4,394.60 L259.9,394.59 L259.4,394.58 L258.9,394.57 L258.4,394.56 L257.9,394.55 L257.4,394.54 L256.9,394.53 L256.4,394.52 Z" fill="url(#gZ)" fill-opacity="0.85"/>
<path d="M326.9,400.95 L327.4,400.86 L327.9,400.71 L328.4,400.47 L328.9,400.10 L329.4,399.57 L329.9,398.85 L330.4,397.87 L330.9,396.62 L331.4,395.06 L331.9,393.16 L332.4,390.94 L332.9,388.42 L333.4,385.67 L333.9,382.77 L334.4,379.84 L334.9,377.04 L335.4,374.50 L335.9,372.38 L336.4,370.82 L336.9,369.92 L337.4,369.75 L337.9,370.32 L338.4,371.59 L338.9,373.49 L339.4,375.90 L339.9,378.66 L340.4,381.61 L340.9,384.61 L341.4,387.54 L341.9,390.28 L342.4,392.75 L342.9,394.92 L343.4,396.75 L343.9,398.26 L344.4,399.47 L344.9,400.41 L345.4,401.13 L345.9,401.66 L346.4,402.04 L346.9,402.32 L347.4,402.51 L347.9,402.64 L347.9,402.83 L347.4,402.81 L346.9,402.79 L346.4,402.77 L345.9,402.75 L345.4,402.73 L344.9,402.70 L344.4,402.68 L343.9,402.66 L343.4,402.64 L342.9,402.62 L342.4,402.60 L341.9,402.58 L341.4,402.56 L340.9,402.54 L340.4,402.52 L339.9,402.49 L339.4,402.44 L338.9,402.39 L338.4,402.34 L337.9,402.29 L337.4,402.24 L336.9,402.19 L336.4,402.14 L335.9,402.08 L335.4,402.03 L334.9,401.98 L334.4,401.93 L333.9,401.88 L333.4,401.83 L332.9,401.78 L332.4,401.73 L331.9,401.68 L331.4,401.63 L330.9,401.58 L330.4,401.53 L329.9,401.48 L329.4,401.43 L328.9,401.38 L328.4,401.32 L327.9,401.27 L327.4,401.22 L326.9,401.17 Z" fill="url(#gL)" fill-opacity="0.85"/>
<path d="M330.9,401.35 L331.4,401.25 L331.9,401.08 L332.4,400.80 L332.9,400.36 L333.4,399.73 L333.9,398.84 L334.4,397.64 L334.9,396.08 L335.4,394.10 L335.9,391.68 L336.4,388.82 L336.9,385.56 L337.4,381.98 L337.9,378.20 L338.4,374.38 L338.9,370.72 L339.4,367.44 L339.9,364.74 L340.4,362.78 L340.9,361.72 L341.4,361.64 L341.9,362.55 L342.4,364.38 L342.9,367.02 L343.4,370.27 L343.9,373.94 L344.4,377.82 L344.9,381.69 L345.4,385.40 L345.9,388.80 L346.4,391.82 L346.9,394.40 L347.4,396.53 L347.9,398.25 L348.4,399.59 L348.9,400.60 L349.4,401.35 L349.9,401.89 L350.4,402.28 L350.9,402.54 L351.4,402.72 L351.4,402.98 L350.9,402.95 L350.4,402.93 L349.9,402.91 L349.4,402.89 L348.9,402.87 L348.4,402.85 L347.9,402.83 L347.4,402.81 L346.9,402.79 L346.4,402.77 L345.9,402.75 L345.4,402.73 L344.9,402.70 L344.4,402.68 L343.9,402.66 L343.4,402.64 L342.9,402.62 L342.4,402.60 L341.9,402.58 L341.4,402.56 L340.9,402.54 L340.4,402.52 L339.9,402.49 L339.4,402.44 L338.9,402.39 L338.4,402.34 L337.9,402.29 L337.4,402.24 L336.9,402.19 L336.4,402.14 L335.9,402.08 L335.4,402.03 L334.9,401.98 L334.4,401.93 L333.9,401.88 L333.4,401.83 L332.9,401.78 L332.4,401.73 L331.9,401.68 L331.4,401.63 L330.9,401.58 Z" fill="url(#gZ)" fill-opacity="0.85"/>
<path d="M230.9,393.80 L232.9,393.86 L234.9,393.93 L236.9,393.99 L238.9,394.05 L240.9,394.11 L242.9,394.18 L244.9,394.24 L246.9,394.30 L248.9,394.37 L250.9,394.42 L252.9,394.46 L254.9,394.49 L256.9,394.53 L258.9,394.57 L260.9,394.61 L262.9,394.65 L264.9,394.69 L266.9,394.72 L268.9,394.76 L270.9,394.80 L272.9,394.84 L274.9,394.88 L276.9,395.03 L278.9,395.33 L280.9,395.63 L282.9,395.94 L284.9,396.24 L286.9,396.53 L288.9,396.83 L290.9,397.16 L292.9,397.52 L294.9,397.88 L296.9,398.24 L298.9,398.60 L300.9,398.90 L302.9,399.11 L304.9,399.32 L306.9,399.54 L308.9,399.75 L310.9,399.97 L312.9,400.18 L314.9,400.40 L316.9,400.60 L318.9,400.70 L320.9,400.80 L322.9,400.89 L324.9,400.99 L326.9,401.17 L328.9,401.38 L330.9,401.58 L332.9,401.78 L334.9,401.98 L336.9,402.19 L338.9,402.39 L340.9,402.54 L342.9,402.62 L344.9,402.70 L346.9,402.79 L348.9,402.87 L350.9,402.95 L352.9,403.02 L354.9,403.06 L356.9,403.11 L358.9,403.15 L360.9,403.20" fill="none" stroke="#a8ccee" stroke-width="1"/>
<path d="M230.90,392.60 L231.40,392.62 L231.90,392.63 L232.40,392.65 L232.90,392.66 L233.40,392.68 L233.90,392.69 L234.40,392.71 L234.90,392.73 L235.40,392.74 L235.90,392.76 L236.40,392.77 L236.90,392.79 L237.40,392.80 L237.90,392.82 L238.40,392.84 L238.90,392.85 L239.40,392.87 L239.90,392.88 L240.40,392.90 L240.90,392.91 L241.40,392.93 L241.90,392.95 L242.40,392.96 L242.90,392.98 L243.40,392.99 L243.90,393.01 L244.40,393.02 L244.90,393.04 L245.40,393.06 L245.90,393.07 L246.40,393.09 L246.90,393.10 L247.40,393.12 L247.90,393.13 L248.40,393.15 L248.90,393.16 L249.40,393.17 L249.90,393.18 L250.40,393.18 L250.90,393.16 L251.40,393.14 L251.90,393.11 L252.40,393.04 L252.90,392.95 L253.40,392.81 L253.90,392.61 L254.40,392.33 L254.90,391.95 L255.40,391.45 L255.90,390.80 L256.40,389.98 L256.90,388.95 L257.40,387.72 L257.90,386.26 L258.40,384.58 L258.90,382.70 L259.40,380.64 L259.90,378.45 L260.40,376.21 L260.90,373.98 L261.40,371.86 L261.90,369.93 L262.40,368.30 L262.90,367.04 L263.40,366.22 L263.90,365.88 L264.40,366.04 L264.90,366.69 L265.40,367.80 L265.90,369.32 L266.40,371.15 L266.90,373.22 L267.40,375.44 L267.90,377.71 L268.40,379.94 L268.90,382.08 L269.40,384.06 L269.90,385.84 L270.40,387.41 L270.90,388.75 L271.40,389.88 L271.90,390.80 L272.40,391.53 L272.90,392.11 L273.40,392.56 L273.90,392.89 L274.40,393.14 L274.90,393.32 L275.40,393.45 L275.90,393.54 L276.40,393.66 L276.90,393.77 L277.40,393.87 L277.90,393.96 L278.40,394.05 L278.90,394.13 L279.40,394.21 L279.90,394.28 L280.40,394.36 L280.90,394.43 L281.40,394.51 L281.90,394.58 L282.40,394.66 L282.90,394.73 L283.40,394.81 L283.90,394.88 L284.40,394.96 L284.90,395.03 L285.40,395.11 L285.90,395.18 L286.40,395.26 L286.90,395.33 L287.40,395.41 L287.90,395.48 L288.40,395.56 L288.90,395.63 L289.40,395.71 L289.90,395.78 L290.40,395.87 L290.90,395.96 L291.40,396.05 L291.90,396.14 L292.40,396.23 L292.90,396.32 L293.40,396.41 L293.90,396.50 L294.40,396.59 L294.90,396.68 L295.40,396.77 L295.90,396.86 L296.40,396.95 L296.90,397.04 L297.40,397.13 L297.90,397.22 L298.40,397.31 L298.90,397.40 L299.40,397.49 L299.90,397.58 L300.40,397.64 L300.90,397.70 L301.40,397.75 L301.90,397.80 L302.40,397.86 L302.90,397.91 L303.40,397.96 L303.90,398.02 L304.40,398.07 L304.90,398.12 L305.40,398.18 L305.90,398.23 L306.40,398.29 L306.90,398.34 L307.40,398.39 L307.90,398.45 L308.40,398.50 L308.90,398.55 L309.40,398.61 L309.90,398.66 L310.40,398.71 L310.90,398.77 L311.40,398.82 L311.90,398.87 L312.40,398.93 L312.90,398.98 L313.40,399.04 L313.90,399.09 L314.40,399.14 L314.90,399.20 L315.40,399.25 L315.90,399.30 L316.40,399.36 L316.90,399.40 L317.40,399.43 L317.90,399.45 L318.40,399.48 L318.90,399.50 L319.40,399.52 L319.90,399.55 L320.40,399.57 L320.90,399.59 L321.40,399.62 L321.90,399.64 L322.40,399.66 L322.90,399.69 L323.40,399.71 L323.90,399.73 L324.40,399.74 L324.90,399.76 L325.40,399.77 L325.90,399.79 L326.40,399.80 L326.90,399.77 L327.40,399.71 L327.90,399.60 L328.40,399.42 L328.90,399.14 L329.40,398.73 L329.90,398.15 L330.40,397.37 L330.90,396.33 L331.40,394.98 L331.90,393.27 L332.40,391.17 L332.90,388.64 L333.40,385.66 L333.90,382.25 L334.40,378.44 L334.90,374.30 L335.40,369.92 L335.90,365.43 L336.40,361.00 L336.90,356.79 L337.40,352.99 L337.90,349.78 L338.40,347.30 L338.90,345.70 L339.40,345.06 L339.90,345.41 L340.40,346.71 L340.90,348.92 L341.40,351.93 L341.90,355.59 L342.40,359.73 L342.90,364.16 L343.40,368.72 L343.90,373.23 L344.40,377.55 L344.90,381.58 L345.40,385.22 L345.90,388.45 L346.40,391.23 L346.90,393.57 L347.40,395.50 L347.90,397.06 L348.40,398.29 L348.90,399.24 L349.40,399.97 L349.90,400.51 L350.40,400.91 L350.90,401.20 L351.40,401.41 L351.90,401.56 L352.40,401.66 L352.90,401.73 L353.40,401.77 L353.90,401.81 L354.40,401.83 L354.90,401.85 L355.40,401.87 L355.90,401.88 L356.40,401.90 L356.90,401.91 L357.40,401.92 L357.90,401.93 L358.40,401.94 L358.90,401.95 L359.40,401.96 L359.90,401.98 L360.40,401.99 L360.90,402.00" fill="none" stroke="#cdd8b8" stroke-width="2.6" stroke-linejoin="round" opacity="0.3"/>
<path d="M231.65,392.67a1.35,1.35 0 1,0 2.7,0a1.35,1.35 0 1,0 -2.7,0M233.75,392.73a1.35,1.35 0 1,0 2.7,0a1.35,1.35 0 1,0 -2.7,0M235.85,392.80a1.35,1.35 0 1,0 2.7,0a1.35,1.35 0 1,0 -2.7,0M237.95,392.86a1.35,1.35 0 1,0 2.7,0a1.35,1.35 0 1,0 -2.7,0M240.04,392.93a1.35,1.35 0 1,0 2.7,0a1.35,1.35 0 1,0 -2.7,0M242.14,393.00a1.35,1.35 0 1,0 2.7,0a1.35,1.35 0 1,0 -2.7,0M244.24,393.06a1.35,1.35 0 1,0 2.7,0a1.35,1.35 0 1,0 -2.7,0M246.34,393.13a1.35,1.35 0 1,0 2.7,0a1.35,1.35 0 1,0 -2.7,0M248.44,393.18a1.35,1.35 0 1,0 2.7,0a1.35,1.35 0 1,0 -2.7,0M250.54,393.11a1.35,1.35 0 1,0 2.7,0a1.35,1.35 0 1,0 -2.7,0M252.57,392.60a1.35,1.35 0 1,0 2.7,0a1.35,1.35 0 1,0 -2.7,0M254.18,391.28a1.35,1.35 0 1,0 2.7,0a1.35,1.35 0 1,0 -2.7,0M255.28,389.50a1.35,1.35 0 1,0 2.7,0a1.35,1.35 0 1,0 -2.7,0M256.10,387.57a1.35,1.35 0 1,0 2.7,0a1.35,1.35 0 1,0 -2.7,0M256.75,385.58a1.35,1.35 0 1,0 2.7,0a1.35,1.35 0 1,0 -2.7,0M257.32,383.55a1.35,1.35 0 1,0 2.7,0a1.35,1.35 0 1,0 -2.7,0M257.84,381.52a1.35,1.35 0 1,0 2.7,0a1.35,1.35 0 1,0 -2.7,0M258.32,379.47a1.35,1.35 0 1,0 2.7,0a1.35,1.35 0 1,0 -2.7,0M258.78,377.43a1.35,1.35 0 1,0 2.7,0a1.35,1.35 0 1,0 -2.7,0M259.24,375.38a1.35,1.35 0 1,0 2.7,0a1.35,1.35 0 1,0 -2.7,0M259.70,373.33a1.35,1.35 0 1,0 2.7,0a1.35,1.35 0 1,0 -2.7,0M260.20,371.29a1.35,1.35 0 1,0 2.7,0a1.35,1.35 0 1,0 -2.7,0M260.76,369.26a1.35,1.35 0 1,0 2.7,0a1.35,1.35 0 1,0 -2.7,0M261.45,367.28a1.35,1.35 0 1,0 2.7,0a1.35,1.35 0 1,0 -2.7,0M262.81,365.96a1.35,1.35 0 1,0 2.7,0a1.35,1.35 0 1,0 -2.7,0M263.97,367.62a1.35,1.35 0 1,0 2.7,0a1.35,1.35 0 1,0 -2.7,0M264.63,369.61a1.35,1.35 0 1,0 2.7,0a1.35,1.35 0 1,0 -2.7,0M265.17,371.64a1.35,1.35 0 1,0 2.7,0a1.35,1.35 0 1,0 -2.7,0M265.65,373.69a1.35,1.35 0 1,0 2.7,0a1.35,1.35 0 1,0 -2.7,0M266.12,375.74a1.35,1.35 0 1,0 2.7,0a1.35,1.35 0 1,0 -2.7,0M266.57,377.79a1.35,1.35 0 1,0 2.7,0a1.35,1.35 0 1,0 -2.7,0M267.03,379.84a1.35,1.35 0 1,0 2.7,0a1.35,1.35 0 1,0 -2.7,0M267.50,381.88a1.35,1.35 0 1,0 2.7,0a1.35,1.35 0 1,0 -2.7,0M268.01,383.92a1.35,1.35 0 1,0 2.7,0a1.35,1.35 0 1,0 -2.7,0M268.58,385.94a1.35,1.35 0 1,0 2.7,0a1.35,1.35 0 1,0 -2.7,0M269.24,387.93a1.35,1.35 0 1,0 2.7,0a1.35,1.35 0 1,0 -2.7,0M270.05,389.87a1.35,1.35 0 1,0 2.7,0a1.35,1.35 0 1,0 -2.7,0M271.15,391.65a1.35,1.35 0 1,0 2.7,0a1.35,1.35 0 1,0 -2.7,0M272.75,392.99a1.35,1.35 0 1,0 2.7,0a1.35,1.35 0 1,0 -2.7,0M274.75,393.59a1.35,1.35 0 1,0 2.7,0a1.35,1.35 0 1,0 -2.7,0M276.81,394.01a1.35,1.35 0 1,0 2.7,0a1.35,1.35 0 1,0 -2.7,0M278.88,394.33a1.35,1.35 0 1,0 2.7,0a1.35,1.35 0 1,0 -2.7,0M280.96,394.65a1.35,1.35 0 1,0 2.7,0a1.35,1.35 0 1,0 -2.7,0M283.04,394.96a1.35,1.35 0 1,0 2.7,0a1.35,1.35 0 1,0 -2.7,0M285.11,395.27a1.35,1.35 0 1,0 2.7,0a1.35,1.35 0 1,0 -2.7,0M287.19,395.58a1.35,1.35 0 1,0 2.7,0a1.35,1.35 0 1,0 -2.7,0M289.26,395.91a1.35,1.35 0 1,0 2.7,0a1.35,1.35 0 1,0 -2.7,0M291.33,396.28a1.35,1.35 0 1,0 2.7,0a1.35,1.35 0 1,0 -2.7,0M293.40,396.65a1.35,1.35 0 1,0 2.7,0a1.35,1.35 0 1,0 -2.7,0M295.46,397.03a1.35,1.35 0 1,0 2.7,0a1.35,1.35 0 1,0 -2.7,0M297.53,397.40a1.35,1.35 0 1,0 2.7,0a1.35,1.35 0 1,0 -2.7,0M299.61,397.70a1.35,1.35 0 1,0 2.7,0a1.35,1.35 0 1,0 -2.7,0M301.70,397.93a1.35,1.35 0 1,0 2.7,0a1.35,1.35 0 1,0 -2.7,0M303.78,398.15a1.35,1.35 0 1,0 2.7,0a1.35,1.35 0 1,0 -2.7,0M305.87,398.37a1.35,1.35 0 1,0 2.7,0a1.35,1.35 0 1,0 -2.7,0M307.96,398.60a1.35,1.35 0 1,0 2.7,0a1.35,1.35 0 1,0 -2.7,0M310.05,398.82a1.35,1.35 0 1,0 2.7,0a1.35,1.35 0 1,0 -2.7,0M312.14,399.04a1.35,1.35 0 1,0 2.7,0a1.35,1.35 0 1,0 -2.7,0M314.22,399.27a1.35,1.35 0 1,0 2.7,0a1.35,1.35 0 1,0 -2.7,0M316.32,399.44a1.35,1.35 0 1,0 2.7,0a1.35,1.35 0 1,0 -2.7,0M318.41,399.54a1.35,1.35 0 1,0 2.7,0a1.35,1.35 0 1,0 -2.7,0M320.51,399.64a1.35,1.35 0 1,0 2.7,0a1.35,1.35 0 1,0 -2.7,0M322.61,399.73a1.35,1.35 0 1,0 2.7,0a1.35,1.35 0 1,0 -2.7,0M324.71,399.79a1.35,1.35 0 1,0 2.7,0a1.35,1.35 0 1,0 -2.7,0M326.78,399.52a1.35,1.35 0 1,0 2.7,0a1.35,1.35 0 1,0 -2.7,0M328.44,398.28a1.35,1.35 0 1,0 2.7,0a1.35,1.35 0 1,0 -2.7,0M329.48,396.47a1.35,1.35 0 1,0 2.7,0a1.35,1.35 0 1,0 -2.7,0M330.19,394.50a1.35,1.35 0 1,0 2.7,0a1.35,1.35 0 1,0 -2.7,0M330.74,392.47a1.35,1.35 0 1,0 2.7,0a1.35,1.35 0 1,0 -2.7,0M331.20,390.42a1.35,1.35 0 1,0 2.7,0a1.35,1.35 0 1,0 -2.7,0M331.60,388.36a1.35,1.35 0 1,0 2.7,0a1.35,1.35 0 1,0 -2.7,0M331.95,386.29a1.35,1.35 0 1,0 2.7,0a1.35,1.35 0 1,0 -2.7,0M332.26,384.21a1.35,1.35 0 1,0 2.7,0a1.35,1.35 0 1,0 -2.7,0M332.57,382.13a1.35,1.35 0 1,0 2.7,0a1.35,1.35 0 1,0 -2.7,0M332.84,380.05a1.35,1.35 0 1,0 2.7,0a1.35,1.35 0 1,0 -2.7,0M333.11,377.97a1.35,1.35 0 1,0 2.7,0a1.35,1.35 0 1,0 -2.7,0M333.36,375.88a1.35,1.35 0 1,0 2.7,0a1.35,1.35 0 1,0 -2.7,0M333.61,373.80a1.35,1.35 0 1,0 2.7,0a1.35,1.35 0 1,0 -2.7,0M333.85,371.71a1.35,1.35 0 1,0 2.7,0a1.35,1.35 0 1,0 -2.7,0M334.08,369.63a1.35,1.35 0 1,0 2.7,0a1.35,1.35 0 1,0 -2.7,0M334.32,367.54a1.35,1.35 0 1,0 2.7,0a1.35,1.35 0 1,0 -2.7,0M334.55,365.45a1.35,1.35 0 1,0 2.7,0a1.35,1.35 0 1,0 -2.7,0M334.78,363.37a1.35,1.35 0 1,0 2.7,0a1.35,1.35 0 1,0 -2.7,0M335.02,361.28a1.35,1.35 0 1,0 2.7,0a1.35,1.35 0 1,0 -2.7,0M335.26,359.19a1.35,1.35 0 1,0 2.7,0a1.35,1.35 0 1,0 -2.7,0M335.51,357.11a1.35,1.35 0 1,0 2.7,0a1.35,1.35 0 1,0 -2.7,0M335.78,355.03a1.35,1.35 0 1,0 2.7,0a1.35,1.35 0 1,0 -2.7,0M336.06,352.94a1.35,1.35 0 1,0 2.7,0a1.35,1.35 0 1,0 -2.7,0M336.38,350.87a1.35,1.35 0 1,0 2.7,0a1.35,1.35 0 1,0 -2.7,0M336.75,348.80a1.35,1.35 0 1,0 2.7,0a1.35,1.35 0 1,0 -2.7,0M337.22,346.76a1.35,1.35 0 1,0 2.7,0a1.35,1.35 0 1,0 -2.7,0M338.20,345.16a1.35,1.35 0 1,0 2.7,0a1.35,1.35 0 1,0 -2.7,0M339.11,346.98a1.35,1.35 0 1,0 2.7,0a1.35,1.35 0 1,0 -2.7,0M339.57,349.03a1.35,1.35 0 1,0 2.7,0a1.35,1.35 0 1,0 -2.7,0M339.91,351.10a1.35,1.35 0 1,0 2.7,0a1.35,1.35 0 1,0 -2.7,0M340.22,353.18a1.35,1.35 0 1,0 2.7,0a1.35,1.35 0 1,0 -2.7,0M340.51,355.26a1.35,1.35 0 1,0 2.7,0a1.35,1.35 0 1,0 -2.7,0M340.76,357.34a1.35,1.35 0 1,0 2.7,0a1.35,1.35 0 1,0 -2.7,0M341.01,359.43a1.35,1.35 0 1,0 2.7,0a1.35,1.35 0 1,0 -2.7,0M341.25,361.51a1.35,1.35 0 1,0 2.7,0a1.35,1.35 0 1,0 -2.7,0M341.49,363.60a1.35,1.35 0 1,0 2.7,0a1.35,1.35 0 1,0 -2.7,0M341.72,365.69a1.35,1.35 0 1,0 2.7,0a1.35,1.35 0 1,0 -2.7,0M341.95,367.78a1.35,1.35 0 1,0 2.7,0a1.35,1.35 0 1,0 -2.7,0M342.18,369.86a1.35,1.35 0 1,0 2.7,0a1.35,1.35 0 1,0 -2.7,0M342.41,371.95a1.35,1.35 0 1,0 2.7,0a1.35,1.35 0 1,0 -2.7,0M342.64,374.04a1.35,1.35 0 1,0 2.7,0a1.35,1.35 0 1,0 -2.7,0M342.88,376.12a1.35,1.35 0 1,0 2.7,0a1.35,1.35 0 1,0 -2.7,0M343.13,378.21a1.35,1.35 0 1,0 2.7,0a1.35,1.35 0 1,0 -2.7,0M343.39,380.29a1.35,1.35 0 1,0 2.7,0a1.35,1.35 0 1,0 -2.7,0M343.66,382.37a1.35,1.35 0 1,0 2.7,0a1.35,1.35 0 1,0 -2.7,0M343.94,384.46a1.35,1.35 0 1,0 2.7,0a1.35,1.35 0 1,0 -2.7,0M344.25,386.53a1.35,1.35 0 1,0 2.7,0a1.35,1.35 0 1,0 -2.7,0M344.58,388.61a1.35,1.35 0 1,0 2.7,0a1.35,1.35 0 1,0 -2.7,0M344.95,390.67a1.35,1.35 0 1,0 2.7,0a1.35,1.35 0 1,0 -2.7,0M345.37,392.73a1.35,1.35 0 1,0 2.7,0a1.35,1.35 0 1,0 -2.7,0M345.86,394.77a1.35,1.35 0 1,0 2.7,0a1.35,1.35 0 1,0 -2.7,0M346.46,396.78a1.35,1.35 0 1,0 2.7,0a1.35,1.35 0 1,0 -2.7,0M347.27,398.72a1.35,1.35 0 1,0 2.7,0a1.35,1.35 0 1,0 -2.7,0M348.47,400.43a1.35,1.35 0 1,0 2.7,0a1.35,1.35 0 1,0 -2.7,0M350.27,401.47a1.35,1.35 0 1,0 2.7,0a1.35,1.35 0 1,0 -2.7,0M352.34,401.79a1.35,1.35 0 1,0 2.7,0a1.35,1.35 0 1,0 -2.7,0M354.44,401.88a1.35,1.35 0 1,0 2.7,0a1.35,1.35 0 1,0 -2.7,0M356.54,401.93a1.35,1.35 0 1,0 2.7,0a1.35,1.35 0 1,0 -2.7,0M358.64,401.98a1.35,1.35 0 1,0 2.7,0a1.35,1.35 0 1,0 -2.7,0" fill="#ffffff" fill-opacity="0.7" stroke="#b4c295" stroke-width="0.65" opacity="0.95"/>
<text x="230.9" y="221.1" font-size="12.7" font-family="Liberation Sans, sans-serif">2p<tspan font-size="8.8" dy="2.9">1/2</tspan></text>
<text x="307.6" y="199.3" font-size="12.7" font-family="Liberation Sans, sans-serif">2p<tspan font-size="8.8" dy="3.5">3/2</tspan></text>
<text x="236.3" y="387.2" font-size="12.4" fill="#b49ad8" font-family="Liberation Sans, sans-serif">Zn<tspan font-size="8.2" dy="-4.6">II</tspan></text>
<text x="274.4" y="387.2" font-size="12.4" fill="#f7a06c" font-family="Liberation Sans, sans-serif">Zn<tspan font-size="8.8" dy="-4.6">0</tspan></text>
<rect x="230.2" y="177.86" width="131.2" height="234.53999999999996" fill="none" stroke="#1a1a1a" stroke-width="1.2"/>
<line x1="246.60" y1="412.4" x2="246.60" y2="408.09999999999997" stroke="#1a1a1a" stroke-width="1.2"/>
<line x1="263.00" y1="412.4" x2="263.00" y2="410.2" stroke="#1a1a1a" stroke-width="1.2"/>
<line x1="279.40" y1="412.4" x2="279.40" y2="410.2" stroke="#1a1a1a" stroke-width="1.2"/>
<line x1="295.80" y1="412.4" x2="295.80" y2="408.09999999999997" stroke="#1a1a1a" stroke-width="1.2"/>
<line x1="312.20" y1="412.4" x2="312.20" y2="410.2" stroke="#1a1a1a" stroke-width="1.2"/>
<line x1="328.60" y1="412.4" x2="328.60" y2="410.2" stroke="#1a1a1a" stroke-width="1.2"/>
<line x1="345.00" y1="412.4" x2="345.00" y2="408.09999999999997" stroke="#1a1a1a" stroke-width="1.2"/>
<text x="247.10" y="426.9" font-size="12.5" text-anchor="middle" font-family="Liberation Sans, sans-serif">1050</text>
<text x="296.30" y="426.9" font-size="12.5" text-anchor="middle" font-family="Liberation Sans, sans-serif">1035</text>
<text x="345.50" y="426.9" font-size="12.5" text-anchor="middle" font-family="Liberation Sans, sans-serif">1020</text>
<text x="221" y="440.3" font-size="12.5" text-anchor="middle" font-family="Liberation Sans, sans-serif">Binding energy (eV)</text></svg>
</body></html>
